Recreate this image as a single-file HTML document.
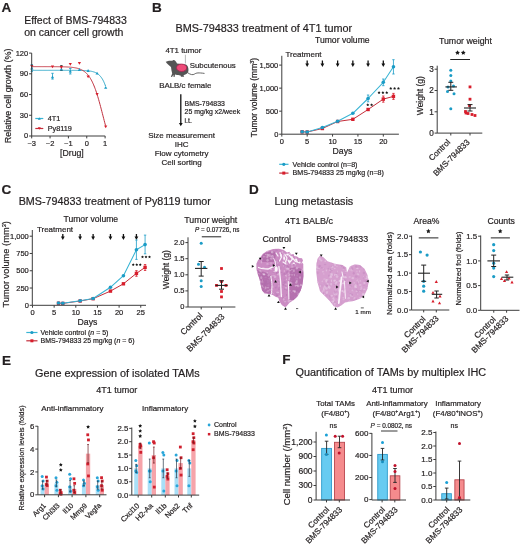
<!DOCTYPE html><html><head><meta charset="utf-8"><style>html,body{margin:0;padding:0;background:#fff;}svg{display:block;}text{font-family:"Liberation Sans",sans-serif;fill:#231f20;stroke:#231f20;stroke-width:0.2px;}</style></head><body>
<svg width="520" height="544" viewBox="0 0 520 544">
<rect width="520" height="544" fill="#fff"/>
<text x="1.5" y="12.2" font-size="13.5" font-weight="bold">A</text>
<text x="24.2" y="24.4" font-size="10.5">Effect of BMS-794833</text>
<text x="24.2" y="36.4" font-size="10.5">on cancer cell growth</text>
<polyline points="31.7,70.34 32.16,70.34 32.62,70.34 33.08,70.34 33.54,70.34 33.99,70.34 34.45,70.34 34.91,70.34 35.37,70.34 35.83,70.34 36.29,70.34 36.75,70.34 37.2,70.34 37.66,70.34 38.12,70.34 38.58,70.34 39.04,70.34 39.5,70.34 39.96,70.34 40.42,70.34 40.88,70.34 41.33,70.34 41.79,70.34 42.25,70.34 42.71,70.34 43.17,70.34 43.63,70.34 44.09,70.34 44.55,70.34 45,70.34 45.46,70.34 45.92,70.34 46.38,70.34 46.84,70.34 47.3,70.34 47.76,70.34 48.22,70.34 48.67,70.34 49.13,70.34 49.59,70.34 50.05,70.34 50.51,70.34 50.97,70.34 51.43,70.34 51.89,70.34 52.34,70.34 52.8,70.34 53.26,70.34 53.72,70.34 54.18,70.34 54.64,70.34 55.1,70.34 55.56,70.34 56.01,70.34 56.47,70.34 56.93,70.34 57.39,70.34 57.85,70.34 58.31,70.34 58.77,70.34 59.23,70.34 59.68,70.34 60.14,70.34 60.6,70.34 61.06,70.34 61.52,70.34 61.98,70.34 62.44,70.34 62.89,70.34 63.35,70.34 63.81,70.34 64.27,70.34 64.73,70.34 65.19,70.34 65.65,70.34 66.11,70.34 66.56,70.34 67.02,70.34 67.48,70.34 67.94,70.34 68.4,70.34 68.86,70.35 69.32,70.35 69.78,70.35 70.23,70.35 70.69,70.35 71.15,70.35 71.61,70.35 72.07,70.35 72.53,70.36 72.99,70.36 73.45,70.36 73.91,70.36 74.36,70.37 74.82,70.37 75.28,70.37 75.74,70.38 76.2,70.38 76.66,70.38 77.12,70.39 77.58,70.39 78.03,70.4 78.49,70.41 78.95,70.41 79.41,70.42 79.87,70.43 80.33,70.44 80.79,70.45 81.25,70.46 81.7,70.47 82.16,70.48 82.62,70.5 83.08,70.51 83.54,70.53 84,70.55 84.46,70.57 84.92,70.6 85.37,70.62 85.83,70.65 86.29,70.68 86.75,70.71 87.21,70.75 87.67,70.79 88.13,70.84 88.59,70.89 89.04,70.94 89.5,71 89.96,71.06 90.42,71.14 90.88,71.21 91.34,71.3 91.8,71.4 92.25,71.5 92.71,71.61 93.17,71.74 93.63,71.88 94.09,72.03 94.55,72.19 95.01,72.37 95.47,72.57 95.93,72.78 96.38,73.02 96.84,73.28 97.3,73.56 97.76,73.87 98.22,74.21 98.68,74.58 99.14,74.99 99.6,75.43 100.05,75.91 100.51,76.44 100.97,77.01 101.43,77.63 101.89,78.3 102.35,79.04 102.81,79.83 103.27,80.69 103.72,81.62 104.18,82.63 104.64,83.71 105.1,84.88 105.56,86.13" fill="none" stroke="#2fa8c8" stroke-width="1" stroke-linejoin="round"/>
<polyline points="31.7,66.64 32.16,66.64 32.62,66.64 33.08,66.64 33.54,66.64 33.99,66.64 34.45,66.64 34.91,66.64 35.37,66.64 35.83,66.64 36.29,66.64 36.75,66.64 37.2,66.64 37.66,66.64 38.12,66.64 38.58,66.64 39.04,66.64 39.5,66.64 39.96,66.64 40.42,66.65 40.88,66.65 41.33,66.65 41.79,66.65 42.25,66.65 42.71,66.65 43.17,66.65 43.63,66.65 44.09,66.65 44.55,66.65 45,66.65 45.46,66.65 45.92,66.65 46.38,66.65 46.84,66.65 47.3,66.65 47.76,66.66 48.22,66.66 48.67,66.66 49.13,66.66 49.59,66.66 50.05,66.66 50.51,66.66 50.97,66.67 51.43,66.67 51.89,66.67 52.34,66.67 52.8,66.67 53.26,66.68 53.72,66.68 54.18,66.68 54.64,66.69 55.1,66.69 55.56,66.69 56.01,66.7 56.47,66.7 56.93,66.71 57.39,66.71 57.85,66.72 58.31,66.72 58.77,66.73 59.23,66.73 59.68,66.74 60.14,66.75 60.6,66.76 61.06,66.77 61.52,66.78 61.98,66.79 62.44,66.8 62.89,66.81 63.35,66.82 63.81,66.84 64.27,66.85 64.73,66.87 65.19,66.88 65.65,66.9 66.11,66.92 66.56,66.94 67.02,66.97 67.48,66.99 67.94,67.02 68.4,67.04 68.86,67.07 69.32,67.11 69.78,67.14 70.23,67.18 70.69,67.22 71.15,67.26 71.61,67.31 72.07,67.36 72.53,67.42 72.99,67.47 73.45,67.54 73.91,67.6 74.36,67.68 74.82,67.75 75.28,67.84 75.74,67.93 76.2,68.02 76.66,68.12 77.12,68.24 77.58,68.35 78.03,68.48 78.49,68.62 78.95,68.76 79.41,68.92 79.87,69.09 80.33,69.27 80.79,69.46 81.25,69.67 81.7,69.89 82.16,70.13 82.62,70.38 83.08,70.65 83.54,70.94 84,71.25 84.46,71.59 84.92,71.94 85.37,72.32 85.83,72.72 86.29,73.15 86.75,73.61 87.21,74.09 87.67,74.61 88.13,75.16 88.59,75.75 89.04,76.37 89.5,77.02 89.96,77.72 90.42,78.46 90.88,79.24 91.34,80.06 91.8,80.93 92.25,81.84 92.71,82.8 93.17,83.81 93.63,84.86 94.09,85.97 94.55,87.13 95.01,88.33 95.47,89.59 95.93,90.89 96.38,92.25 96.84,93.65 97.3,95.1 97.76,96.59 98.22,98.13 98.68,99.7 99.14,101.32 99.6,102.97 100.05,104.65 100.51,106.35 100.97,108.08 101.43,109.83 101.89,111.6 102.35,113.37 102.81,115.15 103.27,116.94 103.72,118.71 104.18,120.48 104.64,122.24 105.1,123.98 105.56,125.69" fill="none" stroke="#c0303e" stroke-width="1" stroke-linejoin="round"/>
<line x1="31.8" y1="64.5" x2="31.8" y2="71.4" stroke="#1b9cc6" stroke-width="0.8"/>
<line x1="30.6" y1="64.5" x2="33" y2="64.5" stroke="#1b9cc6" stroke-width="0.8"/>
<line x1="30.6" y1="71.4" x2="33" y2="71.4" stroke="#1b9cc6" stroke-width="0.8"/>
<line x1="52.5" y1="73.3" x2="52.5" y2="79.1" stroke="#1b9cc6" stroke-width="0.8"/>
<line x1="51.3" y1="73.3" x2="53.7" y2="73.3" stroke="#1b9cc6" stroke-width="0.8"/>
<line x1="51.3" y1="79.1" x2="53.7" y2="79.1" stroke="#1b9cc6" stroke-width="0.8"/>
<line x1="61.4" y1="65.5" x2="61.4" y2="70.5" stroke="#333" stroke-width="0.8"/>
<line x1="60.2" y1="65.5" x2="62.6" y2="65.5" stroke="#333" stroke-width="0.8"/>
<line x1="60.2" y1="70.5" x2="62.6" y2="70.5" stroke="#333" stroke-width="0.8"/>
<line x1="70.3" y1="68.5" x2="70.3" y2="74" stroke="#1b9cc6" stroke-width="0.8"/>
<line x1="69.1" y1="68.5" x2="71.5" y2="68.5" stroke="#1b9cc6" stroke-width="0.8"/>
<line x1="69.1" y1="74" x2="71.5" y2="74" stroke="#1b9cc6" stroke-width="0.8"/>
<polygon points="30.2,69.39 33.4,69.39 31.8,66.61" fill="#1b9cc6"/>
<polygon points="50.9,78.19 54.1,78.19 52.5,75.41" fill="#1b9cc6"/>
<polygon points="59.8,70.39 63,70.39 61.4,67.61" fill="#1b9cc6"/>
<polygon points="68.7,72.59 71.9,72.59 70.3,69.81" fill="#1b9cc6"/>
<polygon points="77.8,70.89 81,70.89 79.4,68.11" fill="#1b9cc6"/>
<polygon points="86.5,71.89 89.7,71.89 88.1,69.11" fill="#1b9cc6"/>
<polygon points="95.5,74.49 98.7,74.49 97.1,71.71" fill="#1b9cc6"/>
<polygon points="104.1,88.69 107.3,88.69 105.7,85.91" fill="#1b9cc6"/>
<polygon points="30.2,65.11 33.4,65.11 31.8,67.89" fill="#d81e2c"/>
<polygon points="50.9,65.41 54.1,65.41 52.5,68.19" fill="#d81e2c"/>
<polygon points="59.8,66.11 63,66.11 61.4,68.89" fill="#d81e2c"/>
<polygon points="68.7,63.01 71.9,63.01 70.3,65.79" fill="#d81e2c"/>
<polygon points="77.8,62.01 81,62.01 79.4,64.79" fill="#d81e2c"/>
<polygon points="86.5,75.41 89.7,75.41 88.1,78.19" fill="#d81e2c"/>
<polygon points="95.5,92.91 98.7,92.91 97.1,95.69" fill="#d81e2c"/>
<polygon points="104.1,125.51 107.3,125.51 105.7,128.29" fill="#d81e2c"/>
<line x1="31.7" y1="53.1" x2="31.7" y2="136" stroke="#3c3c3c" stroke-width="1"/>
<line x1="29.1" y1="53.1" x2="31.7" y2="53.1" stroke="#3c3c3c" stroke-width="1"/>
<text x="28.2" y="55.57" font-size="7.5" text-anchor="end">120</text>
<line x1="29.1" y1="73.82" x2="31.7" y2="73.82" stroke="#3c3c3c" stroke-width="1"/>
<text x="28.2" y="76.3" font-size="7.5" text-anchor="end">90</text>
<line x1="29.1" y1="94.55" x2="31.7" y2="94.55" stroke="#3c3c3c" stroke-width="1"/>
<text x="28.2" y="97.02" font-size="7.5" text-anchor="end">60</text>
<line x1="29.1" y1="115.28" x2="31.7" y2="115.28" stroke="#3c3c3c" stroke-width="1"/>
<text x="28.2" y="117.75" font-size="7.5" text-anchor="end">30</text>
<line x1="29.1" y1="136" x2="31.7" y2="136" stroke="#3c3c3c" stroke-width="1"/>
<text x="28.2" y="138.47" font-size="7.5" text-anchor="end">0</text>
<line x1="31.7" y1="136" x2="105.2" y2="136" stroke="#3c3c3c" stroke-width="1"/>
<line x1="31.7" y1="136" x2="31.7" y2="138.4" stroke="#3c3c3c" stroke-width="1"/>
<text x="31.7" y="145.7" font-size="7.5" text-anchor="middle">−3</text>
<line x1="50.05" y1="136" x2="50.05" y2="138.4" stroke="#3c3c3c" stroke-width="1"/>
<text x="50.05" y="145.7" font-size="7.5" text-anchor="middle">−2</text>
<line x1="68.4" y1="136" x2="68.4" y2="138.4" stroke="#3c3c3c" stroke-width="1"/>
<text x="68.4" y="145.7" font-size="7.5" text-anchor="middle">−1</text>
<line x1="86.75" y1="136" x2="86.75" y2="138.4" stroke="#3c3c3c" stroke-width="1"/>
<text x="86.75" y="145.7" font-size="7.5" text-anchor="middle">0</text>
<line x1="105.1" y1="136" x2="105.1" y2="138.4" stroke="#3c3c3c" stroke-width="1"/>
<text x="105.1" y="145.7" font-size="7.5" text-anchor="middle">1</text>
<text x="71.9" y="155.5" font-size="8.7" text-anchor="middle">[Drug]</text>
<text x="10.8" y="95.9" font-size="9" text-anchor="middle" transform="rotate(-90 10.8 95.9)">Relative cell growth (%)</text>
<line x1="35.3" y1="118.5" x2="43.3" y2="118.5" stroke="#38b4d4" stroke-width="1.2"/>
<polygon points="37.8,119.81 40.8,119.81 39.3,117.19" fill="#1b9cc6"/>
<text x="47.7" y="120.8" font-size="7.3">4T1</text>
<line x1="35.3" y1="128.5" x2="43.3" y2="128.5" stroke="#c42d3a" stroke-width="1.2"/>
<polygon points="37.8,127.19 40.8,127.19 39.3,129.81" fill="#d81e2c"/>
<text x="47.7" y="130.8" font-size="7.3">Py8119</text>
<text x="152" y="12.2" font-size="13.5" font-weight="bold">B</text>
<text x="175.6" y="31.6" font-size="10.85">BMS-794833 treatment of 4T1 tumor</text>
<text x="165.4" y="53.1" font-size="7.9">4T1 tumor</text>
<line x1="185.4" y1="54.8" x2="185.4" y2="63.5" stroke="#888" stroke-width="0.6"/>
<path d="M165.7,61.8 C167.5,60.8 170,60.4 172.4,60.8 C172.7,59.7 174.5,59.5 175.2,60.8 C176,61.5 176.5,62.5 177,63.5 L186,64.5 C188.5,66 189,70 188,72.5 C187,74 185,74.8 183.5,75.2 L184.2,76.7 L181,76.7 L180.5,75.4 C178.5,75.4 176.5,75 175,74.5 L174.6,76.9 L173.6,76.9 L173.4,74.8 L172,76.9 L170.9,76.7 L172.2,73.5 C171.6,71.5 171.2,69 171,67 C169,65.5 167,63.8 165.7,61.8 Z" fill="#555"/>
<path d="M187.8,72.8 C190.5,74.6 192.8,75.3 194.6,74 C196.3,72.8 198.5,72.6 204.5,73.4" stroke="#555" stroke-width="0.9" fill="none"/>
<ellipse cx="181.6" cy="67.8" rx="5.1" ry="3.7" fill="#ee4b79" stroke="#a8224f" stroke-width="0.8"/>
<text x="189.7" y="67.8" font-size="7.9">Subcutenous</text>
<text x="159.2" y="88" font-size="7.9">BALB/c female</text>
<line x1="180.8" y1="94.3" x2="180.8" y2="124.3" stroke="#111" stroke-width="1.3"/>
<polygon points="178.9,122.9 182.7,122.9 180.8,126.3" fill="#111"/>
<text x="184.6" y="105.9" font-size="6.9">BMS-794833</text>
<text x="184.6" y="114.4" font-size="6.9">25 mg/kg x2/week</text>
<text x="184.6" y="123.2" font-size="6.9">i.t.</text>
<text x="181.6" y="137.6" font-size="8" text-anchor="middle">Size measurement</text>
<text x="181.6" y="146.6" font-size="8" text-anchor="middle">IHC</text>
<text x="181.6" y="155.6" font-size="8" text-anchor="middle">Flow cytometry</text>
<text x="181.6" y="164.6" font-size="8" text-anchor="middle">Cell sorting</text>
<text x="342.3" y="42.7" font-size="8.6" text-anchor="middle">Tumor volume</text>
<text x="285.4" y="56.5" font-size="8">Treatment</text>
<line x1="307.18" y1="60.5" x2="307.18" y2="65" stroke="#111" stroke-width="1.3"/>
<polygon points="305.28,63.6 309.07,63.6 307.18,67" fill="#111"/>
<line x1="322.4" y1="60.5" x2="322.4" y2="65" stroke="#111" stroke-width="1.3"/>
<polygon points="320.5,63.6 324.3,63.6 322.4,67" fill="#111"/>
<line x1="337.62" y1="60.5" x2="337.62" y2="65" stroke="#111" stroke-width="1.3"/>
<polygon points="335.73,63.6 339.52,63.6 337.62,67" fill="#111"/>
<line x1="352.85" y1="60.5" x2="352.85" y2="65" stroke="#111" stroke-width="1.3"/>
<polygon points="350.95,63.6 354.75,63.6 352.85,67" fill="#111"/>
<line x1="368.08" y1="60.5" x2="368.08" y2="65" stroke="#111" stroke-width="1.3"/>
<polygon points="366.18,63.6 369.98,63.6 368.08,67" fill="#111"/>
<line x1="383.3" y1="60.5" x2="383.3" y2="65" stroke="#111" stroke-width="1.3"/>
<polygon points="381.4,63.6 385.2,63.6 383.3,67" fill="#111"/>
<polyline points="302.1,131.8 307.18,132 322.4,128.5 337.62,121.5 352.85,119.3 368.08,109.5 383.3,99.1 393.45,96.4" fill="none" stroke="#c42d3a" stroke-width="1" stroke-linejoin="round"/>
<line x1="383.3" y1="96" x2="383.3" y2="102.2" stroke="#d81e2c" stroke-width="0.8"/>
<line x1="382.1" y1="96" x2="384.5" y2="96" stroke="#d81e2c" stroke-width="0.8"/>
<line x1="382.1" y1="102.2" x2="384.5" y2="102.2" stroke="#d81e2c" stroke-width="0.8"/>
<line x1="393.45" y1="93.4" x2="393.45" y2="99.4" stroke="#d81e2c" stroke-width="0.8"/>
<line x1="392.25" y1="93.4" x2="394.65" y2="93.4" stroke="#d81e2c" stroke-width="0.8"/>
<line x1="392.25" y1="99.4" x2="394.65" y2="99.4" stroke="#d81e2c" stroke-width="0.8"/>
<rect x="300.4" y="130.1" width="3.4" height="3.4" fill="#d81e2c"/>
<rect x="305.48" y="130.3" width="3.4" height="3.4" fill="#d81e2c"/>
<rect x="320.7" y="126.8" width="3.4" height="3.4" fill="#d81e2c"/>
<rect x="335.93" y="119.8" width="3.4" height="3.4" fill="#d81e2c"/>
<rect x="351.15" y="117.6" width="3.4" height="3.4" fill="#d81e2c"/>
<rect x="366.38" y="107.8" width="3.4" height="3.4" fill="#d81e2c"/>
<rect x="381.6" y="97.4" width="3.4" height="3.4" fill="#d81e2c"/>
<rect x="391.75" y="94.7" width="3.4" height="3.4" fill="#d81e2c"/>
<polyline points="302.1,131.8 307.18,132 322.4,127.5 337.62,121.2 352.85,113.3 368.08,98.5 383.3,82.3 393.45,66.8" fill="none" stroke="#38b4d4" stroke-width="1.05" stroke-linejoin="round"/>
<line x1="368.08" y1="95" x2="368.08" y2="101.8" stroke="#1b9cc6" stroke-width="0.8"/>
<line x1="366.88" y1="95" x2="369.28" y2="95" stroke="#1b9cc6" stroke-width="0.8"/>
<line x1="366.88" y1="101.8" x2="369.28" y2="101.8" stroke="#1b9cc6" stroke-width="0.8"/>
<line x1="383.3" y1="79" x2="383.3" y2="85.7" stroke="#1b9cc6" stroke-width="0.8"/>
<line x1="382.1" y1="79" x2="384.5" y2="79" stroke="#1b9cc6" stroke-width="0.8"/>
<line x1="382.1" y1="85.7" x2="384.5" y2="85.7" stroke="#1b9cc6" stroke-width="0.8"/>
<line x1="393.45" y1="59.7" x2="393.45" y2="74" stroke="#1b9cc6" stroke-width="0.8"/>
<line x1="392.25" y1="59.7" x2="394.65" y2="59.7" stroke="#1b9cc6" stroke-width="0.8"/>
<line x1="392.25" y1="74" x2="394.65" y2="74" stroke="#1b9cc6" stroke-width="0.8"/>
<circle cx="302.1" cy="131.8" r="1.8" fill="#1b9cc6"/>
<circle cx="307.18" cy="132" r="1.8" fill="#1b9cc6"/>
<circle cx="322.4" cy="127.5" r="1.8" fill="#1b9cc6"/>
<circle cx="337.62" cy="121.2" r="1.8" fill="#1b9cc6"/>
<circle cx="352.85" cy="113.3" r="1.8" fill="#1b9cc6"/>
<circle cx="368.08" cy="98.5" r="1.8" fill="#1b9cc6"/>
<circle cx="383.3" cy="82.3" r="1.8" fill="#1b9cc6"/>
<circle cx="393.45" cy="66.8" r="1.8" fill="#1b9cc6"/>
<polygon points="367.77,103.2 368.26,104.13 369.3,104.31 368.57,105.06 368.72,106.09 367.77,105.63 366.83,106.09 366.98,105.06 366.25,104.31 367.29,104.13" fill="#1a1a1a"/>
<polygon points="371.62,103.2 372.11,104.13 373.15,104.31 372.42,105.06 372.57,106.09 371.62,105.63 370.68,106.09 370.83,105.06 370.1,104.31 371.14,104.13" fill="#1a1a1a"/>
<polygon points="379.05,91 379.54,91.93 380.57,92.11 379.84,92.86 379.99,93.89 379.05,93.43 378.11,93.89 378.26,92.86 377.53,92.11 378.56,91.93" fill="#1a1a1a"/>
<polygon points="382.9,91 383.39,91.93 384.42,92.11 383.69,92.86 383.84,93.89 382.9,93.43 381.96,93.89 382.11,92.86 381.38,92.11 382.41,91.93" fill="#1a1a1a"/>
<polygon points="386.75,91 387.24,91.93 388.27,92.11 387.54,92.86 387.69,93.89 386.75,93.43 385.81,93.89 385.96,92.86 385.23,92.11 386.26,91.93" fill="#1a1a1a"/>
<polygon points="390.75,86.9 391.24,87.83 392.27,88.01 391.54,88.76 391.69,89.79 390.75,89.33 389.81,89.79 389.96,88.76 389.23,88.01 390.26,87.83" fill="#1a1a1a"/>
<polygon points="394.6,86.9 395.09,87.83 396.12,88.01 395.39,88.76 395.54,89.79 394.6,89.33 393.66,89.79 393.81,88.76 393.08,88.01 394.11,87.83" fill="#1a1a1a"/>
<polygon points="398.45,86.9 398.94,87.83 399.97,88.01 399.24,88.76 399.39,89.79 398.45,89.33 397.51,89.79 397.66,88.76 396.93,88.01 397.96,87.83" fill="#1a1a1a"/>
<line x1="281.8" y1="55.8" x2="281.8" y2="134.2" stroke="#3c3c3c" stroke-width="1"/>
<line x1="279.2" y1="134.2" x2="281.8" y2="134.2" stroke="#3c3c3c" stroke-width="1"/>
<text x="278.3" y="136.67" font-size="7.5" text-anchor="end">0</text>
<line x1="279.2" y1="111.17" x2="281.8" y2="111.17" stroke="#3c3c3c" stroke-width="1"/>
<text x="278.3" y="113.64" font-size="7.5" text-anchor="end">500</text>
<line x1="279.2" y1="88.13" x2="281.8" y2="88.13" stroke="#3c3c3c" stroke-width="1"/>
<text x="278.3" y="90.61" font-size="7.5" text-anchor="end">1,000</text>
<line x1="279.2" y1="65.1" x2="281.8" y2="65.1" stroke="#3c3c3c" stroke-width="1"/>
<text x="278.3" y="67.57" font-size="7.5" text-anchor="end">1,500</text>
<line x1="281.8" y1="134.2" x2="398.9" y2="134.2" stroke="#3c3c3c" stroke-width="1"/>
<line x1="281.8" y1="134.2" x2="281.8" y2="136.6" stroke="#3c3c3c" stroke-width="1"/>
<text x="281.8" y="143.9" font-size="7.5" text-anchor="middle">0</text>
<line x1="307.18" y1="134.2" x2="307.18" y2="136.6" stroke="#3c3c3c" stroke-width="1"/>
<text x="307.18" y="143.9" font-size="7.5" text-anchor="middle">5</text>
<line x1="332.55" y1="134.2" x2="332.55" y2="136.6" stroke="#3c3c3c" stroke-width="1"/>
<text x="332.55" y="143.9" font-size="7.5" text-anchor="middle">10</text>
<line x1="357.93" y1="134.2" x2="357.93" y2="136.6" stroke="#3c3c3c" stroke-width="1"/>
<text x="357.93" y="143.9" font-size="7.5" text-anchor="middle">15</text>
<line x1="383.3" y1="134.2" x2="383.3" y2="136.6" stroke="#3c3c3c" stroke-width="1"/>
<text x="383.3" y="143.9" font-size="7.5" text-anchor="middle">20</text>
<text x="342.5" y="153.8" font-size="8.7" text-anchor="middle">Days</text>
<text x="256.5" y="97.5" font-size="8.5" text-anchor="middle" transform="rotate(-90 256.5 97.5)">Tumor volume (mm<tspan dy="-3" font-size="5.5">3</tspan><tspan dy="3">)</tspan></text>
<line x1="279.2" y1="164.3" x2="288.5" y2="164.3" stroke="#38b4d4" stroke-width="1.2"/>
<circle cx="283.8" cy="164.3" r="1.6" fill="#1b9cc6"/>
<text x="292.6" y="166.6" font-size="7.1">Vehicle control (n=8)</text>
<line x1="279.2" y1="173.1" x2="288.5" y2="173.1" stroke="#c42d3a" stroke-width="1.2"/>
<rect x="282.3" y="171.6" width="3" height="3" fill="#d81e2c"/>
<text x="292.6" y="175.4" font-size="7.1">BMS-794833 25 mg/kg (n=8)</text>
<text x="465.4" y="43.5" font-size="8.8" text-anchor="middle">Tumor weight</text>
<polygon points="457.52,50.25 458.29,51.7 459.9,51.98 458.76,53.15 458.99,54.77 457.52,54.05 456.06,54.77 456.29,53.15 455.15,51.98 456.76,51.7" fill="#1a1a1a"/>
<polygon points="463.27,50.25 464.04,51.7 465.65,51.98 464.51,53.15 464.74,54.77 463.27,54.05 461.81,54.77 462.04,53.15 460.9,51.98 462.51,51.7" fill="#1a1a1a"/>
<line x1="450.25" y1="59.5" x2="470" y2="59.5" stroke="#222" stroke-width="1"/>
<circle cx="450.8" cy="70.3" r="1.5" fill="#1b9cc6"/>
<circle cx="450.8" cy="75.4" r="1.5" fill="#1b9cc6"/>
<circle cx="450.8" cy="81.1" r="1.5" fill="#1b9cc6"/>
<circle cx="448" cy="86.9" r="1.5" fill="#1b9cc6"/>
<circle cx="453.5" cy="86" r="1.5" fill="#1b9cc6"/>
<circle cx="447.5" cy="91.5" r="1.5" fill="#1b9cc6"/>
<circle cx="454" cy="93.8" r="1.5" fill="#1b9cc6"/>
<circle cx="450.8" cy="108.8" r="1.5" fill="#1b9cc6"/>
<line x1="445.4" y1="86.9" x2="456.9" y2="86.9" stroke="#222" stroke-width="1.1"/>
<line x1="450.8" y1="82.3" x2="450.8" y2="90.3" stroke="#222" stroke-width="1"/>
<line x1="448.3" y1="82.3" x2="453.3" y2="82.3" stroke="#222" stroke-width="1"/>
<line x1="448.3" y1="90.3" x2="453.3" y2="90.3" stroke="#222" stroke-width="1"/>
<rect x="468.6" y="85.5" width="2.8" height="2.8" fill="#d81e2c"/>
<rect x="468.6" y="97.8" width="2.8" height="2.8" fill="#d81e2c"/>
<rect x="464.1" y="110.1" width="2.8" height="2.8" fill="#d81e2c"/>
<rect x="466.6" y="112.1" width="2.8" height="2.8" fill="#d81e2c"/>
<rect x="470.6" y="113.1" width="2.8" height="2.8" fill="#d81e2c"/>
<rect x="473.6" y="114.1" width="2.8" height="2.8" fill="#d81e2c"/>
<rect x="468.1" y="104.1" width="2.8" height="2.8" fill="#d81e2c"/>
<rect x="464.6" y="111.6" width="2.8" height="2.8" fill="#d81e2c"/>
<line x1="464" y1="108" x2="476" y2="108" stroke="#222" stroke-width="1.1"/>
<line x1="470" y1="104.6" x2="470" y2="111" stroke="#222" stroke-width="1"/>
<line x1="467.5" y1="104.6" x2="472.5" y2="104.6" stroke="#222" stroke-width="1"/>
<line x1="467.5" y1="111" x2="472.5" y2="111" stroke="#222" stroke-width="1"/>
<line x1="437.2" y1="65.7" x2="437.2" y2="133.1" stroke="#3c3c3c" stroke-width="1"/>
<line x1="434.6" y1="133.1" x2="437.2" y2="133.1" stroke="#3c3c3c" stroke-width="1"/>
<text x="433.7" y="135.81" font-size="8.2" text-anchor="end">0</text>
<line x1="434.6" y1="111.8" x2="437.2" y2="111.8" stroke="#3c3c3c" stroke-width="1"/>
<text x="433.7" y="114.51" font-size="8.2" text-anchor="end">1</text>
<line x1="434.6" y1="90.5" x2="437.2" y2="90.5" stroke="#3c3c3c" stroke-width="1"/>
<text x="433.7" y="93.21" font-size="8.2" text-anchor="end">2</text>
<line x1="434.6" y1="69.2" x2="437.2" y2="69.2" stroke="#3c3c3c" stroke-width="1"/>
<text x="433.7" y="71.91" font-size="8.2" text-anchor="end">3</text>
<line x1="437.2" y1="133.1" x2="482.3" y2="133.1" stroke="#3c3c3c" stroke-width="1"/>
<line x1="450.8" y1="133.1" x2="450.8" y2="135.5" stroke="#3c3c3c" stroke-width="1"/>
<line x1="470" y1="133.1" x2="470" y2="135.5" stroke="#3c3c3c" stroke-width="1"/>
<text x="450.8" y="142.7" font-size="8.2" text-anchor="end" transform="rotate(-45 450.8 142.7)">Control</text>
<text x="470.3" y="142.7" font-size="8.2" text-anchor="end" transform="rotate(-45 470.3 142.7)">BMS-794833</text>
<text x="422.7" y="95.7" font-size="8.5" text-anchor="middle" transform="rotate(-90 422.7 95.7)">Weight (g)</text>
<text x="1.5" y="194.3" font-size="13.5" font-weight="bold">C</text>
<text x="18.7" y="205.2" font-size="10.75">BMS-794833 treatment of Py8119 tumor</text>
<text x="63.5" y="222.1" font-size="8.6">Tumor volume</text>
<text x="36.9" y="232" font-size="8">Treatment</text>
<line x1="62.81" y1="234" x2="62.81" y2="238" stroke="#111" stroke-width="1.3"/>
<polygon points="60.91,236.6 64.71,236.6 62.81,240" fill="#111"/>
<line x1="80.13" y1="234" x2="80.13" y2="238" stroke="#111" stroke-width="1.3"/>
<polygon points="78.23,236.6 82.03,236.6 80.13,240" fill="#111"/>
<line x1="93.12" y1="234" x2="93.12" y2="238" stroke="#111" stroke-width="1.3"/>
<polygon points="91.22,236.6 95.02,236.6 93.12,240" fill="#111"/>
<line x1="110.44" y1="234" x2="110.44" y2="238" stroke="#111" stroke-width="1.3"/>
<polygon points="108.54,236.6 112.34,236.6 110.44,240" fill="#111"/>
<line x1="123.43" y1="234" x2="123.43" y2="238" stroke="#111" stroke-width="1.3"/>
<polygon points="121.53,236.6 125.33,236.6 123.43,240" fill="#111"/>
<line x1="136.42" y1="234" x2="136.42" y2="238" stroke="#111" stroke-width="1.3"/>
<polygon points="134.52,236.6 138.32,236.6 136.42,240" fill="#111"/>
<polyline points="58.48,303.2 62.81,303.4 80.13,301 93.12,298.7 110.44,291.1 123.43,283.8 136.42,273.4 145.08,267.4" fill="none" stroke="#c42d3a" stroke-width="1" stroke-linejoin="round"/>
<line x1="136.42" y1="270.6" x2="136.42" y2="276.3" stroke="#d81e2c" stroke-width="0.8"/>
<line x1="135.22" y1="270.6" x2="137.62" y2="270.6" stroke="#d81e2c" stroke-width="0.8"/>
<line x1="135.22" y1="276.3" x2="137.62" y2="276.3" stroke="#d81e2c" stroke-width="0.8"/>
<line x1="145.08" y1="264.5" x2="145.08" y2="270.5" stroke="#d81e2c" stroke-width="0.8"/>
<line x1="143.88" y1="264.5" x2="146.28" y2="264.5" stroke="#d81e2c" stroke-width="0.8"/>
<line x1="143.88" y1="270.5" x2="146.28" y2="270.5" stroke="#d81e2c" stroke-width="0.8"/>
<rect x="56.78" y="301.5" width="3.4" height="3.4" fill="#d81e2c"/>
<rect x="61.11" y="301.7" width="3.4" height="3.4" fill="#d81e2c"/>
<rect x="78.43" y="299.3" width="3.4" height="3.4" fill="#d81e2c"/>
<rect x="91.42" y="297" width="3.4" height="3.4" fill="#d81e2c"/>
<rect x="108.74" y="289.4" width="3.4" height="3.4" fill="#d81e2c"/>
<rect x="121.73" y="282.1" width="3.4" height="3.4" fill="#d81e2c"/>
<rect x="134.72" y="271.7" width="3.4" height="3.4" fill="#d81e2c"/>
<rect x="143.38" y="265.7" width="3.4" height="3.4" fill="#d81e2c"/>
<polyline points="58.48,303 62.81,303.2 80.13,300.8 93.12,298.5 110.44,287.3 123.43,275.7 136.42,249.8 145.08,244.6" fill="none" stroke="#38b4d4" stroke-width="1.05" stroke-linejoin="round"/>
<line x1="136.42" y1="240" x2="136.42" y2="259.4" stroke="#1b9cc6" stroke-width="0.8"/>
<line x1="135.22" y1="240" x2="137.62" y2="240" stroke="#1b9cc6" stroke-width="0.8"/>
<line x1="135.22" y1="259.4" x2="137.62" y2="259.4" stroke="#1b9cc6" stroke-width="0.8"/>
<line x1="145.08" y1="235.1" x2="145.08" y2="253.8" stroke="#1b9cc6" stroke-width="0.8"/>
<line x1="143.88" y1="235.1" x2="146.28" y2="235.1" stroke="#1b9cc6" stroke-width="0.8"/>
<line x1="143.88" y1="253.8" x2="146.28" y2="253.8" stroke="#1b9cc6" stroke-width="0.8"/>
<circle cx="58.48" cy="303" r="1.8" fill="#1b9cc6"/>
<circle cx="62.81" cy="303.2" r="1.8" fill="#1b9cc6"/>
<circle cx="80.13" cy="300.8" r="1.8" fill="#1b9cc6"/>
<circle cx="93.12" cy="298.5" r="1.8" fill="#1b9cc6"/>
<circle cx="110.44" cy="287.3" r="1.8" fill="#1b9cc6"/>
<circle cx="123.43" cy="275.7" r="1.8" fill="#1b9cc6"/>
<circle cx="136.42" cy="249.8" r="1.8" fill="#1b9cc6"/>
<circle cx="145.08" cy="244.6" r="1.8" fill="#1b9cc6"/>
<polygon points="133.25,263.25 133.71,264.12 134.68,264.29 133.99,264.99 134.13,265.96 133.25,265.53 132.37,265.96 132.51,264.99 131.82,264.29 132.79,264.12" fill="#1a1a1a"/>
<polygon points="136.75,263.25 137.21,264.12 138.18,264.29 137.49,264.99 137.63,265.96 136.75,265.53 135.87,265.96 136.01,264.99 135.32,264.29 136.29,264.12" fill="#1a1a1a"/>
<polygon points="140.25,263.25 140.71,264.12 141.68,264.29 140.99,264.99 141.13,265.96 140.25,265.53 139.37,265.96 139.51,264.99 138.82,264.29 139.79,264.12" fill="#1a1a1a"/>
<polygon points="142.5,255.5 142.96,256.37 143.93,256.54 143.24,257.24 143.38,258.21 142.5,257.78 141.62,258.21 141.76,257.24 141.07,256.54 142.04,256.37" fill="#1a1a1a"/>
<polygon points="146,255.5 146.46,256.37 147.43,256.54 146.74,257.24 146.88,258.21 146,257.78 145.12,258.21 145.26,257.24 144.57,256.54 145.54,256.37" fill="#1a1a1a"/>
<polygon points="149.5,255.5 149.96,256.37 150.93,256.54 150.24,257.24 150.38,258.21 149.5,257.78 148.62,258.21 148.76,257.24 148.07,256.54 149.04,256.37" fill="#1a1a1a"/>
<line x1="32.3" y1="230" x2="32.3" y2="305.3" stroke="#3c3c3c" stroke-width="1"/>
<line x1="29.7" y1="305.3" x2="32.3" y2="305.3" stroke="#3c3c3c" stroke-width="1"/>
<text x="28.8" y="307.78" font-size="7.5" text-anchor="end">0</text>
<line x1="29.7" y1="288.02" x2="32.3" y2="288.02" stroke="#3c3c3c" stroke-width="1"/>
<text x="28.8" y="290.5" font-size="7.5" text-anchor="end">250</text>
<line x1="29.7" y1="270.75" x2="32.3" y2="270.75" stroke="#3c3c3c" stroke-width="1"/>
<text x="28.8" y="273.23" font-size="7.5" text-anchor="end">500</text>
<line x1="29.7" y1="253.47" x2="32.3" y2="253.47" stroke="#3c3c3c" stroke-width="1"/>
<text x="28.8" y="255.95" font-size="7.5" text-anchor="end">750</text>
<line x1="29.7" y1="236.2" x2="32.3" y2="236.2" stroke="#3c3c3c" stroke-width="1"/>
<text x="28.8" y="238.67" font-size="7.5" text-anchor="end">1,000</text>
<line x1="32.3" y1="305.3" x2="146" y2="305.3" stroke="#3c3c3c" stroke-width="1"/>
<line x1="32.5" y1="305.3" x2="32.5" y2="307.7" stroke="#3c3c3c" stroke-width="1"/>
<text x="32.5" y="315" font-size="7.5" text-anchor="middle">0</text>
<line x1="54.15" y1="305.3" x2="54.15" y2="307.7" stroke="#3c3c3c" stroke-width="1"/>
<text x="54.15" y="315" font-size="7.5" text-anchor="middle">5</text>
<line x1="75.8" y1="305.3" x2="75.8" y2="307.7" stroke="#3c3c3c" stroke-width="1"/>
<text x="75.8" y="315" font-size="7.5" text-anchor="middle">10</text>
<line x1="97.45" y1="305.3" x2="97.45" y2="307.7" stroke="#3c3c3c" stroke-width="1"/>
<text x="97.45" y="315" font-size="7.5" text-anchor="middle">15</text>
<line x1="119.1" y1="305.3" x2="119.1" y2="307.7" stroke="#3c3c3c" stroke-width="1"/>
<text x="119.1" y="315" font-size="7.5" text-anchor="middle">20</text>
<line x1="140.75" y1="305.3" x2="140.75" y2="307.7" stroke="#3c3c3c" stroke-width="1"/>
<text x="140.75" y="315" font-size="7.5" text-anchor="middle">25</text>
<text x="87.5" y="324.5" font-size="8.7" text-anchor="middle">Days</text>
<text x="8.8" y="264.3" font-size="9.3" text-anchor="middle" transform="rotate(-90 8.8 264.3)">Tumor volume (mm<tspan dy="-3" font-size="5.6">3</tspan><tspan dy="3">)</tspan></text>
<line x1="26.3" y1="332.5" x2="37.5" y2="332.5" stroke="#38b4d4" stroke-width="1.2"/>
<circle cx="31.9" cy="332.5" r="1.6" fill="#1b9cc6"/>
<text x="40.5" y="334.9" font-size="7">Vehicle control (<tspan font-style="italic">n</tspan> = 5)</text>
<line x1="26.3" y1="340.8" x2="37.5" y2="340.8" stroke="#c42d3a" stroke-width="1.2"/>
<rect x="30.4" y="339.3" width="3" height="3" fill="#d81e2c"/>
<text x="40.5" y="343.2" font-size="7">BMS-794833 25 mg/kg (<tspan font-style="italic">n</tspan> = 6)</text>
<text x="210.8" y="222.7" font-size="8.8" text-anchor="middle">Tumor weight</text>
<text x="195.1" y="231.5" font-size="6.3"><tspan font-style="italic">P</tspan> = 0.07726, ns</text>
<line x1="201.8" y1="236.8" x2="221.2" y2="236.8" stroke="#222" stroke-width="1"/>
<circle cx="201.2" cy="243.2" r="1.5" fill="#1b9cc6"/>
<circle cx="198.5" cy="264.2" r="1.5" fill="#1b9cc6"/>
<circle cx="204.5" cy="267.3" r="1.5" fill="#1b9cc6"/>
<circle cx="201.2" cy="280.8" r="1.5" fill="#1b9cc6"/>
<circle cx="201.2" cy="286.5" r="1.5" fill="#1b9cc6"/>
<line x1="195" y1="268.4" x2="207.4" y2="268.4" stroke="#222" stroke-width="1.1"/>
<line x1="201.2" y1="261.5" x2="201.2" y2="276.1" stroke="#222" stroke-width="1"/>
<line x1="198.7" y1="261.5" x2="203.7" y2="261.5" stroke="#222" stroke-width="1"/>
<line x1="198.7" y1="276.1" x2="203.7" y2="276.1" stroke="#222" stroke-width="1"/>
<rect x="220.1" y="267.1" width="2.8" height="2.8" fill="#d81e2c"/>
<rect x="220.1" y="280.1" width="2.8" height="2.8" fill="#d81e2c"/>
<rect x="215.1" y="284" width="2.8" height="2.8" fill="#d81e2c"/>
<rect x="224.6" y="284" width="2.8" height="2.8" fill="#d81e2c"/>
<rect x="220.1" y="290.1" width="2.8" height="2.8" fill="#d81e2c"/>
<rect x="220.1" y="295.5" width="2.8" height="2.8" fill="#d81e2c"/>
<line x1="215.4" y1="285.4" x2="227.7" y2="285.4" stroke="#222" stroke-width="1.1"/>
<line x1="221.5" y1="280.8" x2="221.5" y2="289.2" stroke="#222" stroke-width="1"/>
<line x1="219" y1="280.8" x2="224" y2="280.8" stroke="#222" stroke-width="1"/>
<line x1="219" y1="289.2" x2="224" y2="289.2" stroke="#222" stroke-width="1"/>
<line x1="188" y1="237.3" x2="188" y2="307" stroke="#3c3c3c" stroke-width="1"/>
<line x1="185.4" y1="307" x2="188" y2="307" stroke="#3c3c3c" stroke-width="1"/>
<text x="184.5" y="309.48" font-size="7.5" text-anchor="end">0</text>
<line x1="185.4" y1="290.9" x2="188" y2="290.9" stroke="#3c3c3c" stroke-width="1"/>
<text x="184.5" y="293.38" font-size="7.5" text-anchor="end">0.5</text>
<line x1="185.4" y1="274.8" x2="188" y2="274.8" stroke="#3c3c3c" stroke-width="1"/>
<text x="184.5" y="277.28" font-size="7.5" text-anchor="end">1.0</text>
<line x1="185.4" y1="258.7" x2="188" y2="258.7" stroke="#3c3c3c" stroke-width="1"/>
<text x="184.5" y="261.18" font-size="7.5" text-anchor="end">1.5</text>
<line x1="185.4" y1="242.6" x2="188" y2="242.6" stroke="#3c3c3c" stroke-width="1"/>
<text x="184.5" y="245.07" font-size="7.5" text-anchor="end">2.0</text>
<line x1="188" y1="307" x2="235.4" y2="307" stroke="#3c3c3c" stroke-width="1"/>
<line x1="201.2" y1="307" x2="201.2" y2="309.4" stroke="#3c3c3c" stroke-width="1"/>
<line x1="221.5" y1="307" x2="221.5" y2="309.4" stroke="#3c3c3c" stroke-width="1"/>
<text x="203.2" y="316.2" font-size="8.5" text-anchor="end" transform="rotate(-45 203.2 316.2)">Control</text>
<text x="225.1" y="317.1" font-size="8.5" text-anchor="end" transform="rotate(-45 225.1 317.1)">BMS-794833</text>
<text x="168.6" y="269.7" font-size="8.5" text-anchor="middle" transform="rotate(-90 168.6 269.7)">Weight (g)</text>
<text x="249" y="194" font-size="13.5" font-weight="bold">D</text>
<text x="274.6" y="205" font-size="10.8">Lung metastasis</text>
<text x="285" y="224.2" font-size="9">4T1 BALB/c</text>
<text x="262.4" y="241.5" font-size="8.9">Control</text>
<text x="316.3" y="241.5" font-size="8.9">BMS-794833</text>
<defs><clipPath id="cla"><path d="M262.6,254 L267,250.9 L273.3,249 L278.9,248.8 L282,249.6 L284.5,250.5 L287,252.5 L289.5,251.8 L291,254.5 L293.5,254 L294.5,256.5 L297,256.5 L299,258 L302,258.2 L303,260.5 L302,262.5 L303.3,264 L303.3,269 L303.5,276.5 L302.6,284 L300.8,290.3 L297.6,296.5 L293.3,300.3 L289.5,302.8 L286.4,306.5 L285.1,307.1 L282,305.3 L279.5,301.5 L278.3,297.8 L275.1,296.5 L272,294.6 L268.3,294 L264.5,293.4 L262,290.3 L260.8,285.3 L259.5,279 L257.6,274 L256.4,269 L256.4,264 L257.6,260.9 L260.1,257.8 Z"/></clipPath><clipPath id="clb"><path d="M317.5,258.75 L320,255.5 L323.75,257.5 L327.5,261.25 L335,263.75 L342.5,265 L346.25,267.5 L347,272.5 L350,266.25 L355,264.25 L360,265 L364.5,268.75 L367.5,275 L368.75,281.25 L367.5,288.75 L364.5,295 L360,298.75 L352.5,301.25 L345,302.5 L341.25,305.5 L337.5,307.5 L333.75,306.25 L330,301.25 L325,296.25 L320,291.25 L317.5,282.5 L316.25,272.5 L316.25,265 Z"/></clipPath></defs>
<filter id="lb" x="-0.1" y="-0.1" width="1.2" height="1.2"><feGaussianBlur stdDeviation="0.35"/></filter><g filter="url(#lb)">
<path d="M262.6,254 L267,250.9 L273.3,249 L278.9,248.8 L282,249.6 L284.5,250.5 L287,252.5 L289.5,251.8 L291,254.5 L293.5,254 L294.5,256.5 L297,256.5 L299,258 L302,258.2 L303,260.5 L302,262.5 L303.3,264 L303.3,269 L303.5,276.5 L302.6,284 L300.8,290.3 L297.6,296.5 L293.3,300.3 L289.5,302.8 L286.4,306.5 L285.1,307.1 L282,305.3 L279.5,301.5 L278.3,297.8 L275.1,296.5 L272,294.6 L268.3,294 L264.5,293.4 L262,290.3 L260.8,285.3 L259.5,279 L257.6,274 L256.4,269 L256.4,264 L257.6,260.9 L260.1,257.8 Z" fill="#cb8cc3"/>
<path d="M317.5,258.75 L320,255.5 L323.75,257.5 L327.5,261.25 L335,263.75 L342.5,265 L346.25,267.5 L347,272.5 L350,266.25 L355,264.25 L360,265 L364.5,268.75 L367.5,275 L368.75,281.25 L367.5,288.75 L364.5,295 L360,298.75 L352.5,301.25 L345,302.5 L341.25,305.5 L337.5,307.5 L333.75,306.25 L330,301.25 L325,296.25 L320,291.25 L317.5,282.5 L316.25,272.5 L316.25,265 Z" fill="#d6a0cf"/>
<g clip-path="url(#cla)" fill="#b26cab" opacity="0.85"><path d="M257,270 C262,272 268,272 271,276 L272,294 L262,292 Z"/><path d="M290,268 C296,266 302,268 304,272 L302,290 L294,300 L289,300 Z"/><path d="M262,255 C266,252 272,250 276,252 L275,262 L262,262 Z"/></g>
<g clip-path="url(#cla)">
<ellipse cx="271.19" cy="256.2" rx="1.12" ry="0.48" fill="#e8cfe6" opacity="0.45"/>
<ellipse cx="273.28" cy="250.54" rx="0.96" ry="0.44" fill="#c284bf" opacity="0.5"/>
<ellipse cx="275.91" cy="261.68" rx="1.01" ry="0.47" fill="#e8cfe6" opacity="0.45"/>
<ellipse cx="302.37" cy="285.47" rx="1.04" ry="0.47" fill="#c284bf" opacity="0.5"/>
<ellipse cx="257.48" cy="260.49" rx="1.01" ry="0.55" fill="#c284bf" opacity="0.5"/>
<ellipse cx="262.21" cy="254.19" rx="0.74" ry="1.3" fill="#f6ecf5" opacity="0.35"/>
<ellipse cx="260.15" cy="281.84" rx="0.61" ry="0.51" fill="#e8cfe6" opacity="0.45"/>
<ellipse cx="283.22" cy="284.76" rx="0.95" ry="0.98" fill="#b06cad" opacity="0.45"/>
<ellipse cx="278.28" cy="303.33" rx="0.8" ry="0.67" fill="#f6ecf5" opacity="0.35"/>
<ellipse cx="289.95" cy="261.89" rx="1.03" ry="0.98" fill="#b06cad" opacity="0.45"/>
<ellipse cx="291.47" cy="264.56" rx="1.48" ry="0.53" fill="#c284bf" opacity="0.5"/>
<ellipse cx="263.25" cy="267.87" rx="1.43" ry="0.86" fill="#e8cfe6" opacity="0.45"/>
<ellipse cx="293.23" cy="281.95" rx="1.36" ry="0.75" fill="#b06cad" opacity="0.45"/>
<ellipse cx="284.72" cy="282.37" rx="0.9" ry="1.32" fill="#b06cad" opacity="0.45"/>
<ellipse cx="278.7" cy="287.51" rx="0.47" ry="1.17" fill="#c284bf" opacity="0.5"/>
<ellipse cx="269.23" cy="270.53" rx="1.14" ry="0.42" fill="#c284bf" opacity="0.5"/>
<ellipse cx="272.77" cy="284.27" rx="0.94" ry="0.64" fill="#b06cad" opacity="0.45"/>
<ellipse cx="261.47" cy="262.1" rx="0.83" ry="1.36" fill="#e8cfe6" opacity="0.45"/>
<ellipse cx="263.32" cy="271.5" rx="0.71" ry="0.55" fill="#c284bf" opacity="0.5"/>
<ellipse cx="298.2" cy="263.98" rx="0.86" ry="0.79" fill="#c284bf" opacity="0.5"/>
<ellipse cx="302.89" cy="256.21" rx="0.59" ry="0.66" fill="#f6ecf5" opacity="0.35"/>
<ellipse cx="255.6" cy="297.7" rx="0.6" ry="0.71" fill="#f6ecf5" opacity="0.35"/>
<ellipse cx="275.95" cy="269.52" rx="1.02" ry="1.45" fill="#e8cfe6" opacity="0.45"/>
<ellipse cx="277.83" cy="300.13" rx="1.45" ry="1.15" fill="#c284bf" opacity="0.5"/>
<ellipse cx="274.9" cy="271.04" rx="0.93" ry="0.84" fill="#f6ecf5" opacity="0.35"/>
<ellipse cx="258.37" cy="259.73" rx="0.58" ry="0.77" fill="#e8cfe6" opacity="0.45"/>
<ellipse cx="260.12" cy="281.57" rx="0.99" ry="1.44" fill="#e8cfe6" opacity="0.45"/>
<ellipse cx="258.52" cy="259.69" rx="0.81" ry="1.1" fill="#b06cad" opacity="0.45"/>
<ellipse cx="285.11" cy="275.92" rx="0.53" ry="0.94" fill="#c284bf" opacity="0.5"/>
<ellipse cx="279.02" cy="266.02" rx="0.56" ry="1.22" fill="#b06cad" opacity="0.45"/>
<ellipse cx="278.93" cy="289.22" rx="0.97" ry="0.63" fill="#b06cad" opacity="0.45"/>
<ellipse cx="262.33" cy="280.13" rx="0.43" ry="0.98" fill="#e8cfe6" opacity="0.45"/>
<ellipse cx="289.81" cy="262.93" rx="0.8" ry="0.58" fill="#f6ecf5" opacity="0.35"/>
<ellipse cx="281.63" cy="294.52" rx="0.76" ry="0.65" fill="#f6ecf5" opacity="0.35"/>
<ellipse cx="295.3" cy="296.92" rx="1.21" ry="0.65" fill="#c284bf" opacity="0.5"/>
<ellipse cx="272.78" cy="248.77" rx="0.43" ry="0.71" fill="#b06cad" opacity="0.45"/>
<ellipse cx="264.68" cy="283.91" rx="0.78" ry="1.29" fill="#b06cad" opacity="0.45"/>
<ellipse cx="302.75" cy="269.24" rx="0.64" ry="0.65" fill="#f6ecf5" opacity="0.35"/>
<ellipse cx="271.89" cy="276.44" rx="1.48" ry="1.07" fill="#e8cfe6" opacity="0.45"/>
<ellipse cx="278.97" cy="286.83" rx="1.28" ry="0.49" fill="#e8cfe6" opacity="0.45"/>
<ellipse cx="300.49" cy="294.72" rx="1.23" ry="0.93" fill="#f6ecf5" opacity="0.35"/>
<ellipse cx="276.7" cy="285.79" rx="0.5" ry="1.44" fill="#c284bf" opacity="0.5"/>
<ellipse cx="278.16" cy="292.34" rx="0.49" ry="0.57" fill="#f6ecf5" opacity="0.35"/>
<ellipse cx="256.38" cy="283.04" rx="0.91" ry="1.12" fill="#c284bf" opacity="0.5"/>
<ellipse cx="287.86" cy="268.37" rx="1" ry="0.54" fill="#e8cfe6" opacity="0.45"/>
<ellipse cx="294.97" cy="291.31" rx="0.51" ry="1.22" fill="#f6ecf5" opacity="0.35"/>
<ellipse cx="276.69" cy="300.18" rx="1.31" ry="0.63" fill="#b06cad" opacity="0.45"/>
<ellipse cx="265.64" cy="277.57" rx="1.24" ry="0.76" fill="#c284bf" opacity="0.5"/>
<ellipse cx="296.71" cy="250.72" rx="1.21" ry="1.39" fill="#c284bf" opacity="0.5"/>
<ellipse cx="296.36" cy="300.57" rx="0.54" ry="0.57" fill="#e8cfe6" opacity="0.45"/>
<ellipse cx="298.64" cy="294.37" rx="1.07" ry="1.25" fill="#f6ecf5" opacity="0.35"/>
<ellipse cx="263.62" cy="275.88" rx="1.2" ry="1.01" fill="#b06cad" opacity="0.45"/>
<ellipse cx="289.12" cy="279.37" rx="0.93" ry="1.25" fill="#e8cfe6" opacity="0.45"/>
<ellipse cx="267.42" cy="263.89" rx="1.25" ry="0.96" fill="#e8cfe6" opacity="0.45"/>
<ellipse cx="293" cy="302.66" rx="0.89" ry="1.07" fill="#f6ecf5" opacity="0.35"/>
<ellipse cx="289.64" cy="274.59" rx="0.99" ry="0.93" fill="#f6ecf5" opacity="0.35"/>
<ellipse cx="289.96" cy="300.47" rx="1.44" ry="0.69" fill="#f6ecf5" opacity="0.35"/>
<ellipse cx="297" cy="255.37" rx="0.53" ry="0.89" fill="#e8cfe6" opacity="0.45"/>
<ellipse cx="288.56" cy="273.13" rx="0.63" ry="0.73" fill="#e8cfe6" opacity="0.45"/>
<ellipse cx="299.85" cy="256.42" rx="1.19" ry="1.13" fill="#f6ecf5" opacity="0.35"/>
<ellipse cx="267.66" cy="255.37" rx="0.91" ry="1.22" fill="#e8cfe6" opacity="0.45"/>
<ellipse cx="274.91" cy="276.72" rx="1.49" ry="1.32" fill="#f6ecf5" opacity="0.35"/>
<ellipse cx="290.32" cy="307.64" rx="0.84" ry="0.86" fill="#b06cad" opacity="0.45"/>
<ellipse cx="270.93" cy="291.05" rx="0.42" ry="1.01" fill="#c284bf" opacity="0.5"/>
<ellipse cx="290.16" cy="270.45" rx="0.97" ry="0.72" fill="#e8cfe6" opacity="0.45"/>
<ellipse cx="260.64" cy="303.03" rx="0.65" ry="1.36" fill="#e8cfe6" opacity="0.45"/>
<ellipse cx="268.28" cy="249.41" rx="1.26" ry="0.7" fill="#f6ecf5" opacity="0.35"/>
<ellipse cx="295.99" cy="298.82" rx="1.14" ry="1.44" fill="#c284bf" opacity="0.5"/>
<ellipse cx="262.47" cy="303.07" rx="1.03" ry="1.17" fill="#e8cfe6" opacity="0.45"/>
<ellipse cx="268.95" cy="295.77" rx="0.6" ry="1.38" fill="#b06cad" opacity="0.45"/>
<ellipse cx="301.92" cy="285.7" rx="1.28" ry="0.49" fill="#f6ecf5" opacity="0.35"/>
<ellipse cx="258.33" cy="299.63" rx="0.9" ry="0.77" fill="#c284bf" opacity="0.5"/>
<ellipse cx="301.33" cy="263.34" rx="0.54" ry="0.98" fill="#f6ecf5" opacity="0.35"/>
<ellipse cx="301.91" cy="306.12" rx="0.69" ry="0.6" fill="#b06cad" opacity="0.45"/>
<ellipse cx="286.43" cy="279.4" rx="0.63" ry="0.89" fill="#f6ecf5" opacity="0.35"/>
<ellipse cx="268.53" cy="296.02" rx="1.49" ry="0.44" fill="#e8cfe6" opacity="0.45"/>
<ellipse cx="291.65" cy="280.61" rx="0.61" ry="0.92" fill="#c284bf" opacity="0.5"/>
<ellipse cx="260.31" cy="296.95" rx="0.88" ry="0.94" fill="#c284bf" opacity="0.5"/>
<ellipse cx="303.52" cy="265.77" rx="0.64" ry="0.65" fill="#f6ecf5" opacity="0.35"/>
<ellipse cx="296.61" cy="290.11" rx="1.1" ry="0.85" fill="#b06cad" opacity="0.45"/>
<ellipse cx="304.09" cy="298.06" rx="0.42" ry="1.09" fill="#b06cad" opacity="0.45"/>
<ellipse cx="276.54" cy="250.38" rx="1.13" ry="0.82" fill="#b06cad" opacity="0.45"/>
<ellipse cx="284.94" cy="289.25" rx="0.45" ry="0.6" fill="#b06cad" opacity="0.45"/>
<ellipse cx="277.29" cy="263.06" rx="1.46" ry="1.47" fill="#b06cad" opacity="0.45"/>
<ellipse cx="267.22" cy="305.91" rx="0.74" ry="0.79" fill="#e8cfe6" opacity="0.45"/>
<ellipse cx="271.77" cy="252.12" rx="0.71" ry="1.12" fill="#f6ecf5" opacity="0.35"/>
<ellipse cx="280.24" cy="247.3" rx="0.69" ry="0.5" fill="#c284bf" opacity="0.5"/>
<ellipse cx="284.34" cy="271.03" rx="0.73" ry="1.09" fill="#e8cfe6" opacity="0.45"/>
<ellipse cx="284.28" cy="279.28" rx="1.23" ry="1.12" fill="#c284bf" opacity="0.5"/>
<ellipse cx="293.22" cy="290.96" rx="0.94" ry="0.71" fill="#f6ecf5" opacity="0.35"/>
<ellipse cx="257.19" cy="297.95" rx="1.38" ry="1.09" fill="#f6ecf5" opacity="0.35"/>
<ellipse cx="300.49" cy="292.92" rx="1.03" ry="1.29" fill="#e8cfe6" opacity="0.45"/>
<ellipse cx="296.32" cy="282.63" rx="1.38" ry="1.15" fill="#f6ecf5" opacity="0.35"/>
<ellipse cx="259.25" cy="249.55" rx="1.1" ry="1.46" fill="#c284bf" opacity="0.5"/>
<ellipse cx="296.79" cy="281.07" rx="1.09" ry="1.09" fill="#f6ecf5" opacity="0.35"/>
<ellipse cx="279.46" cy="247.2" rx="1.28" ry="1.22" fill="#e8cfe6" opacity="0.45"/>
<ellipse cx="287.96" cy="251.03" rx="1.21" ry="0.68" fill="#e8cfe6" opacity="0.45"/>
<ellipse cx="297.31" cy="261.32" rx="1.23" ry="0.65" fill="#c284bf" opacity="0.5"/>
<ellipse cx="279.7" cy="270.34" rx="0.93" ry="1.15" fill="#e8cfe6" opacity="0.45"/>
<ellipse cx="285.85" cy="286.21" rx="0.49" ry="0.56" fill="#b06cad" opacity="0.45"/>
<ellipse cx="287.58" cy="289.27" rx="1.08" ry="0.55" fill="#c284bf" opacity="0.5"/>
<ellipse cx="258.03" cy="263.4" rx="1.14" ry="1.16" fill="#c284bf" opacity="0.5"/>
<ellipse cx="269.54" cy="278.51" rx="0.91" ry="0.91" fill="#e8cfe6" opacity="0.45"/>
<ellipse cx="304.67" cy="280.49" rx="0.74" ry="0.49" fill="#c284bf" opacity="0.5"/>
<ellipse cx="255.88" cy="275" rx="1.3" ry="1.46" fill="#c284bf" opacity="0.5"/>
<ellipse cx="304.7" cy="270.6" rx="1.41" ry="1.42" fill="#e8cfe6" opacity="0.45"/>
<ellipse cx="284.07" cy="255.65" rx="0.98" ry="1.45" fill="#f6ecf5" opacity="0.35"/>
<ellipse cx="285.17" cy="285.53" rx="0.71" ry="0.52" fill="#b06cad" opacity="0.45"/>
<ellipse cx="266.57" cy="301.76" rx="0.93" ry="0.43" fill="#e8cfe6" opacity="0.45"/>
<ellipse cx="302.5" cy="288.58" rx="0.85" ry="1.2" fill="#c284bf" opacity="0.5"/>
<ellipse cx="272.2" cy="266.28" rx="1.32" ry="0.4" fill="#b06cad" opacity="0.45"/>
<ellipse cx="296.96" cy="254.32" rx="1.42" ry="1.18" fill="#b06cad" opacity="0.45"/>
<ellipse cx="267.66" cy="250.96" rx="0.83" ry="1.36" fill="#e8cfe6" opacity="0.45"/>
<ellipse cx="273.04" cy="273.11" rx="0.7" ry="0.45" fill="#e8cfe6" opacity="0.45"/>
<ellipse cx="257.58" cy="287.38" rx="1.1" ry="0.56" fill="#b06cad" opacity="0.45"/>
<ellipse cx="276.81" cy="266.25" rx="1.25" ry="1.26" fill="#c284bf" opacity="0.5"/>
<ellipse cx="299.21" cy="296.53" rx="1.09" ry="1.4" fill="#f6ecf5" opacity="0.35"/>
<ellipse cx="290.98" cy="250.02" rx="1.21" ry="0.9" fill="#f6ecf5" opacity="0.35"/>
<ellipse cx="287.22" cy="264.46" rx="0.45" ry="1.42" fill="#f6ecf5" opacity="0.35"/>
<ellipse cx="263.54" cy="272.31" rx="0.71" ry="0.68" fill="#b06cad" opacity="0.45"/>
<ellipse cx="275.31" cy="261.56" rx="0.93" ry="1.14" fill="#e8cfe6" opacity="0.45"/>
<ellipse cx="263.37" cy="256.86" rx="0.63" ry="1.4" fill="#c284bf" opacity="0.5"/>
<ellipse cx="282.52" cy="274.63" rx="0.77" ry="1.24" fill="#c284bf" opacity="0.5"/>
<ellipse cx="261.98" cy="258.74" rx="0.5" ry="0.78" fill="#e8cfe6" opacity="0.45"/>
<ellipse cx="270.96" cy="269.47" rx="1.29" ry="0.62" fill="#e8cfe6" opacity="0.45"/>
<ellipse cx="292.48" cy="272.18" rx="0.86" ry="0.98" fill="#c284bf" opacity="0.5"/>
<ellipse cx="268.51" cy="292.88" rx="0.95" ry="1.03" fill="#b06cad" opacity="0.45"/>
<ellipse cx="261.29" cy="277.71" rx="1.09" ry="1.35" fill="#f6ecf5" opacity="0.35"/>
<ellipse cx="259.63" cy="301.7" rx="0.82" ry="1.11" fill="#c284bf" opacity="0.5"/>
<ellipse cx="302.7" cy="298.77" rx="1.36" ry="0.42" fill="#e8cfe6" opacity="0.45"/>
<ellipse cx="276.26" cy="293.59" rx="1.28" ry="1.47" fill="#c284bf" opacity="0.5"/>
<ellipse cx="255.01" cy="270.88" rx="1.42" ry="1.31" fill="#c284bf" opacity="0.5"/>
<ellipse cx="303.61" cy="262.16" rx="0.52" ry="0.57" fill="#e8cfe6" opacity="0.45"/>
<ellipse cx="302.07" cy="291.03" rx="1.11" ry="1.24" fill="#c284bf" opacity="0.5"/>
<ellipse cx="259.25" cy="294.39" rx="0.4" ry="0.54" fill="#e8cfe6" opacity="0.45"/>
<ellipse cx="287.28" cy="265.53" rx="0.54" ry="0.68" fill="#c284bf" opacity="0.5"/>
<ellipse cx="289.93" cy="253.84" rx="0.48" ry="0.98" fill="#f6ecf5" opacity="0.35"/>
<ellipse cx="274.4" cy="260.64" rx="1.06" ry="0.41" fill="#b06cad" opacity="0.45"/>
<ellipse cx="304.82" cy="263.99" rx="0.75" ry="1.32" fill="#f6ecf5" opacity="0.35"/>
<ellipse cx="278.77" cy="261.32" rx="0.67" ry="1.46" fill="#b06cad" opacity="0.45"/>
<ellipse cx="257.77" cy="258.84" rx="1.37" ry="1.11" fill="#e8cfe6" opacity="0.45"/>
<ellipse cx="267.86" cy="287.71" rx="1.42" ry="0.65" fill="#e8cfe6" opacity="0.45"/>
<ellipse cx="289.79" cy="290.82" rx="0.8" ry="0.84" fill="#e8cfe6" opacity="0.45"/>
<ellipse cx="294.85" cy="292.09" rx="0.96" ry="0.63" fill="#f6ecf5" opacity="0.35"/>
<ellipse cx="270.59" cy="297.02" rx="0.65" ry="0.64" fill="#b06cad" opacity="0.45"/>
<ellipse cx="260.45" cy="285.04" rx="1.07" ry="1.39" fill="#c284bf" opacity="0.5"/>
<ellipse cx="275.85" cy="287.58" rx="1.44" ry="0.56" fill="#c284bf" opacity="0.5"/>
<ellipse cx="257.72" cy="248.44" rx="1.06" ry="0.86" fill="#e8cfe6" opacity="0.45"/>
<ellipse cx="264.21" cy="274.43" rx="1.18" ry="0.75" fill="#e8cfe6" opacity="0.45"/>
<ellipse cx="304.88" cy="303.83" rx="0.76" ry="0.6" fill="#c284bf" opacity="0.5"/>
<ellipse cx="256.59" cy="287.53" rx="0.82" ry="0.81" fill="#b06cad" opacity="0.45"/>
<ellipse cx="277.12" cy="253.65" rx="0.49" ry="0.49" fill="#c284bf" opacity="0.5"/>
<ellipse cx="302.78" cy="254.55" rx="1.46" ry="0.63" fill="#b06cad" opacity="0.45"/>
<ellipse cx="293.44" cy="265.83" rx="1.28" ry="0.5" fill="#c284bf" opacity="0.5"/>
<ellipse cx="264.79" cy="280.03" rx="0.89" ry="0.76" fill="#c284bf" opacity="0.5"/>
<ellipse cx="256.51" cy="272.06" rx="1.29" ry="1.24" fill="#e8cfe6" opacity="0.45"/>
<ellipse cx="273.78" cy="275.31" rx="1.28" ry="0.47" fill="#f6ecf5" opacity="0.35"/>
<ellipse cx="292.36" cy="301.81" rx="0.77" ry="0.7" fill="#e8cfe6" opacity="0.45"/>
<ellipse cx="268.11" cy="290.71" rx="0.75" ry="0.7" fill="#e8cfe6" opacity="0.45"/>
<ellipse cx="291.08" cy="283.33" rx="1.29" ry="1.44" fill="#e8cfe6" opacity="0.45"/>
<ellipse cx="256.21" cy="261.27" rx="0.92" ry="1.45" fill="#c284bf" opacity="0.5"/>
<ellipse cx="294.49" cy="302.73" rx="1.3" ry="0.55" fill="#c284bf" opacity="0.5"/>
<ellipse cx="264.15" cy="295.96" rx="1.21" ry="1.31" fill="#f6ecf5" opacity="0.35"/>
<ellipse cx="285.36" cy="267" rx="0.75" ry="0.8" fill="#e8cfe6" opacity="0.45"/>
<ellipse cx="280.59" cy="270.89" rx="0.58" ry="0.85" fill="#e8cfe6" opacity="0.45"/>
<ellipse cx="279.08" cy="280.22" rx="0.58" ry="0.87" fill="#e8cfe6" opacity="0.45"/>
<ellipse cx="304.39" cy="263.16" rx="0.49" ry="0.51" fill="#c284bf" opacity="0.5"/>
<ellipse cx="304.42" cy="306.3" rx="0.59" ry="0.55" fill="#c284bf" opacity="0.5"/>
<ellipse cx="286.02" cy="288.12" rx="1.22" ry="1.33" fill="#e8cfe6" opacity="0.45"/>
<ellipse cx="293.99" cy="264.93" rx="0.71" ry="0.69" fill="#b06cad" opacity="0.45"/>
<ellipse cx="291.9" cy="259.15" rx="0.67" ry="0.67" fill="#f6ecf5" opacity="0.35"/>
<ellipse cx="269.07" cy="302.36" rx="0.61" ry="0.47" fill="#b06cad" opacity="0.45"/>
<ellipse cx="304.62" cy="277.95" rx="0.65" ry="1.29" fill="#c284bf" opacity="0.5"/>
<ellipse cx="304.55" cy="253.24" rx="0.92" ry="1.3" fill="#c284bf" opacity="0.5"/>
<ellipse cx="300.72" cy="249.46" rx="0.72" ry="0.53" fill="#f6ecf5" opacity="0.35"/>
<ellipse cx="285.02" cy="297.5" rx="0.61" ry="0.48" fill="#f6ecf5" opacity="0.35"/>
<ellipse cx="277.46" cy="262.86" rx="1.26" ry="1.44" fill="#e8cfe6" opacity="0.45"/>
<ellipse cx="286.87" cy="290.29" rx="0.78" ry="0.44" fill="#b06cad" opacity="0.45"/>
<ellipse cx="262.07" cy="259.44" rx="0.68" ry="1.06" fill="#f6ecf5" opacity="0.35"/>
<ellipse cx="295.74" cy="296.95" rx="0.85" ry="0.81" fill="#b06cad" opacity="0.45"/>
<ellipse cx="258.9" cy="248.92" rx="0.95" ry="0.93" fill="#c284bf" opacity="0.5"/>
<ellipse cx="260.07" cy="271.11" rx="1.01" ry="1.1" fill="#e8cfe6" opacity="0.45"/>
<ellipse cx="287.65" cy="271.26" rx="0.7" ry="1.49" fill="#b06cad" opacity="0.45"/>
<ellipse cx="275.89" cy="250.13" rx="1.22" ry="1.37" fill="#c284bf" opacity="0.5"/>
<ellipse cx="275.82" cy="299.72" rx="1.5" ry="0.8" fill="#f6ecf5" opacity="0.35"/>
<ellipse cx="274.54" cy="271.7" rx="1.44" ry="0.88" fill="#f6ecf5" opacity="0.35"/>
<ellipse cx="276.19" cy="297.04" rx="0.85" ry="1.37" fill="#c284bf" opacity="0.5"/>
<ellipse cx="293.65" cy="254.93" rx="0.46" ry="0.56" fill="#c284bf" opacity="0.5"/>
<ellipse cx="259.45" cy="284.95" rx="0.81" ry="0.95" fill="#f6ecf5" opacity="0.35"/>
<ellipse cx="272.4" cy="256.87" rx="0.59" ry="0.47" fill="#c284bf" opacity="0.5"/>
<ellipse cx="279.53" cy="296.09" rx="1.46" ry="0.62" fill="#f6ecf5" opacity="0.35"/>
<ellipse cx="296.86" cy="249.65" rx="1.4" ry="0.75" fill="#c284bf" opacity="0.5"/>
<ellipse cx="259.31" cy="290.45" rx="1.16" ry="1.38" fill="#f6ecf5" opacity="0.35"/>
<ellipse cx="286.05" cy="284.5" rx="0.62" ry="0.92" fill="#f6ecf5" opacity="0.35"/>
<ellipse cx="257.09" cy="304.25" rx="0.57" ry="0.8" fill="#f6ecf5" opacity="0.35"/>
<ellipse cx="267.35" cy="291.22" rx="1.39" ry="0.45" fill="#e8cfe6" opacity="0.45"/>
<ellipse cx="288.39" cy="266.78" rx="0.83" ry="0.9" fill="#b06cad" opacity="0.45"/>
<ellipse cx="287.45" cy="265.8" rx="0.67" ry="0.83" fill="#b06cad" opacity="0.45"/>
<ellipse cx="277.34" cy="273.74" rx="0.43" ry="1.08" fill="#c284bf" opacity="0.5"/>
<ellipse cx="278.26" cy="274.26" rx="1.08" ry="1.3" fill="#f6ecf5" opacity="0.35"/>
<ellipse cx="295.53" cy="271.42" rx="0.47" ry="0.79" fill="#b06cad" opacity="0.45"/>
<ellipse cx="259.59" cy="273.96" rx="0.96" ry="0.44" fill="#f6ecf5" opacity="0.35"/>
<ellipse cx="259.11" cy="291.74" rx="1.26" ry="0.96" fill="#e8cfe6" opacity="0.45"/>
<ellipse cx="292.6" cy="301.59" rx="1.12" ry="1.26" fill="#e8cfe6" opacity="0.45"/>
<ellipse cx="297.85" cy="307.76" rx="1.21" ry="1.3" fill="#f6ecf5" opacity="0.35"/>
<ellipse cx="261.58" cy="301.03" rx="0.72" ry="1.29" fill="#f6ecf5" opacity="0.35"/>
<ellipse cx="289.31" cy="290.99" rx="0.64" ry="1.32" fill="#b06cad" opacity="0.45"/>
<ellipse cx="262.94" cy="301.69" rx="0.7" ry="1.3" fill="#f6ecf5" opacity="0.35"/>
<ellipse cx="267.71" cy="305.82" rx="0.93" ry="1.05" fill="#f6ecf5" opacity="0.35"/>
<ellipse cx="270.95" cy="249.25" rx="0.6" ry="0.58" fill="#b06cad" opacity="0.45"/>
<ellipse cx="288.98" cy="301.62" rx="0.59" ry="1.26" fill="#e8cfe6" opacity="0.45"/>
<ellipse cx="293.41" cy="249.96" rx="1.34" ry="1.46" fill="#c284bf" opacity="0.5"/>
<ellipse cx="282.76" cy="282.38" rx="1.37" ry="0.52" fill="#c284bf" opacity="0.5"/>
<ellipse cx="291.9" cy="269.66" rx="0.81" ry="0.81" fill="#f6ecf5" opacity="0.35"/>
<ellipse cx="273.01" cy="293.64" rx="0.89" ry="0.59" fill="#e8cfe6" opacity="0.45"/>
<ellipse cx="269.82" cy="278.48" rx="0.74" ry="1.46" fill="#b06cad" opacity="0.45"/>
<ellipse cx="291.65" cy="292.57" rx="0.64" ry="0.72" fill="#c284bf" opacity="0.5"/>
<ellipse cx="275.88" cy="269.21" rx="0.45" ry="0.94" fill="#e8cfe6" opacity="0.45"/>
<ellipse cx="256.11" cy="247.16" rx="0.79" ry="0.52" fill="#b06cad" opacity="0.45"/>
<ellipse cx="281.71" cy="272.21" rx="0.73" ry="0.55" fill="#b06cad" opacity="0.45"/>
<ellipse cx="286.2" cy="275.97" rx="0.55" ry="1.43" fill="#f6ecf5" opacity="0.35"/>
<ellipse cx="290.37" cy="274.5" rx="0.47" ry="0.56" fill="#b06cad" opacity="0.45"/>
<ellipse cx="275.1" cy="263.12" rx="0.41" ry="1.11" fill="#b06cad" opacity="0.45"/>
<ellipse cx="284.74" cy="282.29" rx="1.06" ry="0.97" fill="#c284bf" opacity="0.5"/>
<ellipse cx="267.42" cy="302.11" rx="0.45" ry="0.98" fill="#c284bf" opacity="0.5"/>
<ellipse cx="264.28" cy="256.71" rx="1.4" ry="0.52" fill="#f6ecf5" opacity="0.35"/>
<ellipse cx="262.11" cy="259.17" rx="1.07" ry="0.96" fill="#c284bf" opacity="0.5"/>
<ellipse cx="295.67" cy="257.65" rx="0.74" ry="0.73" fill="#e8cfe6" opacity="0.45"/>
<ellipse cx="304.7" cy="291.18" rx="0.93" ry="0.99" fill="#c284bf" opacity="0.5"/>
<ellipse cx="297.22" cy="292.46" rx="0.91" ry="1.22" fill="#c284bf" opacity="0.5"/>
<ellipse cx="263.77" cy="307.79" rx="0.69" ry="1.11" fill="#e8cfe6" opacity="0.45"/>
<ellipse cx="271.78" cy="292.73" rx="1.16" ry="1.33" fill="#e8cfe6" opacity="0.45"/>
<ellipse cx="268.3" cy="280.78" rx="0.88" ry="1.27" fill="#b06cad" opacity="0.45"/>
<ellipse cx="269.78" cy="303.64" rx="1.38" ry="0.49" fill="#e8cfe6" opacity="0.45"/>
<ellipse cx="263.49" cy="302.19" rx="1.33" ry="0.62" fill="#f6ecf5" opacity="0.35"/>
<ellipse cx="292.31" cy="266.94" rx="1.37" ry="0.76" fill="#f6ecf5" opacity="0.35"/>
<ellipse cx="273.97" cy="298.97" rx="1.41" ry="1.48" fill="#c284bf" opacity="0.5"/>
<ellipse cx="278.61" cy="279.37" rx="0.41" ry="0.43" fill="#f6ecf5" opacity="0.35"/>
<ellipse cx="283.52" cy="265.77" rx="0.63" ry="1.08" fill="#e8cfe6" opacity="0.45"/>
<ellipse cx="283.26" cy="257.46" rx="0.44" ry="0.52" fill="#f6ecf5" opacity="0.35"/>
<ellipse cx="272.24" cy="255.65" rx="0.43" ry="0.45" fill="#e8cfe6" opacity="0.45"/>
<ellipse cx="289.85" cy="291.94" rx="0.47" ry="1.05" fill="#b06cad" opacity="0.45"/>
<ellipse cx="264.97" cy="305.23" rx="0.99" ry="1.13" fill="#c284bf" opacity="0.5"/>
<ellipse cx="260.36" cy="259.55" rx="0.52" ry="0.44" fill="#e8cfe6" opacity="0.45"/>
<ellipse cx="296.25" cy="285.52" rx="0.72" ry="0.51" fill="#e8cfe6" opacity="0.45"/>
<ellipse cx="294.6" cy="286.43" rx="0.72" ry="0.77" fill="#b06cad" opacity="0.45"/>
<ellipse cx="256.05" cy="262.66" rx="0.71" ry="1.19" fill="#b06cad" opacity="0.45"/>
<ellipse cx="300.52" cy="293.92" rx="1.06" ry="0.92" fill="#b06cad" opacity="0.45"/>
<ellipse cx="285.91" cy="248.89" rx="0.85" ry="0.88" fill="#e8cfe6" opacity="0.45"/>
<ellipse cx="272.34" cy="289.98" rx="0.99" ry="0.64" fill="#e8cfe6" opacity="0.45"/>
<ellipse cx="283.73" cy="264.51" rx="0.88" ry="0.98" fill="#b06cad" opacity="0.45"/>
<ellipse cx="293.11" cy="306.65" rx="0.4" ry="0.94" fill="#c284bf" opacity="0.5"/>
<ellipse cx="289.76" cy="297.35" rx="1.46" ry="1.05" fill="#b06cad" opacity="0.45"/>
<ellipse cx="283.9" cy="256.69" rx="1.3" ry="1.43" fill="#f6ecf5" opacity="0.35"/>
<ellipse cx="279.92" cy="253.71" rx="1.1" ry="0.49" fill="#e8cfe6" opacity="0.45"/>
<ellipse cx="286.4" cy="268.69" rx="0.84" ry="0.83" fill="#e8cfe6" opacity="0.45"/>
<ellipse cx="276.11" cy="286.4" rx="0.81" ry="0.73" fill="#c284bf" opacity="0.5"/>
<ellipse cx="300.06" cy="277.57" rx="0.82" ry="1.37" fill="#f6ecf5" opacity="0.35"/>
<ellipse cx="302.2" cy="254.74" rx="1.05" ry="1.16" fill="#e8cfe6" opacity="0.45"/>
<ellipse cx="272.42" cy="266.93" rx="0.57" ry="1.33" fill="#b06cad" opacity="0.45"/>
<ellipse cx="263.48" cy="273.77" rx="1.25" ry="1.04" fill="#f6ecf5" opacity="0.35"/>
<ellipse cx="271.7" cy="286.2" rx="1.17" ry="0.96" fill="#b06cad" opacity="0.45"/>
<ellipse cx="270.08" cy="289.89" rx="1.33" ry="0.57" fill="#f6ecf5" opacity="0.35"/>
<ellipse cx="303.74" cy="291.11" rx="1.06" ry="0.78" fill="#f6ecf5" opacity="0.35"/>
<ellipse cx="271.4" cy="258.55" rx="1.47" ry="1.2" fill="#e8cfe6" opacity="0.45"/>
<ellipse cx="263.23" cy="287.13" rx="0.61" ry="0.57" fill="#f6ecf5" opacity="0.35"/>
<ellipse cx="294.74" cy="291.73" rx="0.88" ry="0.62" fill="#e8cfe6" opacity="0.45"/>
<ellipse cx="269.04" cy="301" rx="0.91" ry="0.41" fill="#c284bf" opacity="0.5"/>
<ellipse cx="289.67" cy="277.53" rx="1.1" ry="0.91" fill="#f6ecf5" opacity="0.35"/>
<ellipse cx="267.86" cy="292.03" rx="0.41" ry="0.67" fill="#c284bf" opacity="0.5"/>
<ellipse cx="290.06" cy="282.83" rx="1.11" ry="1.33" fill="#f6ecf5" opacity="0.35"/>
<ellipse cx="288.98" cy="286.13" rx="0.9" ry="0.74" fill="#e8cfe6" opacity="0.45"/>
<ellipse cx="299.74" cy="261.79" rx="0.84" ry="1.18" fill="#f6ecf5" opacity="0.35"/>
<ellipse cx="267.5" cy="272.84" rx="0.9" ry="1.08" fill="#c284bf" opacity="0.5"/>
<ellipse cx="280.91" cy="287.33" rx="1.36" ry="1.38" fill="#b06cad" opacity="0.45"/>
<ellipse cx="293.91" cy="270.71" rx="0.94" ry="1.47" fill="#e8cfe6" opacity="0.45"/>
<ellipse cx="267.56" cy="260.29" rx="1.19" ry="1.45" fill="#f6ecf5" opacity="0.35"/>
<ellipse cx="280.96" cy="253.17" rx="1.03" ry="1" fill="#c284bf" opacity="0.5"/>
<ellipse cx="280.61" cy="285.99" rx="1.31" ry="0.97" fill="#c284bf" opacity="0.5"/>
<ellipse cx="292.11" cy="274.87" rx="1.49" ry="0.6" fill="#e8cfe6" opacity="0.45"/>
<ellipse cx="291.46" cy="284.45" rx="1.1" ry="0.68" fill="#c284bf" opacity="0.5"/>
<ellipse cx="274.98" cy="247.81" rx="0.86" ry="0.86" fill="#b06cad" opacity="0.45"/>
<ellipse cx="284.01" cy="253.66" rx="0.73" ry="0.84" fill="#f6ecf5" opacity="0.35"/>
<ellipse cx="304.71" cy="305.61" rx="0.91" ry="0.58" fill="#e8cfe6" opacity="0.45"/>
<ellipse cx="295.48" cy="285.69" rx="0.92" ry="1.02" fill="#f6ecf5" opacity="0.35"/>
<ellipse cx="295.73" cy="255.92" rx="1.13" ry="1.31" fill="#c284bf" opacity="0.5"/>
<ellipse cx="278.41" cy="264.95" rx="1" ry="0.54" fill="#c284bf" opacity="0.5"/>
<ellipse cx="272.74" cy="298.89" rx="0.69" ry="0.81" fill="#b06cad" opacity="0.45"/>
<ellipse cx="304.14" cy="288.41" rx="0.93" ry="1.29" fill="#b06cad" opacity="0.45"/>
<ellipse cx="272.9" cy="286.92" rx="0.75" ry="0.93" fill="#e8cfe6" opacity="0.45"/>
<ellipse cx="287.96" cy="269.11" rx="1.42" ry="1.34" fill="#e8cfe6" opacity="0.45"/>
<ellipse cx="259.26" cy="281.44" rx="0.76" ry="1.44" fill="#b06cad" opacity="0.45"/>
<ellipse cx="286.66" cy="247.91" rx="0.41" ry="1.45" fill="#b06cad" opacity="0.45"/>
<ellipse cx="267.5" cy="253.19" rx="0.56" ry="0.66" fill="#c284bf" opacity="0.5"/>
<ellipse cx="272.32" cy="256.31" rx="1.39" ry="1.27" fill="#f6ecf5" opacity="0.35"/>
<ellipse cx="285.48" cy="288.97" rx="1.47" ry="0.5" fill="#b06cad" opacity="0.45"/>
<ellipse cx="264.87" cy="289.26" rx="0.98" ry="1.22" fill="#c284bf" opacity="0.5"/>
<ellipse cx="288.56" cy="254.14" rx="0.53" ry="0.86" fill="#f6ecf5" opacity="0.35"/>
<ellipse cx="278.66" cy="280.99" rx="0.93" ry="1.4" fill="#c284bf" opacity="0.5"/>
<ellipse cx="267.33" cy="257.04" rx="1.06" ry="1.21" fill="#f6ecf5" opacity="0.35"/>
<ellipse cx="297.04" cy="275.55" rx="1.02" ry="1.13" fill="#c284bf" opacity="0.5"/>
<ellipse cx="273.75" cy="272.55" rx="1.46" ry="0.48" fill="#b06cad" opacity="0.45"/>
<ellipse cx="286.81" cy="248.74" rx="1.07" ry="1.15" fill="#b06cad" opacity="0.45"/>
<ellipse cx="295.43" cy="252.73" rx="0.93" ry="1.23" fill="#f6ecf5" opacity="0.35"/>
<ellipse cx="256.69" cy="290.81" rx="1.09" ry="0.77" fill="#b06cad" opacity="0.45"/>
<ellipse cx="272.07" cy="294.49" rx="1.01" ry="1.4" fill="#b06cad" opacity="0.45"/>
<ellipse cx="276.76" cy="272.77" rx="1.01" ry="1.31" fill="#b06cad" opacity="0.45"/>
<ellipse cx="272.76" cy="277.12" rx="0.77" ry="1.48" fill="#b06cad" opacity="0.45"/>
<ellipse cx="303.75" cy="286.93" rx="1.27" ry="0.76" fill="#b06cad" opacity="0.45"/>
<ellipse cx="290.66" cy="254.78" rx="1.47" ry="0.5" fill="#e8cfe6" opacity="0.45"/>
<ellipse cx="274.94" cy="280.81" rx="0.85" ry="1.03" fill="#c284bf" opacity="0.5"/>
<ellipse cx="270.02" cy="247.38" rx="0.61" ry="1.41" fill="#e8cfe6" opacity="0.45"/>
<ellipse cx="294.45" cy="302.5" rx="1.07" ry="1.08" fill="#e8cfe6" opacity="0.45"/>
<ellipse cx="265.63" cy="287.69" rx="0.9" ry="1.24" fill="#e8cfe6" opacity="0.45"/>
<ellipse cx="288.18" cy="300.02" rx="0.86" ry="0.51" fill="#e8cfe6" opacity="0.45"/>
<ellipse cx="273.44" cy="297.18" rx="1.27" ry="1.02" fill="#b06cad" opacity="0.45"/>
<ellipse cx="298.12" cy="258.27" rx="0.44" ry="0.42" fill="#e8cfe6" opacity="0.45"/>
<ellipse cx="279.89" cy="278.85" rx="1.31" ry="1.25" fill="#c284bf" opacity="0.5"/>
<ellipse cx="283.77" cy="303.04" rx="0.89" ry="0.42" fill="#c284bf" opacity="0.5"/>
<ellipse cx="284.69" cy="307.58" rx="1.13" ry="0.57" fill="#c284bf" opacity="0.5"/>
<ellipse cx="282.44" cy="252.06" rx="0.92" ry="1.39" fill="#e8cfe6" opacity="0.45"/>
<ellipse cx="276.35" cy="247.57" rx="1.14" ry="1.49" fill="#e8cfe6" opacity="0.45"/>
<ellipse cx="265.91" cy="254.4" rx="0.92" ry="0.7" fill="#f6ecf5" opacity="0.35"/>
<ellipse cx="277.54" cy="292.4" rx="1.42" ry="0.8" fill="#f6ecf5" opacity="0.35"/>
<ellipse cx="291.49" cy="252.14" rx="1.09" ry="1.18" fill="#c284bf" opacity="0.5"/>
<ellipse cx="288.48" cy="301.29" rx="1.4" ry="0.46" fill="#e8cfe6" opacity="0.45"/>
<ellipse cx="255.57" cy="247.9" rx="1.12" ry="1.3" fill="#e8cfe6" opacity="0.45"/>
<ellipse cx="274.45" cy="266.06" rx="1.06" ry="1.45" fill="#c284bf" opacity="0.5"/>
<ellipse cx="285.45" cy="266.29" rx="1.44" ry="1.2" fill="#c284bf" opacity="0.5"/>
<ellipse cx="288.84" cy="255.84" rx="1.28" ry="0.8" fill="#f6ecf5" opacity="0.35"/>
<ellipse cx="286.49" cy="272.5" rx="0.82" ry="1.26" fill="#b06cad" opacity="0.45"/>
<ellipse cx="294.23" cy="281.58" rx="0.72" ry="0.47" fill="#b06cad" opacity="0.45"/>
<ellipse cx="298.48" cy="291.27" rx="0.42" ry="0.57" fill="#b06cad" opacity="0.45"/>
<ellipse cx="284.23" cy="306.56" rx="0.67" ry="0.83" fill="#c284bf" opacity="0.5"/>
<ellipse cx="285.09" cy="301.66" rx="1.29" ry="0.71" fill="#e8cfe6" opacity="0.45"/>
<ellipse cx="271.08" cy="263.35" rx="0.57" ry="1.41" fill="#e8cfe6" opacity="0.45"/>
<ellipse cx="269.43" cy="255.58" rx="1.38" ry="1.49" fill="#f6ecf5" opacity="0.35"/>
<ellipse cx="268.69" cy="298.92" rx="1.29" ry="1.15" fill="#c284bf" opacity="0.5"/>
<ellipse cx="272.34" cy="252.19" rx="1.01" ry="1.28" fill="#f6ecf5" opacity="0.35"/>
<ellipse cx="294.38" cy="291.05" rx="1.48" ry="0.74" fill="#e8cfe6" opacity="0.45"/>
<ellipse cx="288.88" cy="275.38" rx="0.63" ry="0.68" fill="#e8cfe6" opacity="0.45"/>
<ellipse cx="294.58" cy="275.04" rx="0.5" ry="1.29" fill="#e8cfe6" opacity="0.45"/>
<ellipse cx="266.64" cy="282.36" rx="1.39" ry="1.37" fill="#b06cad" opacity="0.45"/>
<ellipse cx="278.83" cy="282.95" rx="0.61" ry="0.61" fill="#f6ecf5" opacity="0.35"/>
<ellipse cx="295.29" cy="264.68" rx="1.04" ry="0.79" fill="#f6ecf5" opacity="0.35"/>
<ellipse cx="267.32" cy="303.28" rx="0.94" ry="1.35" fill="#b06cad" opacity="0.45"/>
<ellipse cx="286.64" cy="295.03" rx="0.57" ry="1.06" fill="#b06cad" opacity="0.45"/>
<ellipse cx="269.03" cy="284.04" rx="0.5" ry="0.63" fill="#c284bf" opacity="0.5"/>
<ellipse cx="284.34" cy="260.03" rx="1.42" ry="0.71" fill="#e8cfe6" opacity="0.45"/>
<ellipse cx="302.32" cy="293.8" rx="1.3" ry="1.46" fill="#b06cad" opacity="0.45"/>
<ellipse cx="297.19" cy="267.67" rx="1.49" ry="0.82" fill="#e8cfe6" opacity="0.45"/>
<ellipse cx="257.55" cy="281" rx="1.36" ry="0.9" fill="#e8cfe6" opacity="0.45"/>
<ellipse cx="298.15" cy="286.03" rx="1.41" ry="1.18" fill="#e8cfe6" opacity="0.45"/>
<ellipse cx="267.86" cy="281.43" rx="1.1" ry="1.45" fill="#c284bf" opacity="0.5"/>
<ellipse cx="264.13" cy="298.83" rx="0.81" ry="0.66" fill="#f6ecf5" opacity="0.35"/>
<ellipse cx="263.61" cy="304.44" rx="1.44" ry="0.47" fill="#e8cfe6" opacity="0.45"/>
<ellipse cx="296.86" cy="249.87" rx="1.27" ry="1.18" fill="#c284bf" opacity="0.5"/>
<ellipse cx="257.79" cy="255.83" rx="1.23" ry="1.43" fill="#b06cad" opacity="0.45"/>
<ellipse cx="284.49" cy="273.92" rx="1.12" ry="0.92" fill="#b06cad" opacity="0.45"/>
<ellipse cx="267.85" cy="254.57" rx="0.93" ry="0.59" fill="#f6ecf5" opacity="0.35"/>
<ellipse cx="295.38" cy="302.77" rx="1.38" ry="0.91" fill="#f6ecf5" opacity="0.35"/>
<ellipse cx="294.94" cy="256.57" rx="1.32" ry="0.49" fill="#b06cad" opacity="0.45"/>
<ellipse cx="299.44" cy="255.53" rx="0.89" ry="0.51" fill="#c284bf" opacity="0.5"/>
<ellipse cx="297.11" cy="285.33" rx="0.9" ry="0.77" fill="#f6ecf5" opacity="0.35"/>
<ellipse cx="278.88" cy="285.32" rx="0.56" ry="0.64" fill="#e8cfe6" opacity="0.45"/>
<ellipse cx="264.01" cy="274.53" rx="1.38" ry="0.88" fill="#f6ecf5" opacity="0.35"/>
<ellipse cx="268.32" cy="272.12" rx="0.57" ry="0.7" fill="#b06cad" opacity="0.45"/>
<ellipse cx="271.73" cy="257.24" rx="0.94" ry="0.75" fill="#c284bf" opacity="0.5"/>
<ellipse cx="260.71" cy="306.7" rx="0.46" ry="1.38" fill="#f6ecf5" opacity="0.35"/>
<ellipse cx="283" cy="297.95" rx="0.53" ry="1.23" fill="#b06cad" opacity="0.45"/>
<ellipse cx="276.6" cy="262.95" rx="0.66" ry="0.66" fill="#c284bf" opacity="0.5"/>
<ellipse cx="269.47" cy="301.67" rx="0.46" ry="1.2" fill="#b06cad" opacity="0.45"/>
<ellipse cx="262.22" cy="286.03" rx="0.89" ry="0.96" fill="#f6ecf5" opacity="0.35"/>
<ellipse cx="277.15" cy="295.16" rx="1.44" ry="0.72" fill="#b06cad" opacity="0.45"/>
<ellipse cx="276.76" cy="302.63" rx="0.64" ry="1.03" fill="#f6ecf5" opacity="0.35"/>
<ellipse cx="297.17" cy="278.82" rx="0.65" ry="0.59" fill="#e8cfe6" opacity="0.45"/>
<ellipse cx="296.45" cy="301.25" rx="1.2" ry="1.24" fill="#f6ecf5" opacity="0.35"/>
<ellipse cx="265.3" cy="284.36" rx="1.18" ry="1.29" fill="#b06cad" opacity="0.45"/>
<ellipse cx="265.11" cy="251.01" rx="1.21" ry="0.85" fill="#e8cfe6" opacity="0.45"/>
<ellipse cx="280.92" cy="268.21" rx="0.71" ry="1.1" fill="#c284bf" opacity="0.5"/>
<ellipse cx="259.52" cy="271.98" rx="1.24" ry="0.55" fill="#b06cad" opacity="0.45"/>
<ellipse cx="267.42" cy="281.35" rx="1.48" ry="0.44" fill="#b06cad" opacity="0.45"/>
<ellipse cx="283.75" cy="299.34" rx="0.79" ry="1.43" fill="#e8cfe6" opacity="0.45"/>
<ellipse cx="261.04" cy="290.59" rx="1.3" ry="1.35" fill="#b06cad" opacity="0.45"/>
<ellipse cx="293.96" cy="299.95" rx="1.03" ry="1.39" fill="#b06cad" opacity="0.45"/>
<ellipse cx="298.64" cy="305.2" rx="0.94" ry="0.96" fill="#f6ecf5" opacity="0.35"/>
<ellipse cx="256.03" cy="306.01" rx="0.65" ry="0.6" fill="#e8cfe6" opacity="0.45"/>
<ellipse cx="270.6" cy="280.88" rx="1.45" ry="0.42" fill="#f6ecf5" opacity="0.35"/>
<ellipse cx="268.07" cy="298.08" rx="1.1" ry="0.91" fill="#f6ecf5" opacity="0.35"/>
<ellipse cx="290.13" cy="253.27" rx="1.36" ry="1.19" fill="#e8cfe6" opacity="0.45"/>
<ellipse cx="268.65" cy="275.36" rx="1.04" ry="1.24" fill="#e8cfe6" opacity="0.45"/>
<ellipse cx="261.1" cy="271.74" rx="0.55" ry="1.05" fill="#f6ecf5" opacity="0.35"/>
<ellipse cx="262.36" cy="281.94" rx="1.22" ry="0.58" fill="#e8cfe6" opacity="0.45"/>
<ellipse cx="301.88" cy="270.71" rx="0.86" ry="1.32" fill="#e8cfe6" opacity="0.45"/>
<ellipse cx="274.78" cy="304.42" rx="1.25" ry="0.77" fill="#f6ecf5" opacity="0.35"/>
<ellipse cx="296.93" cy="290.65" rx="1.33" ry="1.02" fill="#b06cad" opacity="0.45"/>
<ellipse cx="295.75" cy="298.71" rx="0.46" ry="0.97" fill="#b06cad" opacity="0.45"/>
<ellipse cx="267.46" cy="272.75" rx="1.1" ry="0.8" fill="#f6ecf5" opacity="0.35"/>
<ellipse cx="258.46" cy="273.42" rx="0.96" ry="0.42" fill="#f6ecf5" opacity="0.35"/>
<ellipse cx="276.04" cy="271.22" rx="1.5" ry="0.9" fill="#e8cfe6" opacity="0.45"/>
<ellipse cx="295.46" cy="300.95" rx="1.37" ry="0.44" fill="#b06cad" opacity="0.45"/>
<ellipse cx="300.9" cy="285.03" rx="1.09" ry="1.29" fill="#e8cfe6" opacity="0.45"/>
<ellipse cx="286.06" cy="262.29" rx="0.97" ry="0.88" fill="#e8cfe6" opacity="0.45"/>
<ellipse cx="269.38" cy="265.63" rx="1.11" ry="0.53" fill="#b06cad" opacity="0.45"/>
<ellipse cx="259.22" cy="283.01" rx="1.43" ry="0.88" fill="#f6ecf5" opacity="0.35"/>
<ellipse cx="299.26" cy="302.85" rx="1.04" ry="0.7" fill="#e8cfe6" opacity="0.45"/>
<ellipse cx="292.02" cy="264.52" rx="0.9" ry="1.16" fill="#f6ecf5" opacity="0.35"/>
<ellipse cx="287.52" cy="259.27" rx="1.18" ry="0.91" fill="#b06cad" opacity="0.45"/>
<ellipse cx="285.64" cy="275.61" rx="0.74" ry="0.67" fill="#f6ecf5" opacity="0.35"/>
<ellipse cx="264.44" cy="280.3" rx="1.47" ry="0.84" fill="#b06cad" opacity="0.45"/>
<ellipse cx="263.11" cy="305.08" rx="0.76" ry="0.76" fill="#b06cad" opacity="0.45"/>
<ellipse cx="269.24" cy="307.24" rx="0.73" ry="1.25" fill="#f6ecf5" opacity="0.35"/>
<ellipse cx="282.56" cy="283.96" rx="0.78" ry="1.12" fill="#c284bf" opacity="0.5"/>
<ellipse cx="296.72" cy="268.6" rx="1.24" ry="0.97" fill="#f6ecf5" opacity="0.35"/>
<ellipse cx="275.84" cy="287.76" rx="0.55" ry="0.62" fill="#b06cad" opacity="0.45"/>
<ellipse cx="296.06" cy="278.58" rx="1.21" ry="1.22" fill="#c284bf" opacity="0.5"/>
<ellipse cx="268.43" cy="285.47" rx="1.1" ry="1.17" fill="#c284bf" opacity="0.5"/>
<ellipse cx="298.54" cy="247.26" rx="1.24" ry="1.04" fill="#c284bf" opacity="0.5"/>
<ellipse cx="274.87" cy="307.57" rx="0.56" ry="1.33" fill="#b06cad" opacity="0.45"/>
<ellipse cx="298.64" cy="284.05" rx="0.82" ry="0.9" fill="#c284bf" opacity="0.5"/>
</g>
<g clip-path="url(#clb)">
<ellipse cx="330.98" cy="274.34" rx="0.79" ry="0.98" fill="#cf98cc" opacity="0.5"/>
<ellipse cx="349.71" cy="256.35" rx="1.22" ry="1.49" fill="#cf98cc" opacity="0.5"/>
<ellipse cx="339.09" cy="265.58" rx="0.73" ry="0.56" fill="#cf98cc" opacity="0.5"/>
<ellipse cx="346.24" cy="260.57" rx="1.41" ry="0.76" fill="#f6ecf5" opacity="0.35"/>
<ellipse cx="365.86" cy="266.62" rx="0.87" ry="1.4" fill="#ecd6ea" opacity="0.45"/>
<ellipse cx="317.33" cy="269.34" rx="1.39" ry="0.73" fill="#c082bd" opacity="0.45"/>
<ellipse cx="344" cy="307.91" rx="0.97" ry="0.97" fill="#cf98cc" opacity="0.5"/>
<ellipse cx="336.25" cy="274.6" rx="1.05" ry="0.79" fill="#ecd6ea" opacity="0.45"/>
<ellipse cx="351.18" cy="283.31" rx="0.51" ry="0.81" fill="#cf98cc" opacity="0.5"/>
<ellipse cx="349.72" cy="304.28" rx="0.57" ry="0.61" fill="#cf98cc" opacity="0.5"/>
<ellipse cx="341.31" cy="278.89" rx="1.09" ry="1.5" fill="#c082bd" opacity="0.45"/>
<ellipse cx="351.96" cy="294.82" rx="0.5" ry="0.8" fill="#c082bd" opacity="0.45"/>
<ellipse cx="366.88" cy="298.95" rx="0.96" ry="0.52" fill="#c082bd" opacity="0.45"/>
<ellipse cx="351.87" cy="298.67" rx="1.49" ry="1.38" fill="#cf98cc" opacity="0.5"/>
<ellipse cx="348.82" cy="283.25" rx="1.3" ry="0.63" fill="#f6ecf5" opacity="0.35"/>
<ellipse cx="337.44" cy="259.13" rx="1.02" ry="0.52" fill="#ecd6ea" opacity="0.45"/>
<ellipse cx="351.97" cy="256.56" rx="0.4" ry="1.18" fill="#ecd6ea" opacity="0.45"/>
<ellipse cx="363.69" cy="276.67" rx="0.51" ry="0.42" fill="#ecd6ea" opacity="0.45"/>
<ellipse cx="326.23" cy="281.89" rx="1.01" ry="0.69" fill="#f6ecf5" opacity="0.35"/>
<ellipse cx="345.87" cy="277.38" rx="0.53" ry="0.57" fill="#ecd6ea" opacity="0.45"/>
<ellipse cx="317.51" cy="259.96" rx="1.44" ry="0.94" fill="#cf98cc" opacity="0.5"/>
<ellipse cx="347.88" cy="297.94" rx="0.47" ry="0.41" fill="#c082bd" opacity="0.45"/>
<ellipse cx="323.48" cy="268.39" rx="0.7" ry="0.44" fill="#ecd6ea" opacity="0.45"/>
<ellipse cx="360.69" cy="305.28" rx="0.47" ry="0.61" fill="#cf98cc" opacity="0.5"/>
<ellipse cx="317.02" cy="267.44" rx="0.84" ry="1.24" fill="#ecd6ea" opacity="0.45"/>
<ellipse cx="338.86" cy="288.25" rx="0.67" ry="0.45" fill="#f6ecf5" opacity="0.35"/>
<ellipse cx="332.37" cy="302.74" rx="1.3" ry="0.73" fill="#c082bd" opacity="0.45"/>
<ellipse cx="365.92" cy="281.77" rx="1.44" ry="0.67" fill="#cf98cc" opacity="0.5"/>
<ellipse cx="351.1" cy="286.41" rx="0.85" ry="0.84" fill="#cf98cc" opacity="0.5"/>
<ellipse cx="317.17" cy="301.15" rx="0.5" ry="0.59" fill="#cf98cc" opacity="0.5"/>
<ellipse cx="325.7" cy="306.52" rx="0.72" ry="1.02" fill="#ecd6ea" opacity="0.45"/>
<ellipse cx="333.42" cy="301.32" rx="0.77" ry="1.12" fill="#ecd6ea" opacity="0.45"/>
<ellipse cx="337.96" cy="303.48" rx="1.01" ry="0.83" fill="#cf98cc" opacity="0.5"/>
<ellipse cx="330.75" cy="268.33" rx="0.44" ry="1.13" fill="#c082bd" opacity="0.45"/>
<ellipse cx="357.85" cy="268.57" rx="0.54" ry="0.62" fill="#f6ecf5" opacity="0.35"/>
<ellipse cx="344.86" cy="280.29" rx="1.27" ry="0.66" fill="#c082bd" opacity="0.45"/>
<ellipse cx="334.35" cy="293.57" rx="0.81" ry="1.45" fill="#f6ecf5" opacity="0.35"/>
<ellipse cx="331.46" cy="280.75" rx="0.62" ry="1.34" fill="#f6ecf5" opacity="0.35"/>
<ellipse cx="364.99" cy="307.89" rx="1.06" ry="0.88" fill="#c082bd" opacity="0.45"/>
<ellipse cx="343.8" cy="277.02" rx="0.96" ry="0.54" fill="#ecd6ea" opacity="0.45"/>
<ellipse cx="351.25" cy="260.76" rx="1.34" ry="1.21" fill="#cf98cc" opacity="0.5"/>
<ellipse cx="317.49" cy="293.35" rx="0.56" ry="0.42" fill="#ecd6ea" opacity="0.45"/>
<ellipse cx="352.12" cy="296.36" rx="0.65" ry="0.61" fill="#ecd6ea" opacity="0.45"/>
<ellipse cx="319.54" cy="303.52" rx="1.29" ry="1.23" fill="#f6ecf5" opacity="0.35"/>
<ellipse cx="319.43" cy="272.19" rx="0.65" ry="0.54" fill="#cf98cc" opacity="0.5"/>
<ellipse cx="330.68" cy="276.98" rx="1.4" ry="1.25" fill="#f6ecf5" opacity="0.35"/>
<ellipse cx="364.71" cy="265.17" rx="0.8" ry="1.28" fill="#c082bd" opacity="0.45"/>
<ellipse cx="362.64" cy="257.31" rx="1.17" ry="0.91" fill="#cf98cc" opacity="0.5"/>
<ellipse cx="334.31" cy="288.7" rx="0.6" ry="0.53" fill="#f6ecf5" opacity="0.35"/>
<ellipse cx="353.05" cy="258.1" rx="0.44" ry="0.58" fill="#f6ecf5" opacity="0.35"/>
<ellipse cx="355.36" cy="264.12" rx="1.21" ry="1.01" fill="#f6ecf5" opacity="0.35"/>
<ellipse cx="345.36" cy="267.84" rx="0.95" ry="0.97" fill="#cf98cc" opacity="0.5"/>
<ellipse cx="350.85" cy="285.91" rx="1.43" ry="0.52" fill="#c082bd" opacity="0.45"/>
<ellipse cx="362.86" cy="301.51" rx="1.04" ry="1.17" fill="#f6ecf5" opacity="0.35"/>
<ellipse cx="351.42" cy="257.93" rx="0.75" ry="1.25" fill="#c082bd" opacity="0.45"/>
<ellipse cx="354.98" cy="260.48" rx="1.16" ry="0.83" fill="#f6ecf5" opacity="0.35"/>
<ellipse cx="330.62" cy="260.68" rx="1.44" ry="0.87" fill="#c082bd" opacity="0.45"/>
<ellipse cx="351.96" cy="294.41" rx="1.31" ry="1.09" fill="#cf98cc" opacity="0.5"/>
<ellipse cx="342.45" cy="291.18" rx="0.63" ry="1.14" fill="#f6ecf5" opacity="0.35"/>
<ellipse cx="341.45" cy="265.84" rx="1.45" ry="1.31" fill="#c082bd" opacity="0.45"/>
<ellipse cx="325.08" cy="264.51" rx="1.26" ry="0.66" fill="#c082bd" opacity="0.45"/>
<ellipse cx="328.98" cy="259.09" rx="0.79" ry="0.85" fill="#f6ecf5" opacity="0.35"/>
<ellipse cx="349.1" cy="263.13" rx="1.15" ry="0.94" fill="#cf98cc" opacity="0.5"/>
<ellipse cx="328.37" cy="268.57" rx="0.97" ry="0.89" fill="#c082bd" opacity="0.45"/>
<ellipse cx="352.3" cy="262.94" rx="1.18" ry="1.05" fill="#f6ecf5" opacity="0.35"/>
<ellipse cx="333.35" cy="298.4" rx="1" ry="1.24" fill="#f6ecf5" opacity="0.35"/>
<ellipse cx="351.21" cy="264.05" rx="1.48" ry="1.32" fill="#cf98cc" opacity="0.5"/>
<ellipse cx="359.22" cy="261.95" rx="0.72" ry="0.8" fill="#f6ecf5" opacity="0.35"/>
<ellipse cx="318.26" cy="302.58" rx="0.73" ry="0.52" fill="#c082bd" opacity="0.45"/>
<ellipse cx="339.3" cy="261.88" rx="0.76" ry="0.92" fill="#c082bd" opacity="0.45"/>
<ellipse cx="331.05" cy="284.99" rx="0.45" ry="0.92" fill="#cf98cc" opacity="0.5"/>
<ellipse cx="320.37" cy="293.29" rx="1.48" ry="1.02" fill="#ecd6ea" opacity="0.45"/>
<ellipse cx="349.55" cy="305.75" rx="0.94" ry="1.26" fill="#c082bd" opacity="0.45"/>
<ellipse cx="316.43" cy="303.82" rx="1.11" ry="1.09" fill="#c082bd" opacity="0.45"/>
<ellipse cx="349.96" cy="260.06" rx="1.22" ry="0.43" fill="#cf98cc" opacity="0.5"/>
<ellipse cx="359.66" cy="271.41" rx="0.6" ry="1.1" fill="#f6ecf5" opacity="0.35"/>
<ellipse cx="321.31" cy="293.38" rx="0.74" ry="1.08" fill="#cf98cc" opacity="0.5"/>
<ellipse cx="325.6" cy="298.92" rx="0.75" ry="0.81" fill="#c082bd" opacity="0.45"/>
<ellipse cx="359.57" cy="269.18" rx="0.46" ry="0.52" fill="#cf98cc" opacity="0.5"/>
<ellipse cx="363.07" cy="305.14" rx="0.94" ry="0.95" fill="#f6ecf5" opacity="0.35"/>
<ellipse cx="367.77" cy="287.34" rx="1.09" ry="0.56" fill="#f6ecf5" opacity="0.35"/>
<ellipse cx="324.51" cy="279.05" rx="1.47" ry="0.5" fill="#ecd6ea" opacity="0.45"/>
<ellipse cx="360.23" cy="280.93" rx="0.64" ry="0.81" fill="#ecd6ea" opacity="0.45"/>
<ellipse cx="359.72" cy="300.48" rx="1.27" ry="0.87" fill="#c082bd" opacity="0.45"/>
<ellipse cx="319.74" cy="258.88" rx="1.18" ry="1.38" fill="#ecd6ea" opacity="0.45"/>
<ellipse cx="338.81" cy="290.64" rx="1.31" ry="1.39" fill="#f6ecf5" opacity="0.35"/>
<ellipse cx="335.7" cy="256.22" rx="1.28" ry="1.14" fill="#f6ecf5" opacity="0.35"/>
<ellipse cx="340.38" cy="284.22" rx="0.97" ry="0.87" fill="#f6ecf5" opacity="0.35"/>
<ellipse cx="366.67" cy="306.01" rx="1.08" ry="1.29" fill="#ecd6ea" opacity="0.45"/>
<ellipse cx="353.58" cy="273.24" rx="1.12" ry="1.02" fill="#cf98cc" opacity="0.5"/>
<ellipse cx="365.55" cy="281" rx="1.11" ry="0.73" fill="#c082bd" opacity="0.45"/>
<ellipse cx="343.58" cy="288.95" rx="1.33" ry="0.64" fill="#cf98cc" opacity="0.5"/>
<ellipse cx="351.95" cy="263.64" rx="1.04" ry="1.01" fill="#cf98cc" opacity="0.5"/>
<ellipse cx="334.72" cy="268.49" rx="0.89" ry="0.69" fill="#f6ecf5" opacity="0.35"/>
<ellipse cx="325.39" cy="302.28" rx="1" ry="0.52" fill="#c082bd" opacity="0.45"/>
<ellipse cx="349.78" cy="265.75" rx="1.14" ry="1.18" fill="#f6ecf5" opacity="0.35"/>
<ellipse cx="344.81" cy="267.78" rx="1.03" ry="0.52" fill="#ecd6ea" opacity="0.45"/>
<ellipse cx="360.28" cy="291.33" rx="1.28" ry="0.55" fill="#ecd6ea" opacity="0.45"/>
<ellipse cx="348.58" cy="305.94" rx="0.97" ry="0.91" fill="#cf98cc" opacity="0.5"/>
<ellipse cx="344.3" cy="306.33" rx="0.61" ry="0.92" fill="#ecd6ea" opacity="0.45"/>
<ellipse cx="323.11" cy="296.36" rx="0.46" ry="0.66" fill="#c082bd" opacity="0.45"/>
<ellipse cx="318.17" cy="292.5" rx="1.45" ry="0.91" fill="#ecd6ea" opacity="0.45"/>
<ellipse cx="352.79" cy="278.15" rx="1.38" ry="1.08" fill="#f6ecf5" opacity="0.35"/>
<ellipse cx="345.27" cy="303.71" rx="1.36" ry="0.58" fill="#c082bd" opacity="0.45"/>
<ellipse cx="357.81" cy="294.28" rx="0.41" ry="0.68" fill="#f6ecf5" opacity="0.35"/>
<ellipse cx="335.4" cy="294.34" rx="1.44" ry="1.19" fill="#ecd6ea" opacity="0.45"/>
<ellipse cx="358.46" cy="274.38" rx="0.79" ry="0.76" fill="#ecd6ea" opacity="0.45"/>
<ellipse cx="317.78" cy="303.33" rx="0.67" ry="0.79" fill="#cf98cc" opacity="0.5"/>
<ellipse cx="317.11" cy="307.41" rx="0.88" ry="1.27" fill="#cf98cc" opacity="0.5"/>
<ellipse cx="321.74" cy="297.64" rx="0.6" ry="1.01" fill="#c082bd" opacity="0.45"/>
<ellipse cx="361.43" cy="290.82" rx="1.32" ry="1.05" fill="#c082bd" opacity="0.45"/>
<ellipse cx="344" cy="291.86" rx="1.29" ry="1.44" fill="#ecd6ea" opacity="0.45"/>
<ellipse cx="317.29" cy="307.71" rx="0.94" ry="0.93" fill="#ecd6ea" opacity="0.45"/>
<ellipse cx="357.62" cy="257.84" rx="0.6" ry="1.3" fill="#cf98cc" opacity="0.5"/>
<ellipse cx="359.83" cy="306.31" rx="1.16" ry="0.89" fill="#f6ecf5" opacity="0.35"/>
<ellipse cx="361.4" cy="287.76" rx="0.48" ry="0.76" fill="#f6ecf5" opacity="0.35"/>
<ellipse cx="332.19" cy="262.81" rx="1.09" ry="0.63" fill="#c082bd" opacity="0.45"/>
<ellipse cx="353.82" cy="273.23" rx="0.92" ry="1.43" fill="#c082bd" opacity="0.45"/>
<ellipse cx="316.31" cy="286.12" rx="0.77" ry="0.42" fill="#cf98cc" opacity="0.5"/>
<ellipse cx="361.57" cy="287.65" rx="1.09" ry="1.2" fill="#f6ecf5" opacity="0.35"/>
<ellipse cx="330.18" cy="270.21" rx="0.95" ry="0.69" fill="#f6ecf5" opacity="0.35"/>
<ellipse cx="367.59" cy="257.77" rx="1.02" ry="1.25" fill="#f6ecf5" opacity="0.35"/>
<ellipse cx="356.26" cy="288.92" rx="1.1" ry="0.8" fill="#c082bd" opacity="0.45"/>
<ellipse cx="357.24" cy="268.38" rx="1.28" ry="0.56" fill="#ecd6ea" opacity="0.45"/>
<ellipse cx="331.81" cy="295.69" rx="1.21" ry="0.96" fill="#f6ecf5" opacity="0.35"/>
<ellipse cx="334.22" cy="284.64" rx="0.85" ry="0.47" fill="#c082bd" opacity="0.45"/>
<ellipse cx="350.93" cy="301.95" rx="1.26" ry="0.95" fill="#f6ecf5" opacity="0.35"/>
<ellipse cx="358.08" cy="307.82" rx="0.57" ry="0.63" fill="#cf98cc" opacity="0.5"/>
<ellipse cx="337.06" cy="276.6" rx="1.25" ry="1.42" fill="#ecd6ea" opacity="0.45"/>
<ellipse cx="323.48" cy="293.43" rx="0.68" ry="1.03" fill="#c082bd" opacity="0.45"/>
<ellipse cx="319.82" cy="265.89" rx="1.42" ry="1.04" fill="#c082bd" opacity="0.45"/>
<ellipse cx="346.18" cy="307.35" rx="0.79" ry="1.25" fill="#cf98cc" opacity="0.5"/>
<ellipse cx="353.5" cy="303.94" rx="1.32" ry="0.75" fill="#f6ecf5" opacity="0.35"/>
<ellipse cx="330.35" cy="269.39" rx="0.43" ry="0.58" fill="#c082bd" opacity="0.45"/>
<ellipse cx="328.32" cy="257.04" rx="0.45" ry="0.89" fill="#c082bd" opacity="0.45"/>
<ellipse cx="360.93" cy="289.7" rx="0.62" ry="1.21" fill="#f6ecf5" opacity="0.35"/>
<ellipse cx="347.25" cy="260.12" rx="1.29" ry="1.36" fill="#c082bd" opacity="0.45"/>
<ellipse cx="353.39" cy="256.26" rx="0.7" ry="1.11" fill="#ecd6ea" opacity="0.45"/>
<ellipse cx="349.27" cy="303.99" rx="0.63" ry="0.76" fill="#ecd6ea" opacity="0.45"/>
<ellipse cx="349.74" cy="277.08" rx="1.15" ry="0.77" fill="#ecd6ea" opacity="0.45"/>
<ellipse cx="360.89" cy="297.41" rx="0.5" ry="1.07" fill="#cf98cc" opacity="0.5"/>
<ellipse cx="367.37" cy="276.78" rx="1.43" ry="1.36" fill="#ecd6ea" opacity="0.45"/>
<ellipse cx="364.12" cy="285.34" rx="1.49" ry="0.46" fill="#c082bd" opacity="0.45"/>
<ellipse cx="324.15" cy="256.97" rx="0.63" ry="0.98" fill="#ecd6ea" opacity="0.45"/>
<ellipse cx="334.61" cy="274.81" rx="0.78" ry="1.15" fill="#f6ecf5" opacity="0.35"/>
<ellipse cx="350.18" cy="287.28" rx="0.76" ry="1.22" fill="#c082bd" opacity="0.45"/>
<ellipse cx="358.3" cy="280.83" rx="0.43" ry="1.11" fill="#cf98cc" opacity="0.5"/>
<ellipse cx="345.08" cy="274.79" rx="0.98" ry="0.7" fill="#c082bd" opacity="0.45"/>
<ellipse cx="316.47" cy="280.74" rx="1.12" ry="1.25" fill="#c082bd" opacity="0.45"/>
<ellipse cx="323.83" cy="288.7" rx="0.84" ry="1.48" fill="#ecd6ea" opacity="0.45"/>
<ellipse cx="348.48" cy="262.36" rx="1" ry="0.63" fill="#f6ecf5" opacity="0.35"/>
<ellipse cx="329.47" cy="287.52" rx="1.21" ry="1.39" fill="#f6ecf5" opacity="0.35"/>
<ellipse cx="343.48" cy="274.24" rx="1.18" ry="0.89" fill="#cf98cc" opacity="0.5"/>
<ellipse cx="327.08" cy="303.44" rx="1.39" ry="0.83" fill="#f6ecf5" opacity="0.35"/>
<ellipse cx="332.84" cy="302.98" rx="0.52" ry="1.21" fill="#ecd6ea" opacity="0.45"/>
<ellipse cx="357.95" cy="303.51" rx="1.14" ry="0.79" fill="#f6ecf5" opacity="0.35"/>
<ellipse cx="345.34" cy="277.32" rx="1.41" ry="1.44" fill="#f6ecf5" opacity="0.35"/>
<ellipse cx="317.6" cy="257.08" rx="1.18" ry="0.67" fill="#c082bd" opacity="0.45"/>
<ellipse cx="326.57" cy="295.48" rx="1.11" ry="0.73" fill="#cf98cc" opacity="0.5"/>
<ellipse cx="327.26" cy="285.62" rx="0.57" ry="1.35" fill="#c082bd" opacity="0.45"/>
<ellipse cx="365.62" cy="263.1" rx="0.73" ry="0.5" fill="#ecd6ea" opacity="0.45"/>
<ellipse cx="341.25" cy="302.33" rx="0.58" ry="1.15" fill="#cf98cc" opacity="0.5"/>
<ellipse cx="327.03" cy="258.71" rx="1.26" ry="1.34" fill="#c082bd" opacity="0.45"/>
<ellipse cx="318.4" cy="296.24" rx="0.88" ry="0.88" fill="#f6ecf5" opacity="0.35"/>
<ellipse cx="367.73" cy="271.48" rx="0.43" ry="0.52" fill="#ecd6ea" opacity="0.45"/>
<ellipse cx="322.94" cy="271.74" rx="0.95" ry="0.79" fill="#f6ecf5" opacity="0.35"/>
<ellipse cx="340.15" cy="276.65" rx="0.86" ry="1.11" fill="#cf98cc" opacity="0.5"/>
<ellipse cx="361.86" cy="306.94" rx="0.44" ry="0.66" fill="#ecd6ea" opacity="0.45"/>
<ellipse cx="317.97" cy="282.25" rx="0.65" ry="0.87" fill="#ecd6ea" opacity="0.45"/>
<ellipse cx="353.88" cy="258.51" rx="1.38" ry="0.47" fill="#ecd6ea" opacity="0.45"/>
<ellipse cx="322.26" cy="281.34" rx="0.55" ry="0.87" fill="#f6ecf5" opacity="0.35"/>
<ellipse cx="327.64" cy="284.1" rx="1.1" ry="1" fill="#ecd6ea" opacity="0.45"/>
<ellipse cx="343.56" cy="299.66" rx="1.45" ry="0.49" fill="#f6ecf5" opacity="0.35"/>
<ellipse cx="360.37" cy="306.55" rx="0.65" ry="0.48" fill="#f6ecf5" opacity="0.35"/>
<ellipse cx="316.79" cy="269.99" rx="1.46" ry="0.62" fill="#ecd6ea" opacity="0.45"/>
<ellipse cx="337.22" cy="284.94" rx="0.8" ry="0.41" fill="#ecd6ea" opacity="0.45"/>
<ellipse cx="349.96" cy="284.29" rx="1" ry="1.16" fill="#c082bd" opacity="0.45"/>
<ellipse cx="336.76" cy="272.55" rx="0.86" ry="1.47" fill="#cf98cc" opacity="0.5"/>
<ellipse cx="355.57" cy="301.85" rx="1.28" ry="1.39" fill="#ecd6ea" opacity="0.45"/>
<ellipse cx="328.43" cy="282.05" rx="1.49" ry="1.16" fill="#cf98cc" opacity="0.5"/>
<ellipse cx="367.53" cy="298.93" rx="1.13" ry="0.5" fill="#ecd6ea" opacity="0.45"/>
<ellipse cx="363.24" cy="258.57" rx="1.16" ry="0.76" fill="#cf98cc" opacity="0.5"/>
<ellipse cx="344.55" cy="272.41" rx="1.47" ry="0.4" fill="#cf98cc" opacity="0.5"/>
<ellipse cx="342.53" cy="286.8" rx="1.49" ry="0.66" fill="#cf98cc" opacity="0.5"/>
<ellipse cx="334.47" cy="259.33" rx="1.47" ry="0.69" fill="#c082bd" opacity="0.45"/>
<ellipse cx="319.74" cy="297.46" rx="1.13" ry="1.42" fill="#c082bd" opacity="0.45"/>
<ellipse cx="329.64" cy="299.73" rx="1.34" ry="0.78" fill="#cf98cc" opacity="0.5"/>
<ellipse cx="345.68" cy="307.97" rx="0.47" ry="1.23" fill="#c082bd" opacity="0.45"/>
<ellipse cx="343.24" cy="283.43" rx="1.29" ry="0.66" fill="#f6ecf5" opacity="0.35"/>
<ellipse cx="323.93" cy="290.41" rx="0.6" ry="1.44" fill="#ecd6ea" opacity="0.45"/>
<ellipse cx="332.74" cy="274.81" rx="1.35" ry="0.87" fill="#cf98cc" opacity="0.5"/>
<ellipse cx="324" cy="269.08" rx="0.51" ry="0.79" fill="#c082bd" opacity="0.45"/>
<ellipse cx="339.55" cy="260.58" rx="0.84" ry="1.5" fill="#ecd6ea" opacity="0.45"/>
<ellipse cx="339.36" cy="280.87" rx="1.28" ry="1.23" fill="#f6ecf5" opacity="0.35"/>
<ellipse cx="316.31" cy="262.79" rx="0.94" ry="1.13" fill="#c082bd" opacity="0.45"/>
<ellipse cx="343.22" cy="297.68" rx="0.68" ry="1.01" fill="#ecd6ea" opacity="0.45"/>
<ellipse cx="345.67" cy="259" rx="0.6" ry="1.19" fill="#c082bd" opacity="0.45"/>
<ellipse cx="363.68" cy="269.29" rx="0.69" ry="0.88" fill="#cf98cc" opacity="0.5"/>
<ellipse cx="360.66" cy="266.49" rx="0.87" ry="1.27" fill="#c082bd" opacity="0.45"/>
<ellipse cx="363.87" cy="293.31" rx="0.81" ry="0.45" fill="#c082bd" opacity="0.45"/>
<ellipse cx="366.43" cy="278.41" rx="1.07" ry="0.68" fill="#f6ecf5" opacity="0.35"/>
<ellipse cx="336.04" cy="286.09" rx="1.42" ry="0.61" fill="#c082bd" opacity="0.45"/>
<ellipse cx="319.29" cy="266.56" rx="1.35" ry="0.49" fill="#cf98cc" opacity="0.5"/>
<ellipse cx="335.73" cy="283.34" rx="0.95" ry="1.39" fill="#ecd6ea" opacity="0.45"/>
<ellipse cx="321.61" cy="285.3" rx="1.43" ry="1.17" fill="#cf98cc" opacity="0.5"/>
<ellipse cx="337.57" cy="280.63" rx="1.38" ry="0.88" fill="#cf98cc" opacity="0.5"/>
<ellipse cx="323.03" cy="295.15" rx="0.41" ry="0.66" fill="#f6ecf5" opacity="0.35"/>
<ellipse cx="336.89" cy="258.11" rx="1.15" ry="1.01" fill="#cf98cc" opacity="0.5"/>
<ellipse cx="356.03" cy="262.14" rx="0.64" ry="0.48" fill="#ecd6ea" opacity="0.45"/>
<ellipse cx="321.29" cy="260.59" rx="1.23" ry="1.02" fill="#ecd6ea" opacity="0.45"/>
<ellipse cx="358.85" cy="266.39" rx="0.77" ry="1.35" fill="#cf98cc" opacity="0.5"/>
<ellipse cx="359.87" cy="263.29" rx="0.85" ry="0.46" fill="#f6ecf5" opacity="0.35"/>
<ellipse cx="332.67" cy="265.89" rx="1.48" ry="0.6" fill="#c082bd" opacity="0.45"/>
<ellipse cx="343.04" cy="260.5" rx="0.82" ry="1.13" fill="#c082bd" opacity="0.45"/>
<ellipse cx="344.9" cy="282.57" rx="0.86" ry="0.46" fill="#c082bd" opacity="0.45"/>
<ellipse cx="328.92" cy="275.77" rx="0.88" ry="0.99" fill="#c082bd" opacity="0.45"/>
<ellipse cx="326.5" cy="258.71" rx="0.99" ry="0.81" fill="#cf98cc" opacity="0.5"/>
<ellipse cx="350.13" cy="292.91" rx="0.56" ry="1.42" fill="#c082bd" opacity="0.45"/>
<ellipse cx="326.41" cy="303.81" rx="1.01" ry="0.46" fill="#c082bd" opacity="0.45"/>
<ellipse cx="316.44" cy="259.52" rx="1.45" ry="1.31" fill="#ecd6ea" opacity="0.45"/>
<ellipse cx="330.22" cy="297.4" rx="0.72" ry="1.18" fill="#cf98cc" opacity="0.5"/>
<ellipse cx="337.11" cy="293.85" rx="0.62" ry="0.62" fill="#f6ecf5" opacity="0.35"/>
<ellipse cx="338.55" cy="289.24" rx="0.45" ry="1.35" fill="#ecd6ea" opacity="0.45"/>
<ellipse cx="358.34" cy="281.85" rx="0.42" ry="1.19" fill="#f6ecf5" opacity="0.35"/>
<ellipse cx="341.91" cy="291.04" rx="1.14" ry="0.72" fill="#f6ecf5" opacity="0.35"/>
<ellipse cx="343.79" cy="264.27" rx="1.26" ry="1.19" fill="#ecd6ea" opacity="0.45"/>
<ellipse cx="340.21" cy="266.48" rx="0.5" ry="0.46" fill="#f6ecf5" opacity="0.35"/>
<ellipse cx="350.26" cy="269.39" rx="1.4" ry="1.15" fill="#f6ecf5" opacity="0.35"/>
<ellipse cx="361.15" cy="304.04" rx="0.55" ry="0.58" fill="#cf98cc" opacity="0.5"/>
<ellipse cx="331.27" cy="268.1" rx="1.04" ry="0.75" fill="#f6ecf5" opacity="0.35"/>
<ellipse cx="332.1" cy="269.42" rx="1" ry="0.64" fill="#f6ecf5" opacity="0.35"/>
<ellipse cx="336.36" cy="257.71" rx="0.82" ry="1.1" fill="#f6ecf5" opacity="0.35"/>
<ellipse cx="350.05" cy="292.1" rx="0.62" ry="0.56" fill="#f6ecf5" opacity="0.35"/>
<ellipse cx="338.35" cy="291.3" rx="0.53" ry="1.31" fill="#ecd6ea" opacity="0.45"/>
<ellipse cx="350.19" cy="266.94" rx="1.12" ry="0.98" fill="#ecd6ea" opacity="0.45"/>
<ellipse cx="331.12" cy="274.09" rx="1.23" ry="0.95" fill="#ecd6ea" opacity="0.45"/>
<ellipse cx="326.43" cy="270.56" rx="0.73" ry="1.04" fill="#ecd6ea" opacity="0.45"/>
<ellipse cx="326.47" cy="280.46" rx="1.24" ry="1.24" fill="#f6ecf5" opacity="0.35"/>
<ellipse cx="346.1" cy="271.59" rx="1.04" ry="0.51" fill="#ecd6ea" opacity="0.45"/>
<ellipse cx="333.9" cy="305.11" rx="1.12" ry="0.46" fill="#c082bd" opacity="0.45"/>
<ellipse cx="334.21" cy="281.01" rx="0.76" ry="0.8" fill="#ecd6ea" opacity="0.45"/>
<ellipse cx="356.96" cy="271.51" rx="0.48" ry="1.02" fill="#ecd6ea" opacity="0.45"/>
<ellipse cx="354.84" cy="261.87" rx="0.58" ry="0.83" fill="#ecd6ea" opacity="0.45"/>
<ellipse cx="317.75" cy="282.69" rx="0.51" ry="1.11" fill="#f6ecf5" opacity="0.35"/>
<ellipse cx="337.6" cy="299.53" rx="0.48" ry="1.2" fill="#f6ecf5" opacity="0.35"/>
<ellipse cx="334.69" cy="290.46" rx="0.5" ry="0.41" fill="#cf98cc" opacity="0.5"/>
<ellipse cx="331.78" cy="269.59" rx="0.52" ry="0.66" fill="#f6ecf5" opacity="0.35"/>
<ellipse cx="341.8" cy="283.87" rx="0.53" ry="0.91" fill="#f6ecf5" opacity="0.35"/>
<ellipse cx="345.56" cy="258.19" rx="0.68" ry="1.44" fill="#c082bd" opacity="0.45"/>
<ellipse cx="336.99" cy="266.58" rx="0.54" ry="0.66" fill="#f6ecf5" opacity="0.35"/>
<ellipse cx="362.31" cy="256.79" rx="1.44" ry="0.94" fill="#f6ecf5" opacity="0.35"/>
<ellipse cx="351.83" cy="267.92" rx="1.23" ry="0.57" fill="#c082bd" opacity="0.45"/>
<ellipse cx="367.9" cy="278.05" rx="1.09" ry="0.52" fill="#ecd6ea" opacity="0.45"/>
<ellipse cx="320.38" cy="286.08" rx="0.66" ry="1.05" fill="#ecd6ea" opacity="0.45"/>
<ellipse cx="358.71" cy="259.8" rx="0.77" ry="0.51" fill="#f6ecf5" opacity="0.35"/>
<ellipse cx="348.15" cy="291.98" rx="1.3" ry="0.78" fill="#cf98cc" opacity="0.5"/>
<ellipse cx="346.78" cy="265.51" rx="0.75" ry="1.42" fill="#cf98cc" opacity="0.5"/>
<ellipse cx="317.68" cy="297.01" rx="0.56" ry="0.96" fill="#f6ecf5" opacity="0.35"/>
<ellipse cx="323.86" cy="273.9" rx="0.55" ry="0.62" fill="#f6ecf5" opacity="0.35"/>
<ellipse cx="351.67" cy="292.85" rx="0.47" ry="0.4" fill="#cf98cc" opacity="0.5"/>
<ellipse cx="317.96" cy="283.33" rx="0.76" ry="0.48" fill="#ecd6ea" opacity="0.45"/>
<ellipse cx="326.35" cy="288.51" rx="1.33" ry="1.27" fill="#ecd6ea" opacity="0.45"/>
<ellipse cx="349.85" cy="306.51" rx="1.04" ry="1.28" fill="#cf98cc" opacity="0.5"/>
<ellipse cx="350.98" cy="294.77" rx="0.55" ry="1.31" fill="#c082bd" opacity="0.45"/>
<ellipse cx="363.05" cy="294.74" rx="1.32" ry="1.28" fill="#f6ecf5" opacity="0.35"/>
<ellipse cx="338.64" cy="298.91" rx="1.26" ry="1.36" fill="#c082bd" opacity="0.45"/>
<ellipse cx="354.9" cy="286.87" rx="1.12" ry="1.1" fill="#ecd6ea" opacity="0.45"/>
<ellipse cx="366.36" cy="296.95" rx="0.68" ry="1.32" fill="#f6ecf5" opacity="0.35"/>
<ellipse cx="328.49" cy="286.56" rx="1.02" ry="1.37" fill="#ecd6ea" opacity="0.45"/>
<ellipse cx="336.38" cy="296.76" rx="1.27" ry="1.15" fill="#c082bd" opacity="0.45"/>
<ellipse cx="358.94" cy="277.12" rx="0.5" ry="1.12" fill="#c082bd" opacity="0.45"/>
<ellipse cx="350.49" cy="303.01" rx="0.87" ry="0.74" fill="#c082bd" opacity="0.45"/>
<ellipse cx="341.43" cy="256.85" rx="0.52" ry="1.29" fill="#cf98cc" opacity="0.5"/>
<ellipse cx="337.36" cy="271.57" rx="0.56" ry="1" fill="#ecd6ea" opacity="0.45"/>
<ellipse cx="334.39" cy="299.92" rx="1.08" ry="0.72" fill="#ecd6ea" opacity="0.45"/>
<ellipse cx="367.61" cy="265.74" rx="1.38" ry="0.85" fill="#f6ecf5" opacity="0.35"/>
<ellipse cx="322.28" cy="291.51" rx="0.45" ry="1.31" fill="#f6ecf5" opacity="0.35"/>
<ellipse cx="336.26" cy="273.3" rx="0.57" ry="0.58" fill="#c082bd" opacity="0.45"/>
<ellipse cx="362.27" cy="287.73" rx="1.38" ry="0.83" fill="#cf98cc" opacity="0.5"/>
<ellipse cx="332.56" cy="301.56" rx="1.27" ry="1.07" fill="#f6ecf5" opacity="0.35"/>
<ellipse cx="336.33" cy="256.47" rx="1.34" ry="0.51" fill="#f6ecf5" opacity="0.35"/>
<ellipse cx="339.64" cy="298.09" rx="0.68" ry="0.79" fill="#ecd6ea" opacity="0.45"/>
<ellipse cx="367.2" cy="294.2" rx="1.23" ry="1.13" fill="#f6ecf5" opacity="0.35"/>
<ellipse cx="364.29" cy="302.48" rx="1.13" ry="0.48" fill="#c082bd" opacity="0.45"/>
<ellipse cx="339.09" cy="305.81" rx="0.8" ry="1.13" fill="#cf98cc" opacity="0.5"/>
<ellipse cx="364.77" cy="298.05" rx="0.47" ry="1.12" fill="#cf98cc" opacity="0.5"/>
<ellipse cx="334.91" cy="306.76" rx="0.46" ry="1.32" fill="#ecd6ea" opacity="0.45"/>
<ellipse cx="344.99" cy="279.28" rx="1.23" ry="1.38" fill="#cf98cc" opacity="0.5"/>
<ellipse cx="317.83" cy="272.91" rx="0.55" ry="1.45" fill="#c082bd" opacity="0.45"/>
<ellipse cx="323.52" cy="286.55" rx="1.03" ry="0.45" fill="#cf98cc" opacity="0.5"/>
<ellipse cx="325.03" cy="286.66" rx="1.48" ry="1.09" fill="#f6ecf5" opacity="0.35"/>
<ellipse cx="331.14" cy="284.3" rx="0.86" ry="1.48" fill="#ecd6ea" opacity="0.45"/>
<ellipse cx="357.85" cy="291.18" rx="0.82" ry="1.46" fill="#c082bd" opacity="0.45"/>
<ellipse cx="351.92" cy="270.43" rx="0.58" ry="1.03" fill="#ecd6ea" opacity="0.45"/>
<ellipse cx="357.27" cy="274.06" rx="0.55" ry="0.97" fill="#ecd6ea" opacity="0.45"/>
<ellipse cx="324.43" cy="294.39" rx="0.59" ry="0.74" fill="#ecd6ea" opacity="0.45"/>
<ellipse cx="346.54" cy="306.52" rx="1.25" ry="0.8" fill="#f6ecf5" opacity="0.35"/>
<ellipse cx="330.16" cy="302.34" rx="0.92" ry="1.08" fill="#cf98cc" opacity="0.5"/>
<ellipse cx="336.96" cy="291.44" rx="0.8" ry="0.75" fill="#cf98cc" opacity="0.5"/>
<ellipse cx="329.88" cy="266.61" rx="1.4" ry="0.9" fill="#cf98cc" opacity="0.5"/>
<ellipse cx="349.13" cy="296.49" rx="0.75" ry="0.57" fill="#cf98cc" opacity="0.5"/>
<ellipse cx="350.39" cy="300.1" rx="0.85" ry="0.48" fill="#cf98cc" opacity="0.5"/>
<ellipse cx="334.86" cy="303.71" rx="0.98" ry="0.72" fill="#ecd6ea" opacity="0.45"/>
<ellipse cx="329.51" cy="296.11" rx="0.45" ry="1.31" fill="#c082bd" opacity="0.45"/>
<ellipse cx="334.39" cy="304.88" rx="0.69" ry="0.67" fill="#ecd6ea" opacity="0.45"/>
<ellipse cx="361.53" cy="261.01" rx="1.06" ry="1.31" fill="#ecd6ea" opacity="0.45"/>
<ellipse cx="364.36" cy="264.63" rx="0.59" ry="1.2" fill="#ecd6ea" opacity="0.45"/>
<ellipse cx="356.28" cy="276.51" rx="1.43" ry="1.22" fill="#c082bd" opacity="0.45"/>
<ellipse cx="336.8" cy="281.99" rx="0.77" ry="1.35" fill="#f6ecf5" opacity="0.35"/>
<ellipse cx="343.65" cy="283.1" rx="1.14" ry="1.39" fill="#f6ecf5" opacity="0.35"/>
<ellipse cx="327.08" cy="291.46" rx="1.42" ry="0.47" fill="#ecd6ea" opacity="0.45"/>
<ellipse cx="360.3" cy="290.73" rx="1.04" ry="0.84" fill="#c082bd" opacity="0.45"/>
<ellipse cx="356.83" cy="291.34" rx="1.34" ry="0.55" fill="#f6ecf5" opacity="0.35"/>
<ellipse cx="350.92" cy="295.21" rx="0.95" ry="1.39" fill="#ecd6ea" opacity="0.45"/>
<ellipse cx="354.64" cy="298.69" rx="1.11" ry="1.37" fill="#f6ecf5" opacity="0.35"/>
<ellipse cx="349.67" cy="301.53" rx="0.82" ry="1.39" fill="#ecd6ea" opacity="0.45"/>
<ellipse cx="356.12" cy="287.45" rx="0.96" ry="1.07" fill="#f6ecf5" opacity="0.35"/>
<ellipse cx="332.08" cy="274.71" rx="1.03" ry="1.38" fill="#ecd6ea" opacity="0.45"/>
<ellipse cx="334.71" cy="292.37" rx="0.48" ry="1.32" fill="#c082bd" opacity="0.45"/>
<ellipse cx="327.36" cy="279.8" rx="1.24" ry="0.89" fill="#ecd6ea" opacity="0.45"/>
<ellipse cx="366.82" cy="286.69" rx="1.06" ry="0.44" fill="#cf98cc" opacity="0.5"/>
<ellipse cx="321.75" cy="267.67" rx="1.09" ry="0.77" fill="#c082bd" opacity="0.45"/>
<ellipse cx="343.6" cy="267.98" rx="1.01" ry="1.3" fill="#c082bd" opacity="0.45"/>
<ellipse cx="359.65" cy="298.05" rx="0.99" ry="0.43" fill="#f6ecf5" opacity="0.35"/>
<ellipse cx="317.48" cy="282.24" rx="0.87" ry="0.47" fill="#c082bd" opacity="0.45"/>
<ellipse cx="353.68" cy="286.42" rx="0.84" ry="0.96" fill="#cf98cc" opacity="0.5"/>
<ellipse cx="327.77" cy="301.12" rx="1.5" ry="1.28" fill="#c082bd" opacity="0.45"/>
<ellipse cx="350.21" cy="269.09" rx="1.11" ry="1.03" fill="#cf98cc" opacity="0.5"/>
<ellipse cx="339.61" cy="291.5" rx="1.18" ry="0.9" fill="#c082bd" opacity="0.45"/>
<ellipse cx="348.02" cy="261.82" rx="0.58" ry="1.24" fill="#ecd6ea" opacity="0.45"/>
<ellipse cx="354.27" cy="282.84" rx="0.88" ry="0.62" fill="#f6ecf5" opacity="0.35"/>
<ellipse cx="356.21" cy="266.46" rx="1.23" ry="1.32" fill="#c082bd" opacity="0.45"/>
<ellipse cx="354.88" cy="305.31" rx="1.41" ry="1.19" fill="#ecd6ea" opacity="0.45"/>
<ellipse cx="319.26" cy="266.69" rx="0.41" ry="1.35" fill="#c082bd" opacity="0.45"/>
<ellipse cx="345" cy="288.63" rx="1.02" ry="0.75" fill="#c082bd" opacity="0.45"/>
<ellipse cx="331.9" cy="258.3" rx="0.59" ry="0.79" fill="#ecd6ea" opacity="0.45"/>
<ellipse cx="357.83" cy="279.66" rx="0.51" ry="0.52" fill="#f6ecf5" opacity="0.35"/>
<ellipse cx="334.92" cy="301.98" rx="0.93" ry="0.49" fill="#c082bd" opacity="0.45"/>
<ellipse cx="357.33" cy="280.76" rx="1.3" ry="0.54" fill="#ecd6ea" opacity="0.45"/>
<ellipse cx="343.47" cy="269.06" rx="0.83" ry="0.79" fill="#ecd6ea" opacity="0.45"/>
<ellipse cx="364.75" cy="266.04" rx="0.71" ry="1.3" fill="#cf98cc" opacity="0.5"/>
<ellipse cx="356.27" cy="293.74" rx="0.58" ry="1.39" fill="#cf98cc" opacity="0.5"/>
<ellipse cx="322.96" cy="256.67" rx="0.64" ry="1.04" fill="#cf98cc" opacity="0.5"/>
<ellipse cx="317.44" cy="298.29" rx="1.47" ry="0.49" fill="#ecd6ea" opacity="0.45"/>
<ellipse cx="326.61" cy="285.79" rx="1.41" ry="1.34" fill="#c082bd" opacity="0.45"/>
<ellipse cx="348.48" cy="302.04" rx="0.93" ry="1.1" fill="#f6ecf5" opacity="0.35"/>
<ellipse cx="316.38" cy="266.63" rx="0.79" ry="1.37" fill="#ecd6ea" opacity="0.45"/>
<ellipse cx="346.74" cy="262.56" rx="0.62" ry="0.9" fill="#cf98cc" opacity="0.5"/>
<ellipse cx="355.61" cy="285.65" rx="1.19" ry="1.35" fill="#f6ecf5" opacity="0.35"/>
<ellipse cx="336.81" cy="290.99" rx="1.19" ry="0.66" fill="#cf98cc" opacity="0.5"/>
<ellipse cx="351.99" cy="280.53" rx="0.56" ry="1.4" fill="#cf98cc" opacity="0.5"/>
<ellipse cx="319.26" cy="268.41" rx="1.49" ry="0.65" fill="#cf98cc" opacity="0.5"/>
<ellipse cx="345.44" cy="294.75" rx="0.65" ry="1.21" fill="#ecd6ea" opacity="0.45"/>
<ellipse cx="328.62" cy="303.22" rx="0.62" ry="0.4" fill="#cf98cc" opacity="0.5"/>
<ellipse cx="318.53" cy="268.5" rx="1.42" ry="0.64" fill="#ecd6ea" opacity="0.45"/>
<ellipse cx="364.38" cy="289.21" rx="1.41" ry="0.69" fill="#f6ecf5" opacity="0.35"/>
<ellipse cx="340.33" cy="280.9" rx="1.45" ry="1.24" fill="#ecd6ea" opacity="0.45"/>
<ellipse cx="325.72" cy="297.97" rx="0.58" ry="0.96" fill="#ecd6ea" opacity="0.45"/>
<ellipse cx="342.51" cy="305.75" rx="0.82" ry="1.37" fill="#ecd6ea" opacity="0.45"/>
<ellipse cx="360.27" cy="284.91" rx="1.3" ry="0.95" fill="#ecd6ea" opacity="0.45"/>
<ellipse cx="352.71" cy="290.4" rx="1.08" ry="0.9" fill="#ecd6ea" opacity="0.45"/>
<ellipse cx="345.11" cy="266.84" rx="0.61" ry="0.96" fill="#cf98cc" opacity="0.5"/>
<ellipse cx="326.86" cy="292.82" rx="1.21" ry="1.14" fill="#ecd6ea" opacity="0.45"/>
<ellipse cx="347.86" cy="260.49" rx="0.97" ry="1.15" fill="#ecd6ea" opacity="0.45"/>
<ellipse cx="353.97" cy="300.19" rx="1.33" ry="0.51" fill="#c082bd" opacity="0.45"/>
<ellipse cx="330.25" cy="272.08" rx="0.73" ry="0.94" fill="#c082bd" opacity="0.45"/>
<ellipse cx="355.98" cy="256.36" rx="0.48" ry="0.53" fill="#f6ecf5" opacity="0.35"/>
<ellipse cx="343.05" cy="279.69" rx="0.85" ry="1.07" fill="#f6ecf5" opacity="0.35"/>
<ellipse cx="363.65" cy="294.1" rx="1.28" ry="1.4" fill="#ecd6ea" opacity="0.45"/>
<ellipse cx="353.27" cy="257.59" rx="1.15" ry="1.33" fill="#cf98cc" opacity="0.5"/>
<ellipse cx="357.66" cy="258.85" rx="1.08" ry="0.72" fill="#c082bd" opacity="0.45"/>
<ellipse cx="352.74" cy="269.14" rx="0.73" ry="0.78" fill="#c082bd" opacity="0.45"/>
<ellipse cx="335.88" cy="264.43" rx="0.58" ry="1.44" fill="#cf98cc" opacity="0.5"/>
<ellipse cx="355.64" cy="299.51" rx="1.49" ry="1.23" fill="#c082bd" opacity="0.45"/>
<ellipse cx="357.79" cy="256.68" rx="0.99" ry="0.77" fill="#c082bd" opacity="0.45"/>
<ellipse cx="363.89" cy="273.09" rx="1.25" ry="1.25" fill="#c082bd" opacity="0.45"/>
<ellipse cx="357.32" cy="283.66" rx="0.52" ry="1.31" fill="#c082bd" opacity="0.45"/>
<ellipse cx="338.1" cy="273.52" rx="0.47" ry="0.53" fill="#cf98cc" opacity="0.5"/>
<ellipse cx="324.38" cy="283.61" rx="1.11" ry="0.99" fill="#cf98cc" opacity="0.5"/>
<ellipse cx="364.43" cy="282.98" rx="1.25" ry="1.09" fill="#f6ecf5" opacity="0.35"/>
<ellipse cx="327.34" cy="295.26" rx="1.37" ry="1.19" fill="#cf98cc" opacity="0.5"/>
<ellipse cx="353.22" cy="307.46" rx="0.59" ry="0.88" fill="#f6ecf5" opacity="0.35"/>
<ellipse cx="351.91" cy="294.79" rx="1.23" ry="0.67" fill="#c082bd" opacity="0.45"/>
<ellipse cx="365.95" cy="260.77" rx="1.35" ry="1.11" fill="#f6ecf5" opacity="0.35"/>
<ellipse cx="350.12" cy="287.09" rx="1.16" ry="0.73" fill="#ecd6ea" opacity="0.45"/>
<ellipse cx="353.94" cy="283.86" rx="0.48" ry="0.48" fill="#ecd6ea" opacity="0.45"/>
<ellipse cx="353.57" cy="289.72" rx="0.96" ry="1.37" fill="#cf98cc" opacity="0.5"/>
<ellipse cx="325.25" cy="261.2" rx="0.73" ry="0.85" fill="#f6ecf5" opacity="0.35"/>
<ellipse cx="339.14" cy="293.87" rx="0.5" ry="1.43" fill="#c082bd" opacity="0.45"/>
<ellipse cx="332.78" cy="266.71" rx="0.83" ry="1.26" fill="#ecd6ea" opacity="0.45"/>
<ellipse cx="360.46" cy="297.75" rx="1.14" ry="0.71" fill="#ecd6ea" opacity="0.45"/>
<ellipse cx="359.97" cy="259.78" rx="0.5" ry="1.26" fill="#c082bd" opacity="0.45"/>
<ellipse cx="350.38" cy="265.39" rx="0.56" ry="0.51" fill="#ecd6ea" opacity="0.45"/>
<ellipse cx="335.92" cy="289.92" rx="1.03" ry="0.65" fill="#ecd6ea" opacity="0.45"/>
<ellipse cx="331.39" cy="269.95" rx="1.42" ry="1.43" fill="#c082bd" opacity="0.45"/>
<ellipse cx="334.91" cy="293.58" rx="0.55" ry="1.27" fill="#c082bd" opacity="0.45"/>
<ellipse cx="335.27" cy="264.64" rx="1.13" ry="1.36" fill="#f6ecf5" opacity="0.35"/>
<ellipse cx="330.83" cy="275.8" rx="1.24" ry="0.65" fill="#f6ecf5" opacity="0.35"/>
<ellipse cx="362.1" cy="295.66" rx="1.34" ry="0.66" fill="#cf98cc" opacity="0.5"/>
<ellipse cx="329.67" cy="256.39" rx="0.51" ry="0.82" fill="#c082bd" opacity="0.45"/>
<ellipse cx="328.21" cy="257.53" rx="0.88" ry="0.53" fill="#cf98cc" opacity="0.5"/>
<ellipse cx="344.88" cy="281.59" rx="0.85" ry="0.93" fill="#f6ecf5" opacity="0.35"/>
<ellipse cx="363.31" cy="278.14" rx="0.47" ry="0.61" fill="#c082bd" opacity="0.45"/>
<ellipse cx="334.78" cy="280.4" rx="1.43" ry="1.01" fill="#ecd6ea" opacity="0.45"/>
<ellipse cx="342.48" cy="281.17" rx="0.64" ry="1.07" fill="#cf98cc" opacity="0.5"/>
<ellipse cx="321.72" cy="305.07" rx="0.98" ry="0.66" fill="#f6ecf5" opacity="0.35"/>
<ellipse cx="342.55" cy="272.45" rx="0.51" ry="0.93" fill="#cf98cc" opacity="0.5"/>
<ellipse cx="364.05" cy="279.97" rx="1.2" ry="0.48" fill="#cf98cc" opacity="0.5"/>
<ellipse cx="348.81" cy="261.09" rx="0.71" ry="1.27" fill="#ecd6ea" opacity="0.45"/>
<ellipse cx="322.22" cy="307.18" rx="0.93" ry="0.6" fill="#ecd6ea" opacity="0.45"/>
<ellipse cx="348.63" cy="298.2" rx="1.39" ry="1.11" fill="#ecd6ea" opacity="0.45"/>
<ellipse cx="343.93" cy="268.17" rx="0.95" ry="1.07" fill="#c082bd" opacity="0.45"/>
<ellipse cx="323.54" cy="297.79" rx="1.44" ry="1.21" fill="#c082bd" opacity="0.45"/>
<ellipse cx="350.14" cy="289.84" rx="1.17" ry="0.42" fill="#cf98cc" opacity="0.5"/>
<ellipse cx="362.88" cy="260.26" rx="0.64" ry="0.44" fill="#cf98cc" opacity="0.5"/>
<ellipse cx="366.72" cy="299.64" rx="0.73" ry="0.75" fill="#f6ecf5" opacity="0.35"/>
<ellipse cx="364.85" cy="276.9" rx="1.15" ry="0.41" fill="#cf98cc" opacity="0.5"/>
<ellipse cx="328.12" cy="280.81" rx="0.96" ry="1.44" fill="#cf98cc" opacity="0.5"/>
<ellipse cx="350.97" cy="267.04" rx="1.4" ry="0.61" fill="#cf98cc" opacity="0.5"/>
<ellipse cx="326.5" cy="307.98" rx="0.9" ry="0.65" fill="#c082bd" opacity="0.45"/>
</g>
<g fill="#fbf6fb"><ellipse cx="287.5" cy="254.5" rx="1.3" ry="1"/><ellipse cx="291.8" cy="257.2" rx="1.2" ry="1"/><ellipse cx="296.2" cy="259.8" rx="1.1" ry="1.1"/><ellipse cx="284.2" cy="258.5" rx="1" ry="1.4"/><ellipse cx="289.2" cy="261.2" rx="1.2" ry="0.9"/><ellipse cx="293.8" cy="263.2" rx="1.3" ry="0.8"/><ellipse cx="299.5" cy="262.8" rx="1.2" ry="0.8"/><ellipse cx="276.2" cy="269" rx="1.6" ry="2.8"/><ellipse cx="281" cy="255.5" rx="0.8" ry="1.4"/></g>
<g fill="none" stroke="#faf3fa" stroke-linecap="round" stroke-linejoin="round"><path d="M258.5,267.5 C262,269.5 266,268.5 268.3,269 C270.5,268 272,267 274,266.5" stroke-width="1.3"/><path d="M278.9,266.5 C279.5,272 280.5,278 280.8,285.3 C281,290 281.2,294 281.4,296.5" stroke-width="1.3"/><path d="M288.3,281.5 C288.6,288 288.8,294 288.9,299" stroke-width="1.1"/><path d="M270.8,276.5 C271.5,280 272,283 272,285.3 C271.8,289 271.6,292 271.4,294" stroke-width="1"/><path d="M276,253 L278,256 M280,252.5 L281.5,257 L279.5,261 M285,254.5 L287,258 L285.5,262 M289.5,255.5 L292.5,259 L290,262 M296,259 L297.5,262 M283,262 L286,264 M293,258.5 L295.5,261.5 L298.5,262.5 M288,260 L289.5,263" stroke-width="1.2"/><path d="M273.5,258 C275,261 276,263 275.5,266" stroke-width="0.9"/><path d="M341.5,277.5 C341,283 340.3,288 339.8,292 C339.4,296 339.1,300 338.8,303" stroke-width="1.8"/><path d="M344.3,281 C344.8,287 345.2,293 345.4,298.4" stroke-width="0.9"/><path d="M342,272 L343,277" stroke-width="1"/></g></g>
<polygon points="282.5,246.9 285.3,246.9 283.9,249.3" fill="#111"/>
<polygon points="294.9,252.7 297.7,252.7 296.3,255.1" fill="#111"/>
<polygon points="258.8,257.7 261.6,257.7 260.2,260.1" fill="#111"/>
<polygon points="251.8,264.9 251.8,267.7 254.2,266.3" fill="#111"/>
<polygon points="272.8,264.1 272.8,266.9 275.2,265.5" fill="#111"/>
<polygon points="300.8,270.7 300.8,273.5 298.4,272.1" fill="#111"/>
<polygon points="274.2,282.4 277,282.4 275.6,280" fill="#111"/>
<polygon points="289.1,285.7 291.9,285.7 290.5,283.3" fill="#111"/>
<polygon points="267.6,296.4 270.4,296.4 269,294" fill="#111"/>
<polygon points="277,303.1 279.8,303.1 278.4,300.7" fill="#111"/>
<polygon points="284.1,309.7 286.9,309.7 285.5,307.3" fill="#111"/>
<polygon points="319.8,254.4 322.6,254.4 321.2,256.8" fill="#111"/>
<polygon points="336.1,285.6 336.1,288.4 338.5,287" fill="#111"/>
<polygon points="349.3,281.5 349.3,284.3 351.7,282.9" fill="#111"/>
<polygon points="368.7,279.8 368.7,282.6 366.3,281.2" fill="#111"/>
<polygon points="364.1,295.5 364.1,298.3 361.7,296.9" fill="#111"/>
<polygon points="334.2,309.7 337,309.7 335.6,307.3" fill="#111"/>
<line x1="296" y1="308.6" x2="298.2" y2="308.6" stroke="#333" stroke-width="0.8"/>
<line x1="360.8" y1="307.9" x2="363.8" y2="307.9" stroke="#333" stroke-width="0.8"/>
<text x="363.1" y="314.2" font-size="6.2" text-anchor="middle">1 mm</text>
<text x="426.5" y="223.9" font-size="8.6" text-anchor="middle">Area%</text>
<polygon points="428.4,228.8 429.13,230.19 430.68,230.46 429.59,231.59 429.81,233.14 428.4,232.45 426.99,233.14 427.21,231.59 426.12,230.46 427.67,230.19" fill="#1a1a1a"/>
<line x1="418.75" y1="237.9" x2="438.4" y2="237.9" stroke="#222" stroke-width="1"/>
<circle cx="420.4" cy="252" r="1.6" fill="#1b9cc6"/>
<circle cx="427.1" cy="255.1" r="1.6" fill="#1b9cc6"/>
<circle cx="423.7" cy="281.3" r="1.6" fill="#1b9cc6"/>
<circle cx="423.7" cy="286.2" r="1.6" fill="#1b9cc6"/>
<circle cx="423.7" cy="291.2" r="1.6" fill="#1b9cc6"/>
<line x1="418" y1="273.2" x2="430" y2="273.2" stroke="#222" stroke-width="1.1"/>
<line x1="423.7" y1="265.1" x2="423.7" y2="281.3" stroke="#222" stroke-width="1"/>
<line x1="421.2" y1="265.1" x2="426.2" y2="265.1" stroke="#222" stroke-width="1"/>
<line x1="421.2" y1="281.3" x2="426.2" y2="281.3" stroke="#222" stroke-width="1"/>
<polygon points="434.7,282.89 437.9,282.89 436.3,280.11" fill="#d81e2c"/>
<polygon points="431.4,293.69 434.6,293.69 433,290.91" fill="#d81e2c"/>
<polygon points="438.4,297.39 441.6,297.39 440,294.61" fill="#d81e2c"/>
<polygon points="431.4,302.39 434.6,302.39 433,299.61" fill="#d81e2c"/>
<polygon points="437.9,304.19 441.1,304.19 439.5,301.41" fill="#d81e2c"/>
<line x1="431.8" y1="294.3" x2="442.2" y2="294.3" stroke="#222" stroke-width="1.1"/>
<line x1="436.6" y1="291" x2="436.6" y2="298" stroke="#222" stroke-width="1"/>
<line x1="434.4" y1="291" x2="438.8" y2="291" stroke="#222" stroke-width="1"/>
<line x1="434.4" y1="298" x2="438.8" y2="298" stroke="#222" stroke-width="1"/>
<line x1="411.6" y1="235.5" x2="411.6" y2="310" stroke="#3c3c3c" stroke-width="1"/>
<line x1="409" y1="310" x2="411.6" y2="310" stroke="#3c3c3c" stroke-width="1"/>
<text x="408.1" y="312.61" font-size="7.9" text-anchor="end">0.0</text>
<line x1="409" y1="291.55" x2="411.6" y2="291.55" stroke="#3c3c3c" stroke-width="1"/>
<text x="408.1" y="294.16" font-size="7.9" text-anchor="end">0.5</text>
<line x1="409" y1="273.1" x2="411.6" y2="273.1" stroke="#3c3c3c" stroke-width="1"/>
<text x="408.1" y="275.71" font-size="7.9" text-anchor="end">1.0</text>
<line x1="409" y1="254.65" x2="411.6" y2="254.65" stroke="#3c3c3c" stroke-width="1"/>
<text x="408.1" y="257.26" font-size="7.9" text-anchor="end">1.5</text>
<line x1="409" y1="236.2" x2="411.6" y2="236.2" stroke="#3c3c3c" stroke-width="1"/>
<text x="408.1" y="238.81" font-size="7.9" text-anchor="end">2.0</text>
<line x1="411.6" y1="310" x2="449.3" y2="310" stroke="#3c3c3c" stroke-width="1"/>
<line x1="423.7" y1="310" x2="423.7" y2="312.4" stroke="#3c3c3c" stroke-width="1"/>
<line x1="436.3" y1="310" x2="436.3" y2="312.4" stroke="#3c3c3c" stroke-width="1"/>
<text x="426.1" y="319.7" font-size="8.3" text-anchor="end" transform="rotate(-45 426.1 319.7)">Control</text>
<text x="439.3" y="319" font-size="8.3" text-anchor="end" transform="rotate(-45 439.3 319)">BMS-794833</text>
<text x="391.7" y="273.5" font-size="8" text-anchor="middle" transform="rotate(-90 391.7 273.5)">Normalized area (folds)</text>
<text x="501.2" y="224.1" font-size="8.7" text-anchor="middle">Counts</text>
<polygon points="500.2,228.8 500.93,230.19 502.48,230.46 501.39,231.59 501.61,233.14 500.2,232.45 498.79,233.14 499.01,231.59 497.92,230.46 499.47,230.19" fill="#1a1a1a"/>
<line x1="490.8" y1="237.9" x2="509.9" y2="237.9" stroke="#222" stroke-width="1"/>
<circle cx="493.7" cy="244.7" r="1.6" fill="#1b9cc6"/>
<circle cx="493.7" cy="250.6" r="1.6" fill="#1b9cc6"/>
<circle cx="493.7" cy="263.2" r="1.6" fill="#1b9cc6"/>
<circle cx="493.7" cy="268.1" r="1.6" fill="#1b9cc6"/>
<circle cx="493.7" cy="276.6" r="1.6" fill="#1b9cc6"/>
<line x1="487.4" y1="260.9" x2="500" y2="260.9" stroke="#222" stroke-width="1.1"/>
<line x1="493.7" y1="255.1" x2="493.7" y2="266.5" stroke="#222" stroke-width="1"/>
<line x1="491.2" y1="255.1" x2="496.2" y2="255.1" stroke="#222" stroke-width="1"/>
<line x1="491.2" y1="266.5" x2="496.2" y2="266.5" stroke="#222" stroke-width="1"/>
<polygon points="505,273.09 508.2,273.09 506.6,270.31" fill="#d81e2c"/>
<polygon points="499.9,279.89 503.1,279.89 501.5,277.11" fill="#d81e2c"/>
<polygon points="502.9,281.89 506.1,281.89 504.5,279.11" fill="#d81e2c"/>
<polygon points="507.4,279.39 510.6,279.39 509,276.61" fill="#d81e2c"/>
<polygon points="510.4,283.39 513.6,283.39 512,280.61" fill="#d81e2c"/>
<line x1="501.6" y1="277.2" x2="513.3" y2="277.2" stroke="#222" stroke-width="1.1"/>
<line x1="507" y1="275" x2="507" y2="280" stroke="#222" stroke-width="1"/>
<line x1="504.8" y1="275" x2="509.2" y2="275" stroke="#222" stroke-width="1"/>
<line x1="504.8" y1="280" x2="509.2" y2="280" stroke="#222" stroke-width="1"/>
<line x1="480.7" y1="235.5" x2="480.7" y2="310.3" stroke="#3c3c3c" stroke-width="1"/>
<line x1="478.1" y1="310.3" x2="480.7" y2="310.3" stroke="#3c3c3c" stroke-width="1"/>
<text x="477.2" y="312.91" font-size="7.9" text-anchor="end">0.0</text>
<line x1="478.1" y1="285.6" x2="480.7" y2="285.6" stroke="#3c3c3c" stroke-width="1"/>
<text x="477.2" y="288.21" font-size="7.9" text-anchor="end">0.5</text>
<line x1="478.1" y1="260.9" x2="480.7" y2="260.9" stroke="#3c3c3c" stroke-width="1"/>
<text x="477.2" y="263.51" font-size="7.9" text-anchor="end">1.0</text>
<line x1="478.1" y1="236.2" x2="480.7" y2="236.2" stroke="#3c3c3c" stroke-width="1"/>
<text x="477.2" y="238.81" font-size="7.9" text-anchor="end">1.5</text>
<line x1="480.7" y1="310.3" x2="519.5" y2="310.3" stroke="#3c3c3c" stroke-width="1"/>
<line x1="493.75" y1="310.3" x2="493.75" y2="312.7" stroke="#3c3c3c" stroke-width="1"/>
<line x1="506.6" y1="310.3" x2="506.6" y2="312.7" stroke="#3c3c3c" stroke-width="1"/>
<text x="496.3" y="320" font-size="8.3" text-anchor="end" transform="rotate(-45 496.3 320)">Control</text>
<text x="509" y="319.2" font-size="8.3" text-anchor="end" transform="rotate(-45 509 319.2)">BMS-794833</text>
<text x="461.2" y="268.5" font-size="7.45" text-anchor="middle" transform="rotate(-90 461.2 268.5)">Normalized foci (folds)</text>
<text x="2" y="364.6" font-size="13.5" font-weight="bold">E</text>
<text x="35" y="377" font-size="10.85">Gene expression of isolated TAMs</text>
<text x="96.2" y="392.5" font-size="9">4T1 tumor</text>
<text x="41.2" y="411.3" font-size="8">Anti-inflammatory</text>
<text x="142" y="411.3" font-size="8">Inflammatory</text>
<rect x="40.6" y="485.08" width="4" height="9.72" fill="#a9dff7"/>
<rect x="44.6" y="482.8" width="4.3" height="12" fill="#f6a4aa"/>
<circle cx="42.2" cy="476.51" r="1.5" fill="#29a6d9"/>
<circle cx="43.1" cy="481.08" r="1.5" fill="#29a6d9"/>
<circle cx="42.2" cy="485.66" r="1.5" fill="#29a6d9"/>
<circle cx="43.1" cy="489.09" r="1.5" fill="#29a6d9"/>
<rect x="45.05" y="475.68" width="2.8" height="2.8" fill="#d0202e"/>
<rect x="45.75" y="479.68" width="2.8" height="2.8" fill="#d0202e"/>
<rect x="45.05" y="483.11" width="2.8" height="2.8" fill="#d0202e"/>
<rect x="45.75" y="484.26" width="2.8" height="2.8" fill="#d0202e"/>
<line x1="42.6" y1="481.08" x2="42.6" y2="489.09" stroke="#2a3a4a" stroke-width="0.7"/>
<line x1="41.7" y1="481.08" x2="43.5" y2="481.08" stroke="#2a3a4a" stroke-width="0.7"/>
<line x1="41.7" y1="489.09" x2="43.5" y2="489.09" stroke="#2a3a4a" stroke-width="0.7"/>
<line x1="46.75" y1="480.51" x2="46.75" y2="485.08" stroke="#6a1a20" stroke-width="0.7"/>
<line x1="45.85" y1="480.51" x2="47.65" y2="480.51" stroke="#6a1a20" stroke-width="0.7"/>
<line x1="45.85" y1="485.08" x2="47.65" y2="485.08" stroke="#6a1a20" stroke-width="0.7"/>
<rect x="54.4" y="483.37" width="4" height="11.43" fill="#a9dff7"/>
<rect x="58.4" y="491.37" width="4.3" height="3.43" fill="#f6a4aa"/>
<circle cx="56" cy="477.66" r="1.5" fill="#29a6d9"/>
<circle cx="56.9" cy="482.23" r="1.5" fill="#29a6d9"/>
<circle cx="56" cy="485.66" r="1.5" fill="#29a6d9"/>
<circle cx="56.9" cy="490.23" r="1.5" fill="#29a6d9"/>
<rect x="58.85" y="488.83" width="2.8" height="2.8" fill="#d0202e"/>
<rect x="59.55" y="491.11" width="2.8" height="2.8" fill="#d0202e"/>
<rect x="58.85" y="492.26" width="2.8" height="2.8" fill="#d0202e"/>
<rect x="59.55" y="492.83" width="2.8" height="2.8" fill="#d0202e"/>
<line x1="56.4" y1="479.94" x2="56.4" y2="486.8" stroke="#2a3a4a" stroke-width="0.7"/>
<line x1="55.5" y1="479.94" x2="57.3" y2="479.94" stroke="#2a3a4a" stroke-width="0.7"/>
<line x1="55.5" y1="486.8" x2="57.3" y2="486.8" stroke="#2a3a4a" stroke-width="0.7"/>
<line x1="60.55" y1="489.66" x2="60.55" y2="493.09" stroke="#6a1a20" stroke-width="0.7"/>
<line x1="59.65" y1="489.66" x2="61.45" y2="489.66" stroke="#6a1a20" stroke-width="0.7"/>
<line x1="59.65" y1="493.09" x2="61.45" y2="493.09" stroke="#6a1a20" stroke-width="0.7"/>
<rect x="68.1" y="486.23" width="4" height="8.57" fill="#a9dff7"/>
<rect x="72.1" y="489.09" width="4.3" height="5.71" fill="#f6a4aa"/>
<circle cx="69.7" cy="474.23" r="1.5" fill="#29a6d9"/>
<circle cx="70.6" cy="478.8" r="1.5" fill="#29a6d9"/>
<circle cx="69.7" cy="486.8" r="1.5" fill="#29a6d9"/>
<circle cx="70.6" cy="491.37" r="1.5" fill="#29a6d9"/>
<rect x="72.55" y="477.4" width="2.8" height="2.8" fill="#d0202e"/>
<rect x="73.25" y="481.97" width="2.8" height="2.8" fill="#d0202e"/>
<rect x="72.55" y="488.83" width="2.8" height="2.8" fill="#d0202e"/>
<rect x="73.25" y="491.11" width="2.8" height="2.8" fill="#d0202e"/>
<line x1="70.1" y1="480.51" x2="70.1" y2="491.94" stroke="#2a3a4a" stroke-width="0.7"/>
<line x1="69.2" y1="480.51" x2="71" y2="480.51" stroke="#2a3a4a" stroke-width="0.7"/>
<line x1="69.2" y1="491.94" x2="71" y2="491.94" stroke="#2a3a4a" stroke-width="0.7"/>
<line x1="74.25" y1="485.66" x2="74.25" y2="492.51" stroke="#6a1a20" stroke-width="0.7"/>
<line x1="73.35" y1="485.66" x2="75.15" y2="485.66" stroke="#6a1a20" stroke-width="0.7"/>
<line x1="73.35" y1="492.51" x2="75.15" y2="492.51" stroke="#6a1a20" stroke-width="0.7"/>
<rect x="81.9" y="483.37" width="4" height="11.43" fill="#a9dff7"/>
<rect x="85.9" y="453.65" width="4.3" height="41.15" fill="#f6a4aa"/>
<circle cx="83.5" cy="479.94" r="1.5" fill="#29a6d9"/>
<circle cx="84.4" cy="483.37" r="1.5" fill="#29a6d9"/>
<circle cx="83.5" cy="485.66" r="1.5" fill="#29a6d9"/>
<rect x="86.35" y="433.39" width="2.8" height="2.8" fill="#d0202e"/>
<rect x="87.05" y="438.54" width="2.8" height="2.8" fill="#d0202e"/>
<rect x="86.35" y="462.54" width="2.8" height="2.8" fill="#d0202e"/>
<rect x="87.05" y="474.54" width="2.8" height="2.8" fill="#d0202e"/>
<line x1="83.9" y1="481.08" x2="83.9" y2="485.66" stroke="#2a3a4a" stroke-width="0.7"/>
<line x1="83" y1="481.08" x2="84.8" y2="481.08" stroke="#2a3a4a" stroke-width="0.7"/>
<line x1="83" y1="485.66" x2="84.8" y2="485.66" stroke="#2a3a4a" stroke-width="0.7"/>
<line x1="88.05" y1="444.51" x2="88.05" y2="462.8" stroke="#6a1a20" stroke-width="0.7"/>
<line x1="87.15" y1="444.51" x2="88.95" y2="444.51" stroke="#6a1a20" stroke-width="0.7"/>
<line x1="87.15" y1="462.8" x2="88.95" y2="462.8" stroke="#6a1a20" stroke-width="0.7"/>
<rect x="95.7" y="485.08" width="4" height="9.72" fill="#a9dff7"/>
<rect x="99.7" y="485.08" width="4.3" height="9.72" fill="#f6a4aa"/>
<circle cx="97.3" cy="477.66" r="1.5" fill="#29a6d9"/>
<circle cx="98.2" cy="481.08" r="1.5" fill="#29a6d9"/>
<circle cx="97.3" cy="486.8" r="1.5" fill="#29a6d9"/>
<circle cx="98.2" cy="490.23" r="1.5" fill="#29a6d9"/>
<rect x="100.15" y="476.26" width="2.8" height="2.8" fill="#d0202e"/>
<rect x="100.85" y="479.68" width="2.8" height="2.8" fill="#d0202e"/>
<rect x="100.15" y="484.26" width="2.8" height="2.8" fill="#d0202e"/>
<rect x="100.85" y="488.83" width="2.8" height="2.8" fill="#d0202e"/>
<line x1="97.7" y1="481.08" x2="97.7" y2="489.09" stroke="#2a3a4a" stroke-width="0.7"/>
<line x1="96.8" y1="481.08" x2="98.6" y2="481.08" stroke="#2a3a4a" stroke-width="0.7"/>
<line x1="96.8" y1="489.09" x2="98.6" y2="489.09" stroke="#2a3a4a" stroke-width="0.7"/>
<line x1="101.85" y1="481.08" x2="101.85" y2="489.09" stroke="#6a1a20" stroke-width="0.7"/>
<line x1="100.95" y1="481.08" x2="102.75" y2="481.08" stroke="#6a1a20" stroke-width="0.7"/>
<line x1="100.95" y1="489.09" x2="102.75" y2="489.09" stroke="#6a1a20" stroke-width="0.7"/>
<polygon points="60.8,462.8 61.41,463.96 62.7,464.18 61.79,465.12 61.98,466.42 60.8,465.84 59.62,466.42 59.81,465.12 58.9,464.18 60.19,463.96" fill="#1a1a1a"/>
<polygon points="60.8,468 61.41,469.16 62.7,469.38 61.79,470.32 61.98,471.62 60.8,471.04 59.62,471.62 59.81,470.32 58.9,469.38 60.19,469.16" fill="#1a1a1a"/>
<polygon points="88.1,424.9 88.71,426.06 90,426.28 89.09,427.22 89.28,428.52 88.1,427.94 86.92,428.52 87.11,427.22 86.2,426.28 87.49,426.06" fill="#1a1a1a"/>
<line x1="37.9" y1="426" x2="37.9" y2="494.8" stroke="#3c3c3c" stroke-width="1"/>
<line x1="35.3" y1="494.8" x2="37.9" y2="494.8" stroke="#3c3c3c" stroke-width="1"/>
<text x="34.4" y="497.37" font-size="7.8" text-anchor="end">0</text>
<line x1="35.3" y1="471.94" x2="37.9" y2="471.94" stroke="#3c3c3c" stroke-width="1"/>
<text x="34.4" y="474.51" font-size="7.8" text-anchor="end">2</text>
<line x1="35.3" y1="449.08" x2="37.9" y2="449.08" stroke="#3c3c3c" stroke-width="1"/>
<text x="34.4" y="451.65" font-size="7.8" text-anchor="end">4</text>
<line x1="35.3" y1="426.22" x2="37.9" y2="426.22" stroke="#3c3c3c" stroke-width="1"/>
<text x="34.4" y="428.79" font-size="7.8" text-anchor="end">6</text>
<line x1="37.9" y1="494.8" x2="106.5" y2="494.8" stroke="#3c3c3c" stroke-width="1"/>
<line x1="44.6" y1="494.8" x2="44.6" y2="497.2" stroke="#3c3c3c" stroke-width="1"/>
<line x1="58.4" y1="494.8" x2="58.4" y2="497.2" stroke="#3c3c3c" stroke-width="1"/>
<line x1="72.1" y1="494.8" x2="72.1" y2="497.2" stroke="#3c3c3c" stroke-width="1"/>
<line x1="85.9" y1="494.8" x2="85.9" y2="497.2" stroke="#3c3c3c" stroke-width="1"/>
<line x1="99.7" y1="494.8" x2="99.7" y2="497.2" stroke="#3c3c3c" stroke-width="1"/>
<text x="46.4" y="506" font-size="7.3" text-anchor="end" transform="rotate(-45 46.4 506)">Arg1</text>
<text x="60.2" y="506" font-size="7.3" text-anchor="end" transform="rotate(-45 60.2 506)">Chi3l3</text>
<text x="73.9" y="506" font-size="7.3" text-anchor="end" transform="rotate(-45 73.9 506)">Il10</text>
<text x="87.7" y="506" font-size="7.3" text-anchor="end" transform="rotate(-45 87.7 506)">Mmp9</text>
<text x="101.5" y="506" font-size="7.3" text-anchor="end" transform="rotate(-45 101.5 506)">Vegfa</text>
<text x="23.6" y="458" font-size="7.2" text-anchor="middle" transform="rotate(-90 23.6 458)">Relative expression levels (folds)</text>
<rect x="134.2" y="468.4" width="4" height="26.7" fill="#a9dff7"/>
<rect x="138.2" y="445.71" width="4.3" height="49.39" fill="#f6a4aa"/>
<circle cx="135.8" cy="460.39" r="1.5" fill="#29a6d9"/>
<circle cx="136.7" cy="465.73" r="1.5" fill="#29a6d9"/>
<circle cx="135.8" cy="471.07" r="1.5" fill="#29a6d9"/>
<circle cx="136.7" cy="472.41" r="1.5" fill="#29a6d9"/>
<rect x="138.65" y="442.97" width="2.8" height="2.8" fill="#d0202e"/>
<rect x="139.35" y="444.31" width="2.8" height="2.8" fill="#d0202e"/>
<rect x="138.65" y="445.64" width="2.8" height="2.8" fill="#d0202e"/>
<rect x="139.35" y="450.98" width="2.8" height="2.8" fill="#d0202e"/>
<line x1="136.2" y1="464.4" x2="136.2" y2="472.41" stroke="#2a3a4a" stroke-width="0.7"/>
<line x1="135.3" y1="464.4" x2="137.1" y2="464.4" stroke="#2a3a4a" stroke-width="0.7"/>
<line x1="135.3" y1="472.41" x2="137.1" y2="472.41" stroke="#2a3a4a" stroke-width="0.7"/>
<line x1="140.35" y1="443.04" x2="140.35" y2="448.38" stroke="#6a1a20" stroke-width="0.7"/>
<line x1="139.45" y1="443.04" x2="141.25" y2="443.04" stroke="#6a1a20" stroke-width="0.7"/>
<line x1="139.45" y1="448.38" x2="141.25" y2="448.38" stroke="#6a1a20" stroke-width="0.7"/>
<rect x="147.7" y="468.4" width="4" height="26.7" fill="#a9dff7"/>
<rect x="151.7" y="455.05" width="4.3" height="40.05" fill="#f6a4aa"/>
<circle cx="149.3" cy="443.04" r="1.5" fill="#29a6d9"/>
<circle cx="150.2" cy="471.07" r="1.5" fill="#29a6d9"/>
<circle cx="149.3" cy="471.07" r="1.5" fill="#29a6d9"/>
<circle cx="150.2" cy="481.75" r="1.5" fill="#29a6d9"/>
<rect x="152.15" y="440.3" width="2.8" height="2.8" fill="#d0202e"/>
<rect x="152.85" y="441.64" width="2.8" height="2.8" fill="#d0202e"/>
<rect x="152.15" y="456.32" width="2.8" height="2.8" fill="#d0202e"/>
<rect x="152.85" y="485.69" width="2.8" height="2.8" fill="#d0202e"/>
<line x1="149.7" y1="459.06" x2="149.7" y2="477.75" stroke="#2a3a4a" stroke-width="0.7"/>
<line x1="148.8" y1="459.06" x2="150.6" y2="459.06" stroke="#2a3a4a" stroke-width="0.7"/>
<line x1="148.8" y1="477.75" x2="150.6" y2="477.75" stroke="#2a3a4a" stroke-width="0.7"/>
<line x1="153.85" y1="447.04" x2="153.85" y2="463.06" stroke="#6a1a20" stroke-width="0.7"/>
<line x1="152.95" y1="447.04" x2="154.75" y2="447.04" stroke="#6a1a20" stroke-width="0.7"/>
<line x1="152.95" y1="463.06" x2="154.75" y2="463.06" stroke="#6a1a20" stroke-width="0.7"/>
<rect x="161.3" y="468.4" width="4" height="26.7" fill="#a9dff7"/>
<rect x="165.3" y="475.61" width="4.3" height="19.49" fill="#f6a4aa"/>
<circle cx="162.9" cy="452.38" r="1.5" fill="#29a6d9"/>
<circle cx="163.8" cy="455.05" r="1.5" fill="#29a6d9"/>
<circle cx="162.9" cy="471.07" r="1.5" fill="#29a6d9"/>
<circle cx="163.8" cy="491.1" r="1.5" fill="#29a6d9"/>
<rect x="165.75" y="468.34" width="2.8" height="2.8" fill="#d0202e"/>
<rect x="166.45" y="472.34" width="2.8" height="2.8" fill="#d0202e"/>
<rect x="165.75" y="475.01" width="2.8" height="2.8" fill="#d0202e"/>
<rect x="166.45" y="477.68" width="2.8" height="2.8" fill="#d0202e"/>
<line x1="163.3" y1="459.06" x2="163.3" y2="477.75" stroke="#2a3a4a" stroke-width="0.7"/>
<line x1="162.4" y1="459.06" x2="164.2" y2="459.06" stroke="#2a3a4a" stroke-width="0.7"/>
<line x1="162.4" y1="477.75" x2="164.2" y2="477.75" stroke="#2a3a4a" stroke-width="0.7"/>
<line x1="167.45" y1="472.94" x2="167.45" y2="478.28" stroke="#6a1a20" stroke-width="0.7"/>
<line x1="166.55" y1="472.94" x2="168.35" y2="472.94" stroke="#6a1a20" stroke-width="0.7"/>
<line x1="166.55" y1="478.28" x2="168.35" y2="478.28" stroke="#6a1a20" stroke-width="0.7"/>
<rect x="174.5" y="468.4" width="4" height="26.7" fill="#a9dff7"/>
<rect x="178.5" y="463.06" width="4.3" height="32.04" fill="#f6a4aa"/>
<circle cx="176.1" cy="455.05" r="1.5" fill="#29a6d9"/>
<circle cx="177" cy="460.39" r="1.5" fill="#29a6d9"/>
<circle cx="176.1" cy="471.07" r="1.5" fill="#29a6d9"/>
<circle cx="177" cy="485.75" r="1.5" fill="#29a6d9"/>
<rect x="178.95" y="445.64" width="2.8" height="2.8" fill="#d0202e"/>
<rect x="179.65" y="456.32" width="2.8" height="2.8" fill="#d0202e"/>
<rect x="178.95" y="467" width="2.8" height="2.8" fill="#d0202e"/>
<rect x="179.65" y="473.68" width="2.8" height="2.8" fill="#d0202e"/>
<line x1="176.5" y1="459.06" x2="176.5" y2="477.75" stroke="#2a3a4a" stroke-width="0.7"/>
<line x1="175.6" y1="459.06" x2="177.4" y2="459.06" stroke="#2a3a4a" stroke-width="0.7"/>
<line x1="175.6" y1="477.75" x2="177.4" y2="477.75" stroke="#2a3a4a" stroke-width="0.7"/>
<line x1="180.65" y1="457.72" x2="180.65" y2="468.4" stroke="#6a1a20" stroke-width="0.7"/>
<line x1="179.75" y1="457.72" x2="181.55" y2="457.72" stroke="#6a1a20" stroke-width="0.7"/>
<line x1="179.75" y1="468.4" x2="181.55" y2="468.4" stroke="#6a1a20" stroke-width="0.7"/>
<rect x="187.3" y="468.4" width="4" height="26.7" fill="#a9dff7"/>
<rect x="191.3" y="440.37" width="4.3" height="54.74" fill="#f6a4aa"/>
<circle cx="188.9" cy="460.39" r="1.5" fill="#29a6d9"/>
<circle cx="189.8" cy="463.06" r="1.5" fill="#29a6d9"/>
<circle cx="188.9" cy="485.75" r="1.5" fill="#29a6d9"/>
<rect x="191.75" y="432.29" width="2.8" height="2.8" fill="#d0202e"/>
<rect x="192.45" y="436.3" width="2.8" height="2.8" fill="#d0202e"/>
<rect x="191.75" y="440.3" width="2.8" height="2.8" fill="#d0202e"/>
<rect x="192.45" y="441.64" width="2.8" height="2.8" fill="#d0202e"/>
<rect x="191.75" y="448.31" width="2.8" height="2.8" fill="#d0202e"/>
<line x1="189.3" y1="460.39" x2="189.3" y2="476.41" stroke="#2a3a4a" stroke-width="0.7"/>
<line x1="188.4" y1="460.39" x2="190.2" y2="460.39" stroke="#2a3a4a" stroke-width="0.7"/>
<line x1="188.4" y1="476.41" x2="190.2" y2="476.41" stroke="#2a3a4a" stroke-width="0.7"/>
<line x1="193.45" y1="437.7" x2="193.45" y2="443.04" stroke="#6a1a20" stroke-width="0.7"/>
<line x1="192.55" y1="437.7" x2="194.35" y2="437.7" stroke="#6a1a20" stroke-width="0.7"/>
<line x1="192.55" y1="443.04" x2="194.35" y2="443.04" stroke="#6a1a20" stroke-width="0.7"/>
<polygon points="140.2,423.9 140.81,425.06 142.1,425.28 141.19,426.22 141.38,427.52 140.2,426.94 139.02,427.52 139.21,426.22 138.3,425.28 139.59,425.06" fill="#1a1a1a"/>
<polygon points="140.2,429 140.81,430.16 142.1,430.38 141.19,431.32 141.38,432.62 140.2,432.04 139.02,432.62 139.21,431.32 138.3,430.38 139.59,430.16" fill="#1a1a1a"/>
<polygon points="140.2,434.1 140.81,435.26 142.1,435.48 141.19,436.42 141.38,437.72 140.2,437.14 139.02,437.72 139.21,436.42 138.3,435.48 139.59,435.26" fill="#1a1a1a"/>
<polygon points="194.9,419 195.51,420.16 196.8,420.38 195.89,421.32 196.08,422.62 194.9,422.04 193.72,422.62 193.91,421.32 193,420.38 194.29,420.16" fill="#1a1a1a"/>
<polygon points="194.9,424.4 195.51,425.56 196.8,425.78 195.89,426.72 196.08,428.02 194.9,427.44 193.72,428.02 193.91,426.72 193,425.78 194.29,425.56" fill="#1a1a1a"/>
<line x1="131.8" y1="427.5" x2="131.8" y2="495.1" stroke="#3c3c3c" stroke-width="1"/>
<line x1="129.2" y1="495.1" x2="131.8" y2="495.1" stroke="#3c3c3c" stroke-width="1"/>
<text x="128.3" y="497.67" font-size="7.8" text-anchor="end">0.0</text>
<line x1="129.2" y1="481.75" x2="131.8" y2="481.75" stroke="#3c3c3c" stroke-width="1"/>
<text x="128.3" y="484.32" font-size="7.8" text-anchor="end">0.5</text>
<line x1="129.2" y1="468.4" x2="131.8" y2="468.4" stroke="#3c3c3c" stroke-width="1"/>
<text x="128.3" y="470.97" font-size="7.8" text-anchor="end">1.0</text>
<line x1="129.2" y1="455.05" x2="131.8" y2="455.05" stroke="#3c3c3c" stroke-width="1"/>
<text x="128.3" y="457.62" font-size="7.8" text-anchor="end">1.5</text>
<line x1="129.2" y1="441.7" x2="131.8" y2="441.7" stroke="#3c3c3c" stroke-width="1"/>
<text x="128.3" y="444.27" font-size="7.8" text-anchor="end">2.0</text>
<line x1="129.2" y1="428.35" x2="131.8" y2="428.35" stroke="#3c3c3c" stroke-width="1"/>
<text x="128.3" y="430.92" font-size="7.8" text-anchor="end">2.5</text>
<line x1="131.8" y1="495.1" x2="199.2" y2="495.1" stroke="#3c3c3c" stroke-width="1"/>
<line x1="138.2" y1="495.1" x2="138.2" y2="497.5" stroke="#3c3c3c" stroke-width="1"/>
<line x1="151.7" y1="495.1" x2="151.7" y2="497.5" stroke="#3c3c3c" stroke-width="1"/>
<line x1="165.3" y1="495.1" x2="165.3" y2="497.5" stroke="#3c3c3c" stroke-width="1"/>
<line x1="178.5" y1="495.1" x2="178.5" y2="497.5" stroke="#3c3c3c" stroke-width="1"/>
<line x1="191.3" y1="495.1" x2="191.3" y2="497.5" stroke="#3c3c3c" stroke-width="1"/>
<text x="140" y="506.2" font-size="7.5" text-anchor="end" transform="rotate(-45 140 506.2)">Cxcl10</text>
<text x="153.5" y="506.2" font-size="7.5" text-anchor="end" transform="rotate(-45 153.5 506.2)">H2-Aa</text>
<text x="167.1" y="506.2" font-size="7.5" text-anchor="end" transform="rotate(-45 167.1 506.2)">Il1b</text>
<text x="180.3" y="506.2" font-size="7.5" text-anchor="end" transform="rotate(-45 180.3 506.2)">Nos2</text>
<text x="193.1" y="506.2" font-size="7.5" text-anchor="end" transform="rotate(-45 193.1 506.2)">Tnf</text>
<circle cx="209.1" cy="425" r="1.4" fill="#29a6d9"/>
<text x="214" y="427.3" font-size="7">Control</text>
<rect x="207.85" y="432.95" width="2.5" height="2.5" fill="#d0202e"/>
<text x="214" y="435.8" font-size="7">BMS-794833</text>
<text x="282.3" y="363.9" font-size="13.5" font-weight="bold">F</text>
<text x="295.5" y="376.3" font-size="10.85">Quantification of TAMs by multiplex IHC</text>
<text x="372" y="392.5" font-size="9">4T1 tumor</text>
<text x="335.6" y="406.3" font-size="7.9" text-anchor="middle">Total TAMs</text>
<text x="335.5" y="415.6" font-size="7.9" text-anchor="middle">(F4/80<tspan dy="-2.8" font-size="5">+</tspan><tspan dy="2.8">)</tspan></text>
<text x="396.9" y="406.3" font-size="7.9" text-anchor="middle">Anti-inflammatory</text>
<text x="396.5" y="415.6" font-size="7.9" text-anchor="middle">(F4/80<tspan dy="-2.8" font-size="5">+</tspan><tspan dy="2.8">Arg1</tspan><tspan dy="-2.8" font-size="5">+</tspan><tspan dy="2.8">)</tspan></text>
<text x="458.1" y="406.3" font-size="7.9" text-anchor="middle">Inflammatory</text>
<text x="457.9" y="415.6" font-size="7.9" text-anchor="middle">(F4/80<tspan dy="-2.8" font-size="5">+</tspan><tspan dy="2.8">iNOS</tspan><tspan dy="-2.8" font-size="5">+</tspan><tspan dy="2.8">)</tspan></text>
<rect x="321.65" y="448.4" width="9.9" height="51.6" fill="#67cbf1" stroke="#2f9ccc" stroke-width="0.9"/>
<rect x="334.45" y="442.3" width="10.1" height="57.7" fill="#f58b8d" stroke="#b8474f" stroke-width="0.9"/>
<line x1="326.6" y1="441.2" x2="326.6" y2="454.4" stroke="#222" stroke-width="0.9"/>
<line x1="324.8" y1="441.2" x2="328.4" y2="441.2" stroke="#222" stroke-width="0.9"/>
<line x1="324.8" y1="454.4" x2="328.4" y2="454.4" stroke="#222" stroke-width="0.9"/>
<line x1="339.5" y1="436.2" x2="339.5" y2="447.7" stroke="#222" stroke-width="0.9"/>
<line x1="337.7" y1="436.2" x2="341.3" y2="436.2" stroke="#222" stroke-width="0.9"/>
<line x1="337.7" y1="447.7" x2="341.3" y2="447.7" stroke="#222" stroke-width="0.9"/>
<circle cx="326.4" cy="434.9" r="1.5" fill="#1aa0d6"/>
<circle cx="326.4" cy="454.4" r="1.5" fill="#1a8fc0"/>
<circle cx="335.2" cy="436.2" r="1.5" fill="#c0102a"/>
<circle cx="342.6" cy="436.2" r="1.5" fill="#c0102a"/>
<circle cx="339.2" cy="453.1" r="1.5" fill="#c0102a"/>
<text x="333.2" y="427.5" font-size="7" text-anchor="middle">ns</text>
<line x1="316.1" y1="431.8" x2="316.1" y2="500" stroke="#3c3c3c" stroke-width="1"/>
<line x1="313.5" y1="500" x2="316.1" y2="500" stroke="#3c3c3c" stroke-width="1"/>
<text x="312.6" y="502.81" font-size="8.5" text-anchor="end">0</text>
<line x1="313.5" y1="485.5" x2="316.1" y2="485.5" stroke="#3c3c3c" stroke-width="1"/>
<text x="312.6" y="488.31" font-size="8.5" text-anchor="end">300</text>
<line x1="313.5" y1="471" x2="316.1" y2="471" stroke="#3c3c3c" stroke-width="1"/>
<text x="312.6" y="473.81" font-size="8.5" text-anchor="end">600</text>
<line x1="313.5" y1="456.5" x2="316.1" y2="456.5" stroke="#3c3c3c" stroke-width="1"/>
<text x="312.6" y="459.31" font-size="8.5" text-anchor="end">900</text>
<line x1="313.5" y1="442" x2="316.1" y2="442" stroke="#3c3c3c" stroke-width="1"/>
<text x="312.6" y="444.81" font-size="8.5" text-anchor="end">1,200</text>
<line x1="316.1" y1="500" x2="350" y2="500" stroke="#3c3c3c" stroke-width="1"/>
<line x1="326.5" y1="500" x2="326.5" y2="502.4" stroke="#3c3c3c" stroke-width="1"/>
<line x1="339.3" y1="500" x2="339.3" y2="502.4" stroke="#3c3c3c" stroke-width="1"/>
<text x="329.9" y="510.2" font-size="8.2" text-anchor="end" transform="rotate(-45 329.9 510.2)">Control</text>
<text x="342.7" y="510.2" font-size="8.2" text-anchor="end" transform="rotate(-45 342.7 510.2)">BMS-794833</text>
<text x="290" y="464.4" font-size="9.5" text-anchor="middle" transform="rotate(-90 290 464.4)">Cell number (/mm<tspan dy="-3" font-size="5.8">2</tspan><tspan dy="3">)</tspan></text>
<rect x="377.75" y="454.4" width="9.6" height="45.6" fill="#67cbf1" stroke="#2f9ccc" stroke-width="0.9"/>
<rect x="390.25" y="475.8" width="9.6" height="24.2" fill="#f58b8d" stroke="#b8474f" stroke-width="0.9"/>
<line x1="382.5" y1="448.4" x2="382.5" y2="460" stroke="#222" stroke-width="0.9"/>
<line x1="380.7" y1="448.4" x2="384.3" y2="448.4" stroke="#222" stroke-width="0.9"/>
<line x1="380.7" y1="460" x2="384.3" y2="460" stroke="#222" stroke-width="0.9"/>
<line x1="395" y1="468.5" x2="395" y2="482.4" stroke="#222" stroke-width="0.9"/>
<line x1="393.2" y1="468.5" x2="396.8" y2="468.5" stroke="#222" stroke-width="0.9"/>
<line x1="393.2" y1="482.4" x2="396.8" y2="482.4" stroke="#222" stroke-width="0.9"/>
<circle cx="382.5" cy="442.6" r="1.5" fill="#1aa0d6"/>
<circle cx="382.5" cy="461.8" r="1.5" fill="#1a8fc0"/>
<circle cx="395" cy="465.4" r="1.5" fill="#c0102a"/>
<circle cx="395" cy="471.6" r="1.5" fill="#c0102a"/>
<circle cx="395" cy="488.6" r="1.5" fill="#c0102a"/>
<text x="370.6" y="428.2" font-size="6.4"><tspan font-style="italic">P</tspan> = 0.0802, ns</text>
<line x1="381" y1="431" x2="397.5" y2="431" stroke="#222" stroke-width="0.9"/>
<line x1="371.9" y1="433" x2="371.9" y2="500" stroke="#3c3c3c" stroke-width="1"/>
<line x1="369.3" y1="499.6" x2="371.9" y2="499.6" stroke="#3c3c3c" stroke-width="1"/>
<text x="368.4" y="502.24" font-size="8" text-anchor="end">0</text>
<line x1="369.3" y1="477.52" x2="371.9" y2="477.52" stroke="#3c3c3c" stroke-width="1"/>
<text x="368.4" y="480.16" font-size="8" text-anchor="end">200</text>
<line x1="369.3" y1="455.44" x2="371.9" y2="455.44" stroke="#3c3c3c" stroke-width="1"/>
<text x="368.4" y="458.08" font-size="8" text-anchor="end">400</text>
<line x1="369.3" y1="433.36" x2="371.9" y2="433.36" stroke="#3c3c3c" stroke-width="1"/>
<text x="368.4" y="436" font-size="8" text-anchor="end">600</text>
<line x1="371.9" y1="500" x2="406" y2="500" stroke="#3c3c3c" stroke-width="1"/>
<line x1="382.1" y1="500" x2="382.1" y2="502.4" stroke="#3c3c3c" stroke-width="1"/>
<line x1="394.8" y1="500" x2="394.8" y2="502.4" stroke="#3c3c3c" stroke-width="1"/>
<text x="385.5" y="510.2" font-size="8.2" text-anchor="end" transform="rotate(-45 385.5 510.2)">Control</text>
<text x="398.2" y="510.2" font-size="8.2" text-anchor="end" transform="rotate(-45 398.2 510.2)">BMS-794833</text>
<rect x="441.75" y="493.7" width="9.6" height="6.3" fill="#67cbf1" stroke="#2f9ccc" stroke-width="0.9"/>
<rect x="454.85" y="479.8" width="9.2" height="20.2" fill="#f58b8d" stroke="#b8474f" stroke-width="0.9"/>
<line x1="446.7" y1="488.1" x2="446.7" y2="499" stroke="#222" stroke-width="0.9"/>
<line x1="444.9" y1="488.1" x2="448.5" y2="488.1" stroke="#222" stroke-width="0.9"/>
<line x1="444.9" y1="499" x2="448.5" y2="499" stroke="#222" stroke-width="0.9"/>
<line x1="459.5" y1="461.1" x2="459.5" y2="499" stroke="#222" stroke-width="0.9"/>
<line x1="457.7" y1="461.1" x2="461.3" y2="461.1" stroke="#222" stroke-width="0.9"/>
<line x1="457.7" y1="499" x2="461.3" y2="499" stroke="#222" stroke-width="0.9"/>
<circle cx="446.7" cy="482.4" r="1.5" fill="#1aa0d6"/>
<circle cx="459.5" cy="443.4" r="1.5" fill="#c0102a"/>
<circle cx="459.5" cy="497.4" r="1.5" fill="#c0102a"/>
<text x="454.3" y="427.5" font-size="7" text-anchor="middle">ns</text>
<line x1="435.9" y1="431.5" x2="435.9" y2="500" stroke="#3c3c3c" stroke-width="1"/>
<line x1="433.3" y1="500" x2="435.9" y2="500" stroke="#3c3c3c" stroke-width="1"/>
<text x="432.4" y="502.64" font-size="8" text-anchor="end">0.0</text>
<line x1="433.3" y1="486.5" x2="435.9" y2="486.5" stroke="#3c3c3c" stroke-width="1"/>
<text x="432.4" y="489.14" font-size="8" text-anchor="end">0.5</text>
<line x1="433.3" y1="473" x2="435.9" y2="473" stroke="#3c3c3c" stroke-width="1"/>
<text x="432.4" y="475.64" font-size="8" text-anchor="end">1.0</text>
<line x1="433.3" y1="459.5" x2="435.9" y2="459.5" stroke="#3c3c3c" stroke-width="1"/>
<text x="432.4" y="462.14" font-size="8" text-anchor="end">1.5</text>
<line x1="433.3" y1="446" x2="435.9" y2="446" stroke="#3c3c3c" stroke-width="1"/>
<text x="432.4" y="448.64" font-size="8" text-anchor="end">2.0</text>
<line x1="433.3" y1="432.5" x2="435.9" y2="432.5" stroke="#3c3c3c" stroke-width="1"/>
<text x="432.4" y="435.14" font-size="8" text-anchor="end">2.5</text>
<line x1="435.9" y1="500" x2="470.3" y2="500" stroke="#3c3c3c" stroke-width="1"/>
<line x1="446.7" y1="500" x2="446.7" y2="502.4" stroke="#3c3c3c" stroke-width="1"/>
<line x1="459.5" y1="500" x2="459.5" y2="502.4" stroke="#3c3c3c" stroke-width="1"/>
<text x="450.1" y="510.2" font-size="8.2" text-anchor="end" transform="rotate(-45 450.1 510.2)">Control</text>
<text x="462.9" y="510.2" font-size="8.2" text-anchor="end" transform="rotate(-45 462.9 510.2)">BMS-794833</text>
</svg></body></html>
